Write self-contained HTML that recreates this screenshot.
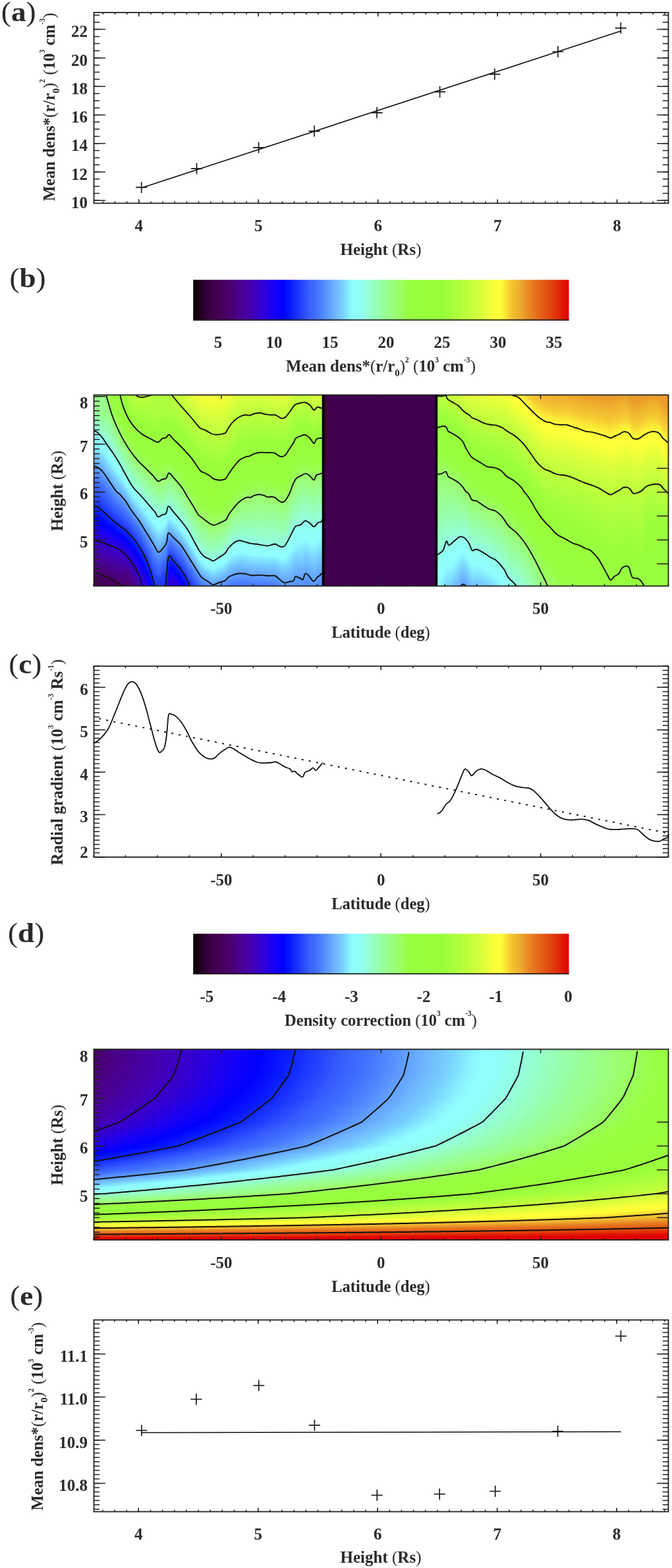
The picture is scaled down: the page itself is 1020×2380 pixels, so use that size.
<!DOCTYPE html>
<html><head><meta charset="utf-8"><title>Figure</title>
<style>
html,body{margin:0;padding:0;background:#fff;}
svg{display:block;}
text{font-family:"Liberation Serif","Times New Roman",serif;font-weight:bold;fill:#2a2a2a;}
</style></head><body>
<svg width="1020" height="2380" viewBox="0 0 1020 2380">
<rect width="1020" height="2380" fill="#fff"/>
<g id="pa">
<rect x="142.5" y="19" width="872" height="289.5" fill="none" stroke="#222" stroke-width="1.8"/>
<path d="M210.8 308.5v-6M210.8 19v6M392.25 308.5v-6M392.25 19v6M573.7 308.5v-6M573.7 19v6M755.15 308.5v-6M755.15 19v6M936.6 308.5v-6M936.6 19v6" stroke="#222" stroke-width="1.5" fill="none"/>
<path d="M156.37 308.5v-3M156.37 19v3M174.51 308.5v-3M174.51 19v3M192.66 308.5v-3M192.66 19v3M210.8 308.5v-3M210.8 19v3M228.95 308.5v-3M228.95 19v3M247.09 308.5v-3M247.09 19v3M265.24 308.5v-3M265.24 19v3M283.38 308.5v-3M283.38 19v3M301.52 308.5v-3M301.52 19v3M319.67 308.5v-3M319.67 19v3M337.82 308.5v-3M337.82 19v3M355.96 308.5v-3M355.96 19v3M374.11 308.5v-3M374.11 19v3M392.25 308.5v-3M392.25 19v3M410.4 308.5v-3M410.4 19v3M428.54 308.5v-3M428.54 19v3M446.69 308.5v-3M446.69 19v3M464.83 308.5v-3M464.83 19v3M482.97 308.5v-3M482.97 19v3M501.12 308.5v-3M501.12 19v3M519.27 308.5v-3M519.27 19v3M537.41 308.5v-3M537.41 19v3M555.56 308.5v-3M555.56 19v3M573.7 308.5v-3M573.7 19v3M591.85 308.5v-3M591.85 19v3M609.99 308.5v-3M609.99 19v3M628.14 308.5v-3M628.14 19v3M646.28 308.5v-3M646.28 19v3M664.42 308.5v-3M664.42 19v3M682.57 308.5v-3M682.57 19v3M700.72 308.5v-3M700.72 19v3M718.86 308.5v-3M718.86 19v3M737.01 308.5v-3M737.01 19v3M755.15 308.5v-3M755.15 19v3M773.3 308.5v-3M773.3 19v3M791.44 308.5v-3M791.44 19v3M809.59 308.5v-3M809.59 19v3M827.73 308.5v-3M827.73 19v3M845.88 308.5v-3M845.88 19v3M864.02 308.5v-3M864.02 19v3M882.16 308.5v-3M882.16 19v3M900.31 308.5v-3M900.31 19v3M918.45 308.5v-3M918.45 19v3M936.6 308.5v-3M936.6 19v3M954.75 308.5v-3M954.75 19v3M972.89 308.5v-3M972.89 19v3M991.04 308.5v-3M991.04 19v3M1009.18 308.5v-3M1009.18 19v3" stroke="#222" stroke-width="1.5" fill="none"/>
<path d="M142.5 304.3h17.4M1014.5 304.3h-17.4M142.5 261.02h17.4M1014.5 261.02h-17.4M142.5 217.74h17.4M1014.5 217.74h-17.4M142.5 174.46h17.4M1014.5 174.46h-17.4M142.5 131.18h17.4M1014.5 131.18h-17.4M142.5 87.9h17.4M1014.5 87.9h-17.4M142.5 44.62h17.4M1014.5 44.62h-17.4" stroke="#222" stroke-width="1.5" fill="none"/>
<path d="M142.5 304.3h8.7M1014.5 304.3h-8.7M142.5 293.48h8.7M1014.5 293.48h-8.7M142.5 282.66h8.7M1014.5 282.66h-8.7M142.5 271.84h8.7M1014.5 271.84h-8.7M142.5 261.02h8.7M1014.5 261.02h-8.7M142.5 250.2h8.7M1014.5 250.2h-8.7M142.5 239.38h8.7M1014.5 239.38h-8.7M142.5 228.56h8.7M1014.5 228.56h-8.7M142.5 217.74h8.7M1014.5 217.74h-8.7M142.5 206.92h8.7M1014.5 206.92h-8.7M142.5 196.1h8.7M1014.5 196.1h-8.7M142.5 185.28h8.7M1014.5 185.28h-8.7M142.5 174.46h8.7M1014.5 174.46h-8.7M142.5 163.64h8.7M1014.5 163.64h-8.7M142.5 152.82h8.7M1014.5 152.82h-8.7M142.5 142h8.7M1014.5 142h-8.7M142.5 131.18h8.7M1014.5 131.18h-8.7M142.5 120.36h8.7M1014.5 120.36h-8.7M142.5 109.54h8.7M1014.5 109.54h-8.7M142.5 98.72h8.7M1014.5 98.72h-8.7M142.5 87.9h8.7M1014.5 87.9h-8.7M142.5 77.08h8.7M1014.5 77.08h-8.7M142.5 66.26h8.7M1014.5 66.26h-8.7M142.5 55.44h8.7M1014.5 55.44h-8.7M142.5 44.62h8.7M1014.5 44.62h-8.7M142.5 33.8h8.7M1014.5 33.8h-8.7M142.5 22.98h8.7M1014.5 22.98h-8.7" stroke="#222" stroke-width="1.5" fill="none"/>
<text x="133.1" y="315.9" font-size="25" text-anchor="end" >10</text>
<text x="133.1" y="272.62" font-size="25" text-anchor="end" >12</text>
<text x="133.1" y="229.34" font-size="25" text-anchor="end" >14</text>
<text x="133.1" y="186.06" font-size="25" text-anchor="end" >16</text>
<text x="133.1" y="142.78" font-size="25" text-anchor="end" >18</text>
<text x="133.1" y="99.5" font-size="25" text-anchor="end" >20</text>
<text x="133.1" y="56.22" font-size="25" text-anchor="end" >22</text>
<text x="210.8" y="351.2" font-size="25" text-anchor="middle" >4</text>
<text x="392.25" y="351.2" font-size="25" text-anchor="middle" >5</text>
<text x="573.7" y="351.2" font-size="25" text-anchor="middle" >6</text>
<text x="755.15" y="351.2" font-size="25" text-anchor="middle" >7</text>
<text x="936.6" y="351.2" font-size="25" text-anchor="middle" >8</text>
<text x="578" y="386.6" font-size="25" text-anchor="middle" >Height <tspan font-weight="normal">(</tspan>Rs<tspan font-weight="normal">)</tspan></text>
<text transform="translate(82.6,162.4) rotate(-90)" font-size="24.7" text-anchor="middle">Mean dens*<tspan font-weight="normal">(</tspan>r/r<tspan font-size="15" dy="7">0</tspan><tspan dy="-7"><tspan font-weight="normal">)</tspan></tspan><tspan font-size="11.5" dy="-14.5">2</tspan><tspan dy="14.5"> <tspan font-weight="normal">(</tspan>10</tspan><tspan font-size="11.5" dy="-14.5">3</tspan><tspan dy="14.5"> cm</tspan><tspan font-size="11.5" dy="-14.5">-3</tspan><tspan dy="14.5"><tspan font-weight="normal">)</tspan></tspan></text>
<text transform="translate(1.87,31.9) scale(1.05,1)" font-size="43"><tspan font-weight="normal"><tspan font-weight="normal">(</tspan></tspan>a<tspan font-weight="normal"><tspan font-weight="normal">)</tspan></tspan></text>
<path d="M206.2 284.4H223.2M214.7 275.9V292.9" stroke="#111" stroke-width="1.6" fill="none"/>
<path d="M290 255.9H307M298.5 247.4V264.4" stroke="#111" stroke-width="1.6" fill="none"/>
<path d="M384.1 224.1H401.1M392.6 215.6V232.6" stroke="#111" stroke-width="1.6" fill="none"/>
<path d="M468.6 199.1H485.6M477.1 190.6V207.6" stroke="#111" stroke-width="1.6" fill="none"/>
<path d="M563.6 171.1H580.6M572.1 162.6V179.6" stroke="#111" stroke-width="1.6" fill="none"/>
<path d="M659.1 139.4H676.1M667.6 130.9V147.9" stroke="#111" stroke-width="1.6" fill="none"/>
<path d="M742.3 112.6H759.3M750.8 104.1V121.1" stroke="#111" stroke-width="1.6" fill="none"/>
<path d="M838.3 78.5H855.3M846.8 70V87" stroke="#111" stroke-width="1.6" fill="none"/>
<path d="M933.8 42.6H950.8M942.3 34.1V51.1" stroke="#111" stroke-width="1.6" fill="none"/>
<polyline points="214.7,285.2 941.8,47.2" fill="none" stroke="#111" stroke-width="1.6" stroke-linejoin="round" stroke-linecap="round" />
</g>
<g id="pe">
<rect x="142.5" y="2003.5" width="872" height="291" fill="none" stroke="#222" stroke-width="1.8"/>
<path d="M210.3 2294.5v-6M210.3 2003.5v6M391.75 2294.5v-6M391.75 2003.5v6M573.2 2294.5v-6M573.2 2003.5v6M754.65 2294.5v-6M754.65 2003.5v6M936.1 2294.5v-6M936.1 2003.5v6" stroke="#222" stroke-width="1.5" fill="none"/>
<path d="M155.87 2294.5v-3M155.87 2003.5v3M174.01 2294.5v-3M174.01 2003.5v3M192.16 2294.5v-3M192.16 2003.5v3M210.3 2294.5v-3M210.3 2003.5v3M228.45 2294.5v-3M228.45 2003.5v3M246.59 2294.5v-3M246.59 2003.5v3M264.74 2294.5v-3M264.74 2003.5v3M282.88 2294.5v-3M282.88 2003.5v3M301.02 2294.5v-3M301.02 2003.5v3M319.17 2294.5v-3M319.17 2003.5v3M337.32 2294.5v-3M337.32 2003.5v3M355.46 2294.5v-3M355.46 2003.5v3M373.61 2294.5v-3M373.61 2003.5v3M391.75 2294.5v-3M391.75 2003.5v3M409.9 2294.5v-3M409.9 2003.5v3M428.04 2294.5v-3M428.04 2003.5v3M446.19 2294.5v-3M446.19 2003.5v3M464.33 2294.5v-3M464.33 2003.5v3M482.47 2294.5v-3M482.47 2003.5v3M500.62 2294.5v-3M500.62 2003.5v3M518.77 2294.5v-3M518.77 2003.5v3M536.91 2294.5v-3M536.91 2003.5v3M555.06 2294.5v-3M555.06 2003.5v3M573.2 2294.5v-3M573.2 2003.5v3M591.35 2294.5v-3M591.35 2003.5v3M609.49 2294.5v-3M609.49 2003.5v3M627.64 2294.5v-3M627.64 2003.5v3M645.78 2294.5v-3M645.78 2003.5v3M663.92 2294.5v-3M663.92 2003.5v3M682.07 2294.5v-3M682.07 2003.5v3M700.22 2294.5v-3M700.22 2003.5v3M718.36 2294.5v-3M718.36 2003.5v3M736.51 2294.5v-3M736.51 2003.5v3M754.65 2294.5v-3M754.65 2003.5v3M772.8 2294.5v-3M772.8 2003.5v3M790.94 2294.5v-3M790.94 2003.5v3M809.09 2294.5v-3M809.09 2003.5v3M827.23 2294.5v-3M827.23 2003.5v3M845.38 2294.5v-3M845.38 2003.5v3M863.52 2294.5v-3M863.52 2003.5v3M881.66 2294.5v-3M881.66 2003.5v3M899.81 2294.5v-3M899.81 2003.5v3M917.95 2294.5v-3M917.95 2003.5v3M936.1 2294.5v-3M936.1 2003.5v3M954.25 2294.5v-3M954.25 2003.5v3M972.39 2294.5v-3M972.39 2003.5v3M990.54 2294.5v-3M990.54 2003.5v3M1008.68 2294.5v-3M1008.68 2003.5v3" stroke="#222" stroke-width="1.5" fill="none"/>
<path d="M142.5 2251.4h17.4M1014.5 2251.4h-17.4M142.5 2186h17.4M1014.5 2186h-17.4M142.5 2120.6h17.4M1014.5 2120.6h-17.4M142.5 2055.2h17.4M1014.5 2055.2h-17.4" stroke="#222" stroke-width="1.5" fill="none"/>
<path d="M142.5 2290.64h8.7M1014.5 2290.64h-8.7M142.5 2284.1h8.7M1014.5 2284.1h-8.7M142.5 2277.56h8.7M1014.5 2277.56h-8.7M142.5 2271.02h8.7M1014.5 2271.02h-8.7M142.5 2264.48h8.7M1014.5 2264.48h-8.7M142.5 2257.94h8.7M1014.5 2257.94h-8.7M142.5 2251.4h8.7M1014.5 2251.4h-8.7M142.5 2244.86h8.7M1014.5 2244.86h-8.7M142.5 2238.32h8.7M1014.5 2238.32h-8.7M142.5 2231.78h8.7M1014.5 2231.78h-8.7M142.5 2225.24h8.7M1014.5 2225.24h-8.7M142.5 2218.7h8.7M1014.5 2218.7h-8.7M142.5 2212.16h8.7M1014.5 2212.16h-8.7M142.5 2205.62h8.7M1014.5 2205.62h-8.7M142.5 2199.08h8.7M1014.5 2199.08h-8.7M142.5 2192.54h8.7M1014.5 2192.54h-8.7M142.5 2186h8.7M1014.5 2186h-8.7M142.5 2179.46h8.7M1014.5 2179.46h-8.7M142.5 2172.92h8.7M1014.5 2172.92h-8.7M142.5 2166.38h8.7M1014.5 2166.38h-8.7M142.5 2159.84h8.7M1014.5 2159.84h-8.7M142.5 2153.3h8.7M1014.5 2153.3h-8.7M142.5 2146.76h8.7M1014.5 2146.76h-8.7M142.5 2140.22h8.7M1014.5 2140.22h-8.7M142.5 2133.68h8.7M1014.5 2133.68h-8.7M142.5 2127.14h8.7M1014.5 2127.14h-8.7M142.5 2120.6h8.7M1014.5 2120.6h-8.7M142.5 2114.06h8.7M1014.5 2114.06h-8.7M142.5 2107.52h8.7M1014.5 2107.52h-8.7M142.5 2100.98h8.7M1014.5 2100.98h-8.7M142.5 2094.44h8.7M1014.5 2094.44h-8.7M142.5 2087.9h8.7M1014.5 2087.9h-8.7M142.5 2081.36h8.7M1014.5 2081.36h-8.7M142.5 2074.82h8.7M1014.5 2074.82h-8.7M142.5 2068.28h8.7M1014.5 2068.28h-8.7M142.5 2061.74h8.7M1014.5 2061.74h-8.7M142.5 2055.2h8.7M1014.5 2055.2h-8.7M142.5 2048.66h8.7M1014.5 2048.66h-8.7M142.5 2042.12h8.7M1014.5 2042.12h-8.7M142.5 2035.58h8.7M1014.5 2035.58h-8.7M142.5 2029.04h8.7M1014.5 2029.04h-8.7M142.5 2022.5h8.7M1014.5 2022.5h-8.7M142.5 2015.96h8.7M1014.5 2015.96h-8.7M142.5 2009.42h8.7M1014.5 2009.42h-8.7" stroke="#222" stroke-width="1.5" fill="none"/>
<text x="133.1" y="2263" font-size="25" text-anchor="end" >10.8</text>
<text x="133.1" y="2197.6" font-size="25" text-anchor="end" >10.9</text>
<text x="133.1" y="2132.2" font-size="25" text-anchor="end" >11.0</text>
<text x="133.1" y="2066.8" font-size="25" text-anchor="end" >11.1</text>
<text x="210.3" y="2336.8" font-size="25" text-anchor="middle" >4</text>
<text x="391.75" y="2336.8" font-size="25" text-anchor="middle" >5</text>
<text x="573.2" y="2336.8" font-size="25" text-anchor="middle" >6</text>
<text x="754.65" y="2336.8" font-size="25" text-anchor="middle" >7</text>
<text x="936.1" y="2336.8" font-size="25" text-anchor="middle" >8</text>
<text x="578" y="2372.4" font-size="25" text-anchor="middle" >Height <tspan font-weight="normal">(</tspan>Rs<tspan font-weight="normal">)</tspan></text>
<text transform="translate(65.2,2149.8) rotate(-90)" font-size="24.7" text-anchor="middle">Mean dens*<tspan font-weight="normal">(</tspan>r/r<tspan font-size="15" dy="7">0</tspan><tspan dy="-7"><tspan font-weight="normal">)</tspan></tspan><tspan font-size="11.5" dy="-14.5">2</tspan><tspan dy="14.5"> <tspan font-weight="normal">(</tspan>10</tspan><tspan font-size="11.5" dy="-14.5">3</tspan><tspan dy="14.5"> cm</tspan><tspan font-size="11.5" dy="-14.5">-3</tspan><tspan dy="14.5"><tspan font-weight="normal">)</tspan></tspan></text>
<text transform="translate(15.27,1981.1) scale(1.05,1)" font-size="43"><tspan font-weight="normal"><tspan font-weight="normal">(</tspan></tspan>e<tspan font-weight="normal"><tspan font-weight="normal">)</tspan></tspan></text>
<path d="M206.4 2171.2H223.4M214.9 2162.7V2179.7" stroke="#111" stroke-width="1.6" fill="none"/>
<path d="M289.4 2123.7H306.4M297.9 2115.2V2132.2" stroke="#111" stroke-width="1.6" fill="none"/>
<path d="M384.3 2103H401.3M392.8 2094.5V2111.5" stroke="#111" stroke-width="1.6" fill="none"/>
<path d="M468.9 2163.4H485.9M477.4 2154.9V2171.9" stroke="#111" stroke-width="1.6" fill="none"/>
<path d="M563.8 2269.5H580.8M572.3 2261V2278" stroke="#111" stroke-width="1.6" fill="none"/>
<path d="M658.7 2267.8H675.7M667.2 2259.3V2276.3" stroke="#111" stroke-width="1.6" fill="none"/>
<path d="M743.2 2263.5H760.2M751.7 2255V2272" stroke="#111" stroke-width="1.6" fill="none"/>
<path d="M838.1 2172.6H855.1M846.6 2164.1V2181.1" stroke="#111" stroke-width="1.6" fill="none"/>
<path d="M933.9 2028H950.9M942.4 2019.5V2036.5" stroke="#111" stroke-width="1.6" fill="none"/>
<polyline points="215,2174.5 942,2173.2" fill="none" stroke="#111" stroke-width="1.6" stroke-linejoin="round" stroke-linecap="round" />
</g>
<g id="pc">
<rect x="142.5" y="1011.2" width="872" height="289.8" fill="none" stroke="#222" stroke-width="1.8"/>
<path d="M335.9 1301v-6M335.9 1011.2v6M578.25 1301v-6M578.25 1011.2v6M820.6 1301v-6M820.6 1011.2v6" stroke="#222" stroke-width="1.5" fill="none"/>
<path d="M142.02 1301v-3M142.02 1011.2v3M190.49 1301v-3M190.49 1011.2v3M238.96 1301v-3M238.96 1011.2v3M287.43 1301v-3M287.43 1011.2v3M335.9 1301v-3M335.9 1011.2v3M384.37 1301v-3M384.37 1011.2v3M432.84 1301v-3M432.84 1011.2v3M481.31 1301v-3M481.31 1011.2v3M529.78 1301v-3M529.78 1011.2v3M578.25 1301v-3M578.25 1011.2v3M626.72 1301v-3M626.72 1011.2v3M675.19 1301v-3M675.19 1011.2v3M723.66 1301v-3M723.66 1011.2v3M772.13 1301v-3M772.13 1011.2v3M820.6 1301v-3M820.6 1011.2v3M869.07 1301v-3M869.07 1011.2v3M917.54 1301v-3M917.54 1011.2v3M966.01 1301v-3M966.01 1011.2v3M1014.48 1301v-3M1014.48 1011.2v3" stroke="#222" stroke-width="1.5" fill="none"/>
<path d="M142.5 1301h17.4M1014.5 1301h-17.4M142.5 1236.55h17.4M1014.5 1236.55h-17.4M142.5 1172.1h17.4M1014.5 1172.1h-17.4M142.5 1107.65h17.4M1014.5 1107.65h-17.4M142.5 1043.2h17.4M1014.5 1043.2h-17.4" stroke="#222" stroke-width="1.5" fill="none"/>
<path d="M142.5 1301h8.7M1014.5 1301h-8.7M142.5 1294.56h8.7M1014.5 1294.56h-8.7M142.5 1288.11h8.7M1014.5 1288.11h-8.7M142.5 1281.66h8.7M1014.5 1281.66h-8.7M142.5 1275.22h8.7M1014.5 1275.22h-8.7M142.5 1268.78h8.7M1014.5 1268.78h-8.7M142.5 1262.33h8.7M1014.5 1262.33h-8.7M142.5 1255.88h8.7M1014.5 1255.88h-8.7M142.5 1249.44h8.7M1014.5 1249.44h-8.7M142.5 1242.99h8.7M1014.5 1242.99h-8.7M142.5 1236.55h8.7M1014.5 1236.55h-8.7M142.5 1230.11h8.7M1014.5 1230.11h-8.7M142.5 1223.66h8.7M1014.5 1223.66h-8.7M142.5 1217.21h8.7M1014.5 1217.21h-8.7M142.5 1210.77h8.7M1014.5 1210.77h-8.7M142.5 1204.33h8.7M1014.5 1204.33h-8.7M142.5 1197.88h8.7M1014.5 1197.88h-8.7M142.5 1191.43h8.7M1014.5 1191.43h-8.7M142.5 1184.99h8.7M1014.5 1184.99h-8.7M142.5 1178.55h8.7M1014.5 1178.55h-8.7M142.5 1172.1h8.7M1014.5 1172.1h-8.7M142.5 1165.65h8.7M1014.5 1165.65h-8.7M142.5 1159.21h8.7M1014.5 1159.21h-8.7M142.5 1152.76h8.7M1014.5 1152.76h-8.7M142.5 1146.32h8.7M1014.5 1146.32h-8.7M142.5 1139.88h8.7M1014.5 1139.88h-8.7M142.5 1133.43h8.7M1014.5 1133.43h-8.7M142.5 1126.98h8.7M1014.5 1126.98h-8.7M142.5 1120.54h8.7M1014.5 1120.54h-8.7M142.5 1114.1h8.7M1014.5 1114.1h-8.7M142.5 1107.65h8.7M1014.5 1107.65h-8.7M142.5 1101.2h8.7M1014.5 1101.2h-8.7M142.5 1094.76h8.7M1014.5 1094.76h-8.7M142.5 1088.32h8.7M1014.5 1088.32h-8.7M142.5 1081.87h8.7M1014.5 1081.87h-8.7M142.5 1075.42h8.7M1014.5 1075.42h-8.7M142.5 1068.98h8.7M1014.5 1068.98h-8.7M142.5 1062.53h8.7M1014.5 1062.53h-8.7M142.5 1056.09h8.7M1014.5 1056.09h-8.7M142.5 1049.64h8.7M1014.5 1049.64h-8.7M142.5 1043.2h8.7M1014.5 1043.2h-8.7M142.5 1036.75h8.7M1014.5 1036.75h-8.7M142.5 1030.31h8.7M1014.5 1030.31h-8.7M142.5 1023.87h8.7M1014.5 1023.87h-8.7M142.5 1017.42h8.7M1014.5 1017.42h-8.7M142.5 1010.97h8.7M1014.5 1010.97h-8.7" stroke="#222" stroke-width="1.5" fill="none"/>
<text x="133.8" y="1301.5" font-size="25" text-anchor="end" >2</text>
<text x="133.8" y="1248.15" font-size="25" text-anchor="end" >3</text>
<text x="133.8" y="1183.7" font-size="25" text-anchor="end" >4</text>
<text x="133.8" y="1119.25" font-size="25" text-anchor="end" >5</text>
<text x="133.8" y="1054.8" font-size="25" text-anchor="end" >6</text>
<text x="335.9" y="1343.5" font-size="25" text-anchor="middle" >-50</text>
<text x="578.25" y="1343.5" font-size="25" text-anchor="middle" >0</text>
<text x="820.6" y="1343.5" font-size="25" text-anchor="middle" >50</text>
<text x="578" y="1379.6" font-size="24.6" text-anchor="middle" >Latitude <tspan font-weight="normal">(</tspan>deg<tspan font-weight="normal">)</tspan></text>
<text transform="translate(95,1157) rotate(-90)" font-size="25" text-anchor="middle">Radial gradient <tspan font-weight="normal">(</tspan>10<tspan font-size="11.5" dy="-14.5">3</tspan><tspan dy="14.5"> cm</tspan><tspan font-size="11.5" dy="-14.5">-3</tspan><tspan dy="14.5"> Rs</tspan><tspan font-size="11.5" dy="-14.5">-1</tspan><tspan dy="14.5"><tspan font-weight="normal">)</tspan></tspan></text>
<text transform="translate(13.27,1021.9) scale(1.05,1)" font-size="43"><tspan font-weight="normal"><tspan font-weight="normal">(</tspan></tspan>c<tspan font-weight="normal"><tspan font-weight="normal">)</tspan></tspan></text>
<path d="M142.5 1128C142.97 1127.75 143.37 1127.93 145.3 1126.5C147.23 1125.07 150.87 1122.93 154.1 1119.4C157.33 1115.87 161.17 1111.77 164.7 1105.3C168.23 1098.83 171.77 1089.13 175.3 1080.6C178.83 1072.07 182.97 1060.87 185.9 1054.1C188.83 1047.33 190.55 1043.23 192.9 1040C195.25 1036.77 197.63 1034.88 200 1034.7C202.37 1034.52 204.75 1035.95 207.1 1038.9C209.45 1041.85 211.75 1046.63 214.1 1052.4C216.45 1058.17 218.85 1065.57 221.2 1073.5C223.55 1081.43 225.85 1091.17 228.2 1100C230.55 1108.83 233.23 1119.73 235.3 1126.5C237.37 1133.27 239.13 1138.13 240.6 1140.6C242.07 1143.07 242.63 1142.18 244.1 1141.3C245.57 1140.42 247.93 1139.53 249.4 1135.3C250.87 1131.07 251.83 1124.13 252.9 1115.9C253.97 1107.67 254.62 1091.2 255.8 1085.9C256.98 1080.6 258.42 1084.1 260 1084.1C261.58 1084.1 262.95 1084.13 265.3 1085.9C267.65 1087.67 271.17 1090.88 274.1 1094.7C277.03 1098.52 279.95 1103.5 282.9 1108.8C285.85 1114.1 288.55 1120.9 291.8 1126.5C295.05 1132.1 298.88 1138.4 302.4 1142.4C305.92 1146.4 309.67 1148.92 312.9 1150.5C316.13 1152.08 319.43 1152.08 321.8 1151.9C324.17 1151.72 325.33 1150.7 327.1 1149.4C328.87 1148.1 330.05 1146.03 332.4 1144.1C334.75 1142.17 338.57 1139.45 341.2 1137.8C343.83 1136.15 345.85 1134.32 348.2 1134.2C350.55 1134.08 352.35 1135.45 355.3 1137.1C358.25 1138.75 361.78 1141.58 365.9 1144.1C370.02 1146.62 375.58 1149.97 380 1152.2C384.42 1154.43 388.87 1156.5 392.4 1157.5C395.93 1158.5 397.97 1158.2 401.2 1158.2C404.43 1158.2 408.87 1157.78 411.8 1157.5C414.73 1157.22 416.45 1156.08 418.8 1156.5C421.15 1156.92 423.55 1158.72 425.9 1160C428.25 1161.28 430.55 1163.02 432.9 1164.2C435.25 1165.38 438.23 1165.87 440 1167.1C441.77 1168.33 442.32 1171.02 443.5 1171.6C444.68 1172.18 445.62 1170 447.1 1170.6C448.58 1171.2 450.35 1173.73 452.4 1175.2C454.45 1176.67 457.65 1179.87 459.4 1179.4C461.15 1178.93 461.13 1174.05 462.9 1172.4C464.67 1170.75 467.93 1170.68 470 1169.5C472.07 1168.32 473.72 1165.3 475.3 1165.3C476.88 1165.3 478.03 1169.62 479.5 1169.5C480.97 1169.38 482.45 1166.48 484.1 1164.6C485.75 1162.72 488.52 1159.27 489.4 1158.2" fill="none" stroke="#111" stroke-width="1.8" stroke-linejoin="round" stroke-linecap="round" />
<path d="M664.5 1235C665.42 1234.4 667.88 1233.82 670 1231.4C672.12 1228.98 675.1 1223.03 677.2 1220.5C679.3 1217.97 680.78 1218.43 682.6 1216.2C684.42 1213.97 685.98 1211.33 688.1 1207.1C690.22 1202.87 692.88 1196.55 695.3 1190.8C697.72 1185.05 700.78 1176.53 702.6 1172.6C704.42 1168.67 704.68 1167.32 706.2 1167.2C707.72 1167.08 710.07 1170.2 711.7 1171.9C713.33 1173.6 714.2 1177.58 716 1177.4C717.8 1177.22 720.2 1172.5 722.5 1170.8C724.8 1169.1 727.37 1167.5 729.8 1167.2C732.23 1166.9 734.08 1167.62 737.1 1169C740.12 1170.38 744.28 1173.57 747.9 1175.5C751.52 1177.43 755.17 1178.65 758.8 1180.6C762.43 1182.55 766.07 1185.2 769.7 1187.2C773.33 1189.2 776.97 1191.28 780.6 1192.6C784.23 1193.92 787.88 1194.5 791.5 1195.1C795.12 1195.7 799.28 1195.4 802.3 1196.2C805.32 1197 806.57 1197.48 809.6 1199.9C812.63 1202.32 816.87 1206.78 820.5 1210.7C824.13 1214.62 827.78 1219.35 831.4 1223.4C835.02 1227.45 838.58 1231.85 842.2 1235C845.82 1238.15 848.87 1240.72 853.1 1242.3C857.33 1243.88 862.75 1244.32 867.6 1244.5C872.45 1244.68 877.97 1243.28 882.2 1243.4C886.43 1243.52 889.38 1244 893 1245.2C896.62 1246.4 899.67 1248.67 903.9 1250.6C908.13 1252.53 914.47 1255.4 918.4 1256.8C922.33 1258.2 923.87 1258.63 927.5 1259C931.13 1259.37 935.67 1259.18 940.2 1259C944.73 1258.82 950.17 1257.9 954.7 1257.9C959.23 1257.9 963.77 1257.48 967.4 1259C971.03 1260.52 973.18 1264.35 976.5 1267C979.82 1269.65 983.38 1273.22 987.3 1274.9C991.22 1276.58 996.67 1277.33 1000 1277.1C1003.33 1276.87 1005 1274.58 1007.3 1273.5C1009.6 1272.42 1012.6 1271.85 1013.8 1270.6C1015 1269.35 1014.38 1266.77 1014.5 1266" fill="none" stroke="#111" stroke-width="1.8" stroke-linejoin="round" stroke-linecap="round" />
<line x1="150.3" y1="1090.8" x2="1014.5" y2="1264.8" stroke="#111" stroke-width="1.9" stroke-dasharray="3 8.2" />
</g>
<g id="pb">
<defs><linearGradient id="cb1" x1="0" y1="0" x2="1" y2="0"><stop offset="0.0000" stop-color="#000000"/><stop offset="0.0119" stop-color="#1a0010"/><stop offset="0.0295" stop-color="#2c0032"/><stop offset="0.0470" stop-color="#3c0046"/><stop offset="0.0645" stop-color="#440052"/><stop offset="0.0821" stop-color="#48005e"/><stop offset="0.0996" stop-color="#4a0070"/><stop offset="0.1171" stop-color="#4a0087"/><stop offset="0.1347" stop-color="#48009b"/><stop offset="0.1522" stop-color="#4400af"/><stop offset="0.1697" stop-color="#3c00c3"/><stop offset="0.1873" stop-color="#3000d7"/><stop offset="0.2048" stop-color="#2000eb"/><stop offset="0.2223" stop-color="#1000fa"/><stop offset="0.2381" stop-color="#0000ff"/><stop offset="0.2574" stop-color="#0818ff"/><stop offset="0.2749" stop-color="#1830ff"/><stop offset="0.2925" stop-color="#2848ff"/><stop offset="0.3100" stop-color="#3860ff"/><stop offset="0.3275" stop-color="#4070ff"/><stop offset="0.3451" stop-color="#5088ff"/><stop offset="0.3626" stop-color="#60a0ff"/><stop offset="0.3802" stop-color="#70b8ff"/><stop offset="0.3977" stop-color="#78d0ff"/><stop offset="0.4152" stop-color="#88f0ff"/><stop offset="0.4257" stop-color="#90ffff"/><stop offset="0.4415" stop-color="#90fff8"/><stop offset="0.4591" stop-color="#94ffe0"/><stop offset="0.4766" stop-color="#96ffc4"/><stop offset="0.5029" stop-color="#98ffa0"/><stop offset="0.5380" stop-color="#9bff76"/><stop offset="0.5730" stop-color="#98ff44"/><stop offset="0.5906" stop-color="#98ff3e"/><stop offset="0.6169" stop-color="#96ff3c"/><stop offset="0.6607" stop-color="#98ff3c"/><stop offset="0.6782" stop-color="#a0ff3c"/><stop offset="0.7133" stop-color="#b4ff3c"/><stop offset="0.7484" stop-color="#caff3c"/><stop offset="0.7834" stop-color="#e8ff3a"/><stop offset="0.8045" stop-color="#ffff38"/><stop offset="0.8185" stop-color="#ffff38"/><stop offset="0.8448" stop-color="#f5c832"/><stop offset="0.8711" stop-color="#eeaa2d"/><stop offset="0.8974" stop-color="#e88223"/><stop offset="0.9237" stop-color="#e46419"/><stop offset="0.9500" stop-color="#e1460f"/><stop offset="0.9763" stop-color="#e12305"/><stop offset="1.0000" stop-color="#e10000"/></linearGradient></defs>
<rect x="293.2" y="424.7" width="570.3" height="61.80000000000001" fill="url(#cb1)"/>
<line x1="293.2" y1="485.6" x2="863.5" y2="485.6" stroke="#222" stroke-width="1.8"/>
<text x="331" y="527.6" font-size="25" text-anchor="middle" >5</text>
<text x="416" y="527.6" font-size="25" text-anchor="middle" >10</text>
<text x="501" y="527.6" font-size="25" text-anchor="middle" >15</text>
<text x="586" y="527.6" font-size="25" text-anchor="middle" >20</text>
<text x="671" y="527.6" font-size="25" text-anchor="middle" >25</text>
<text x="756" y="527.6" font-size="25" text-anchor="middle" >30</text>
<text x="841" y="527.6" font-size="25" text-anchor="middle" >35</text>
<text x="578" y="564.4" font-size="24.9" text-anchor="middle">Mean dens*<tspan font-weight="normal">(</tspan>r/r<tspan font-size="15" dy="7">0</tspan><tspan dy="-7"><tspan font-weight="normal">)</tspan></tspan><tspan font-size="11.5" dy="-14.5">2</tspan><tspan dy="14.5"> <tspan font-weight="normal">(</tspan>10</tspan><tspan font-size="11.5" dy="-14.5">3</tspan><tspan dy="14.5"> cm</tspan><tspan font-size="11.5" dy="-14.5">-3</tspan><tspan dy="14.5"><tspan font-weight="normal">)</tspan></tspan></text>
<text transform="translate(14.47,436.1) scale(1.05,1)" font-size="43"><tspan font-weight="normal"><tspan font-weight="normal">(</tspan></tspan>b<tspan font-weight="normal"><tspan font-weight="normal">)</tspan></tspan></text>
<defs><linearGradient id="b0" x2="0" y2="1"><stop offset="0.002" stop-color="#99ff8d"/><stop offset="0.060" stop-color="#99ff8f"/><stop offset="0.143" stop-color="#96ffc4"/><stop offset="0.201" stop-color="#91ffef"/><stop offset="0.218" stop-color="#90fff9"/><stop offset="0.246" stop-color="#90ffff"/><stop offset="0.277" stop-color="#84e8ff"/><stop offset="0.311" stop-color="#76cbff"/><stop offset="0.345" stop-color="#6db4ff"/><stop offset="0.455" stop-color="#4070ff"/><stop offset="0.503" stop-color="#345bff"/><stop offset="0.600" stop-color="#0d1fff"/><stop offset="0.627" stop-color="#040dff"/><stop offset="0.648" stop-color="#0000ff"/><stop offset="0.686" stop-color="#1300f7"/><stop offset="0.730" stop-color="#2800e1"/><stop offset="0.789" stop-color="#3e00be"/><stop offset="0.840" stop-color="#47009f"/><stop offset="0.919" stop-color="#4a006c"/><stop offset="0.957" stop-color="#460059"/><stop offset="0.998" stop-color="#3f004a"/></linearGradient><linearGradient id="b1" x2="0" y2="1"><stop offset="0.002" stop-color="#99ff8d"/><stop offset="0.060" stop-color="#99ff8f"/><stop offset="0.143" stop-color="#96ffc4"/><stop offset="0.201" stop-color="#91ffef"/><stop offset="0.218" stop-color="#90fff9"/><stop offset="0.246" stop-color="#90ffff"/><stop offset="0.277" stop-color="#84e8ff"/><stop offset="0.311" stop-color="#76cbff"/><stop offset="0.345" stop-color="#6db4ff"/><stop offset="0.455" stop-color="#4070ff"/><stop offset="0.503" stop-color="#345bff"/><stop offset="0.600" stop-color="#0d1fff"/><stop offset="0.627" stop-color="#040dff"/><stop offset="0.648" stop-color="#0000ff"/><stop offset="0.686" stop-color="#1300f7"/><stop offset="0.730" stop-color="#2800e1"/><stop offset="0.789" stop-color="#3e00be"/><stop offset="0.840" stop-color="#47009f"/><stop offset="0.919" stop-color="#4a006c"/><stop offset="0.957" stop-color="#460059"/><stop offset="0.998" stop-color="#3f004a"/></linearGradient><linearGradient id="b2" x2="0" y2="1"><stop offset="0.002" stop-color="#99ff8d"/><stop offset="0.060" stop-color="#99ff8e"/><stop offset="0.139" stop-color="#96ffc0"/><stop offset="0.208" stop-color="#91fff3"/><stop offset="0.222" stop-color="#90fff9"/><stop offset="0.249" stop-color="#90feff"/><stop offset="0.284" stop-color="#82e3ff"/><stop offset="0.314" stop-color="#76c9ff"/><stop offset="0.349" stop-color="#6cb2ff"/><stop offset="0.459" stop-color="#3f6fff"/><stop offset="0.507" stop-color="#3459ff"/><stop offset="0.600" stop-color="#0d20ff"/><stop offset="0.627" stop-color="#050eff"/><stop offset="0.648" stop-color="#0001ff"/><stop offset="0.686" stop-color="#1300f7"/><stop offset="0.730" stop-color="#2800e2"/><stop offset="0.789" stop-color="#3e00bf"/><stop offset="0.844" stop-color="#48009d"/><stop offset="0.923" stop-color="#49006b"/><stop offset="0.960" stop-color="#460059"/><stop offset="0.998" stop-color="#3f004b"/></linearGradient><linearGradient id="b3" x2="0" y2="1"><stop offset="0.002" stop-color="#99ff8d"/><stop offset="0.067" stop-color="#99ff8e"/><stop offset="0.146" stop-color="#96ffc1"/><stop offset="0.215" stop-color="#91fff3"/><stop offset="0.229" stop-color="#90fffa"/><stop offset="0.253" stop-color="#90ffff"/><stop offset="0.284" stop-color="#84e8ff"/><stop offset="0.318" stop-color="#76caff"/><stop offset="0.352" stop-color="#6db3ff"/><stop offset="0.459" stop-color="#4171ff"/><stop offset="0.510" stop-color="#345aff"/><stop offset="0.603" stop-color="#0e20ff"/><stop offset="0.631" stop-color="#050eff"/><stop offset="0.655" stop-color="#0100ff"/><stop offset="0.689" stop-color="#1300f8"/><stop offset="0.734" stop-color="#2800e2"/><stop offset="0.792" stop-color="#3e00bf"/><stop offset="0.847" stop-color="#48009d"/><stop offset="0.926" stop-color="#49006a"/><stop offset="0.964" stop-color="#460058"/><stop offset="0.998" stop-color="#40004c"/></linearGradient><linearGradient id="b4" x2="0" y2="1"><stop offset="0.002" stop-color="#99ff8d"/><stop offset="0.077" stop-color="#99ff8e"/><stop offset="0.156" stop-color="#96ffc2"/><stop offset="0.218" stop-color="#91fff1"/><stop offset="0.232" stop-color="#90fff9"/><stop offset="0.259" stop-color="#90ffff"/><stop offset="0.290" stop-color="#83e7ff"/><stop offset="0.325" stop-color="#76c9ff"/><stop offset="0.359" stop-color="#6cb2ff"/><stop offset="0.459" stop-color="#4374ff"/><stop offset="0.517" stop-color="#3359ff"/><stop offset="0.607" stop-color="#0e21ff"/><stop offset="0.631" stop-color="#0611ff"/><stop offset="0.658" stop-color="#0100ff"/><stop offset="0.692" stop-color="#1200f8"/><stop offset="0.737" stop-color="#2800e2"/><stop offset="0.796" stop-color="#3e00be"/><stop offset="0.851" stop-color="#48009d"/><stop offset="0.930" stop-color="#49006a"/><stop offset="0.967" stop-color="#460058"/><stop offset="0.998" stop-color="#41004d"/></linearGradient><linearGradient id="b5" x2="0" y2="1"><stop offset="0.002" stop-color="#99ff8d"/><stop offset="0.091" stop-color="#99ff8e"/><stop offset="0.170" stop-color="#96ffc3"/><stop offset="0.229" stop-color="#91fff0"/><stop offset="0.242" stop-color="#90fff9"/><stop offset="0.270" stop-color="#90ffff"/><stop offset="0.301" stop-color="#83e7ff"/><stop offset="0.332" stop-color="#76cbff"/><stop offset="0.366" stop-color="#6db3ff"/><stop offset="0.442" stop-color="#4d83ff"/><stop offset="0.483" stop-color="#3e6cff"/><stop offset="0.524" stop-color="#3359ff"/><stop offset="0.613" stop-color="#0e21ff"/><stop offset="0.637" stop-color="#0611ff"/><stop offset="0.665" stop-color="#0100ff"/><stop offset="0.699" stop-color="#1300f7"/><stop offset="0.744" stop-color="#2900e0"/><stop offset="0.799" stop-color="#3e00be"/><stop offset="0.854" stop-color="#48009d"/><stop offset="0.933" stop-color="#49006a"/><stop offset="0.971" stop-color="#460058"/><stop offset="0.998" stop-color="#41004e"/></linearGradient><linearGradient id="b6" x2="0" y2="1"><stop offset="0.002" stop-color="#99ff8d"/><stop offset="0.101" stop-color="#99ff8d"/><stop offset="0.170" stop-color="#97ffbb"/><stop offset="0.249" stop-color="#90fff7"/><stop offset="0.284" stop-color="#8ffdff"/><stop offset="0.314" stop-color="#82e4ff"/><stop offset="0.345" stop-color="#76c9ff"/><stop offset="0.376" stop-color="#6db3ff"/><stop offset="0.448" stop-color="#4e85ff"/><stop offset="0.493" stop-color="#3e6cff"/><stop offset="0.534" stop-color="#3359ff"/><stop offset="0.617" stop-color="#1125ff"/><stop offset="0.641" stop-color="#0714ff"/><stop offset="0.672" stop-color="#0100ff"/><stop offset="0.706" stop-color="#1400f6"/><stop offset="0.747" stop-color="#2900e0"/><stop offset="0.799" stop-color="#3d00c0"/><stop offset="0.851" stop-color="#4700a1"/><stop offset="0.923" stop-color="#4a0072"/><stop offset="0.967" stop-color="#47005b"/><stop offset="0.998" stop-color="#420050"/></linearGradient><linearGradient id="b7" x2="0" y2="1"><stop offset="0.002" stop-color="#99ff8d"/><stop offset="0.119" stop-color="#99ff8d"/><stop offset="0.191" stop-color="#96ffbe"/><stop offset="0.259" stop-color="#91fff4"/><stop offset="0.273" stop-color="#90fffa"/><stop offset="0.297" stop-color="#8ffeff"/><stop offset="0.328" stop-color="#82e4ff"/><stop offset="0.356" stop-color="#76cbff"/><stop offset="0.390" stop-color="#6cb2ff"/><stop offset="0.455" stop-color="#5088ff"/><stop offset="0.503" stop-color="#3e6cff"/><stop offset="0.545" stop-color="#3359ff"/><stop offset="0.627" stop-color="#1024ff"/><stop offset="0.651" stop-color="#0612ff"/><stop offset="0.679" stop-color="#0100ff"/><stop offset="0.710" stop-color="#1200f8"/><stop offset="0.751" stop-color="#2800e1"/><stop offset="0.799" stop-color="#3c00c3"/><stop offset="0.854" stop-color="#4700a1"/><stop offset="0.926" stop-color="#4a0073"/><stop offset="0.971" stop-color="#47005b"/><stop offset="0.998" stop-color="#430051"/></linearGradient><linearGradient id="b8" x2="0" y2="1"><stop offset="0.002" stop-color="#9aff69"/><stop offset="0.115" stop-color="#98ff9c"/><stop offset="0.218" stop-color="#95ffd1"/><stop offset="0.266" stop-color="#92ffee"/><stop offset="0.284" stop-color="#90fff9"/><stop offset="0.311" stop-color="#90ffff"/><stop offset="0.342" stop-color="#83e5ff"/><stop offset="0.373" stop-color="#76caff"/><stop offset="0.404" stop-color="#6db4ff"/><stop offset="0.503" stop-color="#4272ff"/><stop offset="0.555" stop-color="#345aff"/><stop offset="0.634" stop-color="#1126ff"/><stop offset="0.658" stop-color="#0613ff"/><stop offset="0.686" stop-color="#0100ff"/><stop offset="0.716" stop-color="#1300f7"/><stop offset="0.754" stop-color="#2700e2"/><stop offset="0.796" stop-color="#3900c7"/><stop offset="0.851" stop-color="#4600a6"/><stop offset="0.926" stop-color="#4a0076"/><stop offset="0.974" stop-color="#47005c"/><stop offset="0.998" stop-color="#440053"/></linearGradient><linearGradient id="b9" x2="0" y2="1"><stop offset="0.002" stop-color="#99ff54"/><stop offset="0.084" stop-color="#9aff81"/><stop offset="0.184" stop-color="#97ffb3"/><stop offset="0.256" stop-color="#94ffde"/><stop offset="0.297" stop-color="#90fff8"/><stop offset="0.328" stop-color="#8ffdff"/><stop offset="0.359" stop-color="#82e3ff"/><stop offset="0.387" stop-color="#76cbff"/><stop offset="0.421" stop-color="#6cb2ff"/><stop offset="0.524" stop-color="#3f6eff"/><stop offset="0.565" stop-color="#345aff"/><stop offset="0.644" stop-color="#1125ff"/><stop offset="0.668" stop-color="#0612ff"/><stop offset="0.692" stop-color="#0100ff"/><stop offset="0.723" stop-color="#1300f7"/><stop offset="0.761" stop-color="#2800e1"/><stop offset="0.799" stop-color="#3900c8"/><stop offset="0.854" stop-color="#4600a6"/><stop offset="0.933" stop-color="#4a0074"/><stop offset="0.981" stop-color="#47005b"/><stop offset="0.998" stop-color="#450055"/></linearGradient><linearGradient id="b10" x2="0" y2="1"><stop offset="0.002" stop-color="#98ff42"/><stop offset="0.019" stop-color="#98ff47"/><stop offset="0.112" stop-color="#9aff7f"/><stop offset="0.204" stop-color="#97ffb2"/><stop offset="0.270" stop-color="#94ffdc"/><stop offset="0.314" stop-color="#90fff9"/><stop offset="0.342" stop-color="#8ffeff"/><stop offset="0.373" stop-color="#82e4ff"/><stop offset="0.404" stop-color="#76c9ff"/><stop offset="0.435" stop-color="#6db3ff"/><stop offset="0.538" stop-color="#3f6eff"/><stop offset="0.576" stop-color="#355bff"/><stop offset="0.651" stop-color="#1227ff"/><stop offset="0.675" stop-color="#0612ff"/><stop offset="0.699" stop-color="#0000ff"/><stop offset="0.727" stop-color="#1200f8"/><stop offset="0.765" stop-color="#2800e1"/><stop offset="0.799" stop-color="#3800ca"/><stop offset="0.857" stop-color="#4600a7"/><stop offset="0.936" stop-color="#4a0075"/><stop offset="0.985" stop-color="#47005b"/><stop offset="0.998" stop-color="#450056"/></linearGradient><linearGradient id="b11" x2="0" y2="1"><stop offset="0.002" stop-color="#97ff3d"/><stop offset="0.053" stop-color="#98ff44"/><stop offset="0.143" stop-color="#9aff80"/><stop offset="0.229" stop-color="#97ffb3"/><stop offset="0.325" stop-color="#90fff8"/><stop offset="0.356" stop-color="#90ffff"/><stop offset="0.387" stop-color="#83e6ff"/><stop offset="0.418" stop-color="#76caff"/><stop offset="0.452" stop-color="#6cb2ff"/><stop offset="0.552" stop-color="#3f6dff"/><stop offset="0.589" stop-color="#3459ff"/><stop offset="0.662" stop-color="#1125ff"/><stop offset="0.682" stop-color="#0613ff"/><stop offset="0.706" stop-color="#0000ff"/><stop offset="0.734" stop-color="#1200f8"/><stop offset="0.771" stop-color="#2900e0"/><stop offset="0.806" stop-color="#3900c9"/><stop offset="0.861" stop-color="#4500a8"/><stop offset="0.940" stop-color="#4a0077"/><stop offset="0.991" stop-color="#47005b"/><stop offset="0.998" stop-color="#460059"/></linearGradient><linearGradient id="b12" x2="0" y2="1"><stop offset="0.002" stop-color="#97ff3d"/><stop offset="0.060" stop-color="#98ff40"/><stop offset="0.084" stop-color="#98ff46"/><stop offset="0.167" stop-color="#9aff80"/><stop offset="0.249" stop-color="#97ffb4"/><stop offset="0.338" stop-color="#90fff7"/><stop offset="0.373" stop-color="#8ffdff"/><stop offset="0.404" stop-color="#82e4ff"/><stop offset="0.431" stop-color="#76cbff"/><stop offset="0.466" stop-color="#6cb3ff"/><stop offset="0.565" stop-color="#3e6dff"/><stop offset="0.600" stop-color="#345aff"/><stop offset="0.668" stop-color="#1227ff"/><stop offset="0.692" stop-color="#0611ff"/><stop offset="0.713" stop-color="#0000ff"/><stop offset="0.741" stop-color="#1300f8"/><stop offset="0.775" stop-color="#2800e1"/><stop offset="0.802" stop-color="#3600cd"/><stop offset="0.857" stop-color="#4400ad"/><stop offset="0.940" stop-color="#4a007b"/><stop offset="0.988" stop-color="#48005f"/><stop offset="0.998" stop-color="#47005b"/></linearGradient><linearGradient id="b13" x2="0" y2="1"><stop offset="0.002" stop-color="#97ff3d"/><stop offset="0.088" stop-color="#98ff40"/><stop offset="0.112" stop-color="#98ff46"/><stop offset="0.191" stop-color="#9aff80"/><stop offset="0.270" stop-color="#97ffb5"/><stop offset="0.356" stop-color="#90fff7"/><stop offset="0.387" stop-color="#90ffff"/><stop offset="0.418" stop-color="#83e5ff"/><stop offset="0.448" stop-color="#76caff"/><stop offset="0.479" stop-color="#6db3ff"/><stop offset="0.576" stop-color="#3f6dff"/><stop offset="0.610" stop-color="#345aff"/><stop offset="0.679" stop-color="#1125ff"/><stop offset="0.699" stop-color="#0612ff"/><stop offset="0.720" stop-color="#0000ff"/><stop offset="0.747" stop-color="#1300f7"/><stop offset="0.778" stop-color="#2700e3"/><stop offset="0.806" stop-color="#3500ce"/><stop offset="0.861" stop-color="#4400ae"/><stop offset="0.947" stop-color="#4a007a"/><stop offset="0.998" stop-color="#48005d"/></linearGradient><linearGradient id="b14" x2="0" y2="1"><stop offset="0.002" stop-color="#97ff3d"/><stop offset="0.105" stop-color="#98ff3f"/><stop offset="0.136" stop-color="#98ff46"/><stop offset="0.211" stop-color="#9aff80"/><stop offset="0.287" stop-color="#97ffb4"/><stop offset="0.369" stop-color="#90fff6"/><stop offset="0.400" stop-color="#90ffff"/><stop offset="0.431" stop-color="#82e5ff"/><stop offset="0.459" stop-color="#76cbff"/><stop offset="0.490" stop-color="#6db3ff"/><stop offset="0.582" stop-color="#3f6eff"/><stop offset="0.617" stop-color="#355bff"/><stop offset="0.686" stop-color="#1126ff"/><stop offset="0.706" stop-color="#0612ff"/><stop offset="0.727" stop-color="#0000ff"/><stop offset="0.751" stop-color="#1100f9"/><stop offset="0.785" stop-color="#2800e1"/><stop offset="0.813" stop-color="#3600cc"/><stop offset="0.871" stop-color="#4500ab"/><stop offset="0.957" stop-color="#4a0077"/><stop offset="0.998" stop-color="#480060"/></linearGradient><linearGradient id="b15" x2="0" y2="1"><stop offset="0.002" stop-color="#97ff3c"/><stop offset="0.115" stop-color="#98ff40"/><stop offset="0.146" stop-color="#98ff46"/><stop offset="0.242" stop-color="#9aff87"/><stop offset="0.308" stop-color="#97ffb5"/><stop offset="0.390" stop-color="#90fff8"/><stop offset="0.418" stop-color="#8ffdff"/><stop offset="0.445" stop-color="#82e4ff"/><stop offset="0.473" stop-color="#76c9ff"/><stop offset="0.500" stop-color="#6db3ff"/><stop offset="0.593" stop-color="#3f6dff"/><stop offset="0.627" stop-color="#345aff"/><stop offset="0.692" stop-color="#1227ff"/><stop offset="0.713" stop-color="#0613ff"/><stop offset="0.734" stop-color="#0000ff"/><stop offset="0.761" stop-color="#1300f7"/><stop offset="0.796" stop-color="#2a00df"/><stop offset="0.823" stop-color="#3700cb"/><stop offset="0.881" stop-color="#4500a9"/><stop offset="0.964" stop-color="#4a0077"/><stop offset="0.998" stop-color="#490064"/></linearGradient><linearGradient id="b16" x2="0" y2="1"><stop offset="0.002" stop-color="#98ff3c"/><stop offset="0.119" stop-color="#97ff3d"/><stop offset="0.170" stop-color="#98ff44"/><stop offset="0.259" stop-color="#9aff85"/><stop offset="0.328" stop-color="#97ffb6"/><stop offset="0.407" stop-color="#90fff8"/><stop offset="0.431" stop-color="#90ffff"/><stop offset="0.455" stop-color="#85eaff"/><stop offset="0.486" stop-color="#76c9ff"/><stop offset="0.514" stop-color="#6cb3ff"/><stop offset="0.603" stop-color="#3f6dff"/><stop offset="0.634" stop-color="#355cff"/><stop offset="0.703" stop-color="#1024ff"/><stop offset="0.723" stop-color="#0611ff"/><stop offset="0.744" stop-color="#0100ff"/><stop offset="0.768" stop-color="#1300f8"/><stop offset="0.799" stop-color="#2700e3"/><stop offset="0.826" stop-color="#3600ce"/><stop offset="0.881" stop-color="#4400ad"/><stop offset="0.967" stop-color="#4a0079"/><stop offset="0.998" stop-color="#490067"/></linearGradient><linearGradient id="b17" x2="0" y2="1"><stop offset="0.002" stop-color="#9fff3c"/><stop offset="0.036" stop-color="#98ff3c"/><stop offset="0.146" stop-color="#97ff3d"/><stop offset="0.191" stop-color="#98ff44"/><stop offset="0.277" stop-color="#9aff84"/><stop offset="0.345" stop-color="#97ffb5"/><stop offset="0.424" stop-color="#90fff8"/><stop offset="0.448" stop-color="#90ffff"/><stop offset="0.473" stop-color="#84e8ff"/><stop offset="0.500" stop-color="#76caff"/><stop offset="0.527" stop-color="#6cb2ff"/><stop offset="0.613" stop-color="#3f6dff"/><stop offset="0.644" stop-color="#355bff"/><stop offset="0.713" stop-color="#0e22ff"/><stop offset="0.730" stop-color="#0612ff"/><stop offset="0.751" stop-color="#0100ff"/><stop offset="0.775" stop-color="#1200f8"/><stop offset="0.809" stop-color="#2800e1"/><stop offset="0.851" stop-color="#3d00c0"/><stop offset="0.888" stop-color="#4700a1"/><stop offset="0.943" stop-color="#4a0072"/><stop offset="0.998" stop-color="#4a0072"/></linearGradient><linearGradient id="b18" x2="0" y2="1"><stop offset="0.002" stop-color="#a8ff3c"/><stop offset="0.064" stop-color="#98ff3c"/><stop offset="0.167" stop-color="#97ff3d"/><stop offset="0.211" stop-color="#98ff45"/><stop offset="0.284" stop-color="#9aff7d"/><stop offset="0.359" stop-color="#97ffb2"/><stop offset="0.411" stop-color="#94ffdd"/><stop offset="0.442" stop-color="#90fff8"/><stop offset="0.466" stop-color="#90ffff"/><stop offset="0.493" stop-color="#81e2ff"/><stop offset="0.517" stop-color="#75c8ff"/><stop offset="0.541" stop-color="#6cb2ff"/><stop offset="0.624" stop-color="#3f6eff"/><stop offset="0.655" stop-color="#355bff"/><stop offset="0.723" stop-color="#0e21ff"/><stop offset="0.741" stop-color="#0611ff"/><stop offset="0.761" stop-color="#0100ff"/><stop offset="0.785" stop-color="#1200f8"/><stop offset="0.816" stop-color="#2600e3"/><stop offset="0.857" stop-color="#3d00c1"/><stop offset="0.899" stop-color="#4700a0"/><stop offset="0.950" stop-color="#4a0073"/><stop offset="0.998" stop-color="#4a0072"/></linearGradient><linearGradient id="b19" x2="0" y2="1"><stop offset="0.002" stop-color="#adff3c"/><stop offset="0.022" stop-color="#a9ff3c"/><stop offset="0.084" stop-color="#98ff3c"/><stop offset="0.187" stop-color="#97ff3d"/><stop offset="0.229" stop-color="#98ff44"/><stop offset="0.301" stop-color="#9aff7d"/><stop offset="0.376" stop-color="#97ffb1"/><stop offset="0.428" stop-color="#94ffdc"/><stop offset="0.462" stop-color="#90fff9"/><stop offset="0.483" stop-color="#90ffff"/><stop offset="0.507" stop-color="#83e7ff"/><stop offset="0.531" stop-color="#76cbff"/><stop offset="0.558" stop-color="#6cb2ff"/><stop offset="0.637" stop-color="#3f6eff"/><stop offset="0.668" stop-color="#345aff"/><stop offset="0.747" stop-color="#0714ff"/><stop offset="0.771" stop-color="#0000ff"/><stop offset="0.799" stop-color="#1400f7"/><stop offset="0.833" stop-color="#2900df"/><stop offset="0.878" stop-color="#3f00bc"/><stop offset="0.919" stop-color="#48009b"/><stop offset="0.967" stop-color="#4a0072"/><stop offset="0.998" stop-color="#4a0072"/></linearGradient><linearGradient id="b20" x2="0" y2="1"><stop offset="0.002" stop-color="#adff3c"/><stop offset="0.033" stop-color="#abff3c"/><stop offset="0.098" stop-color="#98ff3c"/><stop offset="0.201" stop-color="#97ff3d"/><stop offset="0.242" stop-color="#98ff43"/><stop offset="0.318" stop-color="#9aff7e"/><stop offset="0.393" stop-color="#97ffb1"/><stop offset="0.445" stop-color="#94ffdb"/><stop offset="0.479" stop-color="#90fff8"/><stop offset="0.503" stop-color="#8ffdff"/><stop offset="0.527" stop-color="#81e3ff"/><stop offset="0.552" stop-color="#75c8ff"/><stop offset="0.576" stop-color="#6cb1ff"/><stop offset="0.651" stop-color="#3f6eff"/><stop offset="0.682" stop-color="#3459ff"/><stop offset="0.758" stop-color="#0715ff"/><stop offset="0.782" stop-color="#0000ff"/><stop offset="0.809" stop-color="#1300f8"/><stop offset="0.844" stop-color="#2800e1"/><stop offset="0.885" stop-color="#3d00c1"/><stop offset="0.926" stop-color="#4700a1"/><stop offset="0.981" stop-color="#4a0073"/><stop offset="0.998" stop-color="#4a0072"/></linearGradient><linearGradient id="b21" x2="0" y2="1"><stop offset="0.002" stop-color="#adff3c"/><stop offset="0.050" stop-color="#abff3c"/><stop offset="0.115" stop-color="#98ff3c"/><stop offset="0.218" stop-color="#97ff3d"/><stop offset="0.259" stop-color="#98ff44"/><stop offset="0.325" stop-color="#9bff79"/><stop offset="0.407" stop-color="#97ffb1"/><stop offset="0.459" stop-color="#94ffda"/><stop offset="0.497" stop-color="#90fff9"/><stop offset="0.517" stop-color="#90ffff"/><stop offset="0.541" stop-color="#83e5ff"/><stop offset="0.565" stop-color="#76caff"/><stop offset="0.589" stop-color="#6db3ff"/><stop offset="0.665" stop-color="#3f6eff"/><stop offset="0.696" stop-color="#3359ff"/><stop offset="0.771" stop-color="#0714ff"/><stop offset="0.796" stop-color="#0000ff"/><stop offset="0.823" stop-color="#1300f7"/><stop offset="0.857" stop-color="#2800e1"/><stop offset="0.899" stop-color="#3c00c2"/><stop offset="0.940" stop-color="#4700a2"/><stop offset="0.998" stop-color="#4a0073"/></linearGradient><linearGradient id="b22" x2="0" y2="1"><stop offset="0.002" stop-color="#adff3c"/><stop offset="0.064" stop-color="#abff3c"/><stop offset="0.129" stop-color="#98ff3c"/><stop offset="0.229" stop-color="#97ff3d"/><stop offset="0.270" stop-color="#98ff43"/><stop offset="0.342" stop-color="#9bff7c"/><stop offset="0.424" stop-color="#97ffb3"/><stop offset="0.493" stop-color="#92ffea"/><stop offset="0.510" stop-color="#90fff9"/><stop offset="0.531" stop-color="#90ffff"/><stop offset="0.555" stop-color="#83e6ff"/><stop offset="0.579" stop-color="#76caff"/><stop offset="0.603" stop-color="#6db3ff"/><stop offset="0.679" stop-color="#3f6eff"/><stop offset="0.706" stop-color="#355bff"/><stop offset="0.782" stop-color="#0716ff"/><stop offset="0.809" stop-color="#0000ff"/><stop offset="0.837" stop-color="#1200f8"/><stop offset="0.875" stop-color="#2900e0"/><stop offset="0.919" stop-color="#3e00be"/><stop offset="0.960" stop-color="#4700a0"/><stop offset="0.998" stop-color="#4a0083"/></linearGradient><linearGradient id="b23" x2="0" y2="1"><stop offset="0.002" stop-color="#bdff3c"/><stop offset="0.125" stop-color="#99ff3c"/><stop offset="0.235" stop-color="#97ff3d"/><stop offset="0.277" stop-color="#98ff42"/><stop offset="0.287" stop-color="#98ff46"/><stop offset="0.352" stop-color="#9bff7a"/><stop offset="0.435" stop-color="#97ffb2"/><stop offset="0.486" stop-color="#94ffdb"/><stop offset="0.521" stop-color="#90fff8"/><stop offset="0.545" stop-color="#8ffeff"/><stop offset="0.569" stop-color="#82e4ff"/><stop offset="0.593" stop-color="#76c9ff"/><stop offset="0.617" stop-color="#6db3ff"/><stop offset="0.692" stop-color="#3f6eff"/><stop offset="0.720" stop-color="#345aff"/><stop offset="0.796" stop-color="#0715ff"/><stop offset="0.823" stop-color="#0000ff"/><stop offset="0.851" stop-color="#1200f9"/><stop offset="0.888" stop-color="#2700e2"/><stop offset="0.933" stop-color="#3d00c2"/><stop offset="0.978" stop-color="#4700a2"/><stop offset="0.998" stop-color="#490093"/></linearGradient><linearGradient id="b24" x2="0" y2="1"><stop offset="0.002" stop-color="#bfff3c"/><stop offset="0.132" stop-color="#9aff3c"/><stop offset="0.242" stop-color="#97ff3d"/><stop offset="0.284" stop-color="#98ff41"/><stop offset="0.297" stop-color="#98ff44"/><stop offset="0.366" stop-color="#9bff7b"/><stop offset="0.445" stop-color="#97ffb1"/><stop offset="0.497" stop-color="#94ffda"/><stop offset="0.531" stop-color="#90fff8"/><stop offset="0.555" stop-color="#90ffff"/><stop offset="0.579" stop-color="#83e7ff"/><stop offset="0.607" stop-color="#75c8ff"/><stop offset="0.631" stop-color="#6db3ff"/><stop offset="0.706" stop-color="#3f6eff"/><stop offset="0.734" stop-color="#355bff"/><stop offset="0.809" stop-color="#0818ff"/><stop offset="0.840" stop-color="#0000ff"/><stop offset="0.871" stop-color="#1300f7"/><stop offset="0.909" stop-color="#2800e1"/><stop offset="0.957" stop-color="#3d00c0"/><stop offset="0.998" stop-color="#4600a3"/></linearGradient><linearGradient id="b25" x2="0" y2="1"><stop offset="0.002" stop-color="#c0ff3c"/><stop offset="0.143" stop-color="#99ff3c"/><stop offset="0.256" stop-color="#97ff3d"/><stop offset="0.297" stop-color="#98ff42"/><stop offset="0.311" stop-color="#98ff47"/><stop offset="0.376" stop-color="#9bff7b"/><stop offset="0.459" stop-color="#97ffb3"/><stop offset="0.534" stop-color="#91fff1"/><stop offset="0.548" stop-color="#90fffa"/><stop offset="0.569" stop-color="#8ffeff"/><stop offset="0.596" stop-color="#81e2ff"/><stop offset="0.620" stop-color="#76c9ff"/><stop offset="0.648" stop-color="#6bb1ff"/><stop offset="0.723" stop-color="#3f6dff"/><stop offset="0.751" stop-color="#345bff"/><stop offset="0.813" stop-color="#1023ff"/><stop offset="0.837" stop-color="#0611ff"/><stop offset="0.861" stop-color="#0001ff"/><stop offset="0.895" stop-color="#1300f7"/><stop offset="0.936" stop-color="#2800e1"/><stop offset="0.988" stop-color="#3d00c0"/><stop offset="0.998" stop-color="#4000b9"/></linearGradient><linearGradient id="b26" x2="0" y2="1"><stop offset="0.002" stop-color="#c0ff3c"/><stop offset="0.146" stop-color="#9aff3c"/><stop offset="0.263" stop-color="#97ff3d"/><stop offset="0.304" stop-color="#98ff42"/><stop offset="0.318" stop-color="#98ff45"/><stop offset="0.390" stop-color="#9aff7d"/><stop offset="0.469" stop-color="#97ffb3"/><stop offset="0.521" stop-color="#94ffdc"/><stop offset="0.555" stop-color="#90fff8"/><stop offset="0.582" stop-color="#8ffdff"/><stop offset="0.610" stop-color="#81e2ff"/><stop offset="0.634" stop-color="#76caff"/><stop offset="0.662" stop-color="#6cb3ff"/><stop offset="0.741" stop-color="#3e6dff"/><stop offset="0.768" stop-color="#345aff"/><stop offset="0.823" stop-color="#1329ff"/><stop offset="0.854" stop-color="#0613ff"/><stop offset="0.885" stop-color="#0000ff"/><stop offset="0.923" stop-color="#1300f7"/><stop offset="0.967" stop-color="#2800e1"/><stop offset="0.998" stop-color="#3500cf"/></linearGradient><linearGradient id="b27" x2="0" y2="1"><stop offset="0.002" stop-color="#c0ff3c"/><stop offset="0.153" stop-color="#99ff3c"/><stop offset="0.273" stop-color="#97ff3d"/><stop offset="0.314" stop-color="#98ff42"/><stop offset="0.328" stop-color="#98ff46"/><stop offset="0.400" stop-color="#9aff7d"/><stop offset="0.479" stop-color="#97ffb2"/><stop offset="0.531" stop-color="#94ffdb"/><stop offset="0.569" stop-color="#90fff8"/><stop offset="0.593" stop-color="#90ffff"/><stop offset="0.617" stop-color="#85eaff"/><stop offset="0.648" stop-color="#76cbff"/><stop offset="0.679" stop-color="#6cb2ff"/><stop offset="0.758" stop-color="#3f6eff"/><stop offset="0.785" stop-color="#355cff"/><stop offset="0.864" stop-color="#0715ff"/><stop offset="0.888" stop-color="#0001ff"/><stop offset="0.916" stop-color="#1100f9"/><stop offset="0.950" stop-color="#2600e3"/><stop offset="0.960" stop-color="#2b00dd"/><stop offset="0.998" stop-color="#2b00dd"/></linearGradient><linearGradient id="b28" x2="0" y2="1"><stop offset="0.002" stop-color="#bfff3c"/><stop offset="0.156" stop-color="#99ff3c"/><stop offset="0.280" stop-color="#97ff3d"/><stop offset="0.325" stop-color="#98ff42"/><stop offset="0.338" stop-color="#98ff47"/><stop offset="0.414" stop-color="#9aff7f"/><stop offset="0.490" stop-color="#97ffb1"/><stop offset="0.545" stop-color="#94ffdc"/><stop offset="0.582" stop-color="#90fff9"/><stop offset="0.607" stop-color="#90ffff"/><stop offset="0.634" stop-color="#84e7ff"/><stop offset="0.665" stop-color="#76c9ff"/><stop offset="0.692" stop-color="#6db3ff"/><stop offset="0.775" stop-color="#3f6eff"/><stop offset="0.806" stop-color="#345aff"/><stop offset="0.885" stop-color="#0715ff"/><stop offset="0.912" stop-color="#0000ff"/><stop offset="0.940" stop-color="#1200f8"/><stop offset="0.978" stop-color="#2800e1"/><stop offset="0.988" stop-color="#2b00dd"/><stop offset="0.998" stop-color="#2b00dd"/></linearGradient><linearGradient id="b29" x2="0" y2="1"><stop offset="0.002" stop-color="#beff3c"/><stop offset="0.160" stop-color="#99ff3c"/><stop offset="0.287" stop-color="#97ff3d"/><stop offset="0.332" stop-color="#98ff42"/><stop offset="0.345" stop-color="#98ff45"/><stop offset="0.424" stop-color="#9aff7f"/><stop offset="0.503" stop-color="#97ffb3"/><stop offset="0.555" stop-color="#94ffdb"/><stop offset="0.593" stop-color="#90fff8"/><stop offset="0.620" stop-color="#90ffff"/><stop offset="0.648" stop-color="#84e8ff"/><stop offset="0.679" stop-color="#76caff"/><stop offset="0.710" stop-color="#6cb2ff"/><stop offset="0.796" stop-color="#3f6eff"/><stop offset="0.826" stop-color="#355bff"/><stop offset="0.912" stop-color="#0714ff"/><stop offset="0.940" stop-color="#0000ff"/><stop offset="0.971" stop-color="#1300f7"/><stop offset="0.998" stop-color="#2200e8"/></linearGradient><linearGradient id="b30" x2="0" y2="1"><stop offset="0.002" stop-color="#beff3c"/><stop offset="0.163" stop-color="#99ff3c"/><stop offset="0.294" stop-color="#97ff3d"/><stop offset="0.338" stop-color="#98ff42"/><stop offset="0.356" stop-color="#98ff46"/><stop offset="0.438" stop-color="#9aff81"/><stop offset="0.517" stop-color="#97ffb5"/><stop offset="0.607" stop-color="#90fff8"/><stop offset="0.634" stop-color="#90ffff"/><stop offset="0.665" stop-color="#82e5ff"/><stop offset="0.692" stop-color="#76cbff"/><stop offset="0.727" stop-color="#6cb1ff"/><stop offset="0.816" stop-color="#3f6eff"/><stop offset="0.851" stop-color="#345aff"/><stop offset="0.940" stop-color="#0716ff"/><stop offset="0.971" stop-color="#0000ff"/><stop offset="0.998" stop-color="#1000fa"/></linearGradient><linearGradient id="b31" x2="0" y2="1"><stop offset="0.002" stop-color="#adff3c"/><stop offset="0.108" stop-color="#acff3c"/><stop offset="0.187" stop-color="#98ff3c"/><stop offset="0.311" stop-color="#97ff3d"/><stop offset="0.363" stop-color="#98ff45"/><stop offset="0.452" stop-color="#9aff83"/><stop offset="0.527" stop-color="#97ffb4"/><stop offset="0.617" stop-color="#90fff7"/><stop offset="0.648" stop-color="#90ffff"/><stop offset="0.679" stop-color="#83e6ff"/><stop offset="0.710" stop-color="#76caff"/><stop offset="0.744" stop-color="#6bb1ff"/><stop offset="0.844" stop-color="#3e6dff"/><stop offset="0.878" stop-color="#345bff"/><stop offset="0.978" stop-color="#0715ff"/><stop offset="0.998" stop-color="#0308ff"/></linearGradient><linearGradient id="b32" x2="0" y2="1"><stop offset="0.002" stop-color="#adff3c"/><stop offset="0.108" stop-color="#acff3c"/><stop offset="0.191" stop-color="#98ff3c"/><stop offset="0.318" stop-color="#97ff3d"/><stop offset="0.369" stop-color="#98ff44"/><stop offset="0.466" stop-color="#9aff84"/><stop offset="0.541" stop-color="#97ffb5"/><stop offset="0.631" stop-color="#90fff8"/><stop offset="0.662" stop-color="#90ffff"/><stop offset="0.692" stop-color="#83e7ff"/><stop offset="0.727" stop-color="#76c9ff"/><stop offset="0.761" stop-color="#6bb1ff"/><stop offset="0.868" stop-color="#3f6dff"/><stop offset="0.905" stop-color="#355cff"/><stop offset="0.998" stop-color="#0d20ff"/></linearGradient><linearGradient id="b33" x2="0" y2="1"><stop offset="0.002" stop-color="#adff3c"/><stop offset="0.108" stop-color="#acff3c"/><stop offset="0.194" stop-color="#98ff3c"/><stop offset="0.325" stop-color="#97ff3d"/><stop offset="0.380" stop-color="#98ff44"/><stop offset="0.479" stop-color="#9aff85"/><stop offset="0.555" stop-color="#97ffb6"/><stop offset="0.644" stop-color="#90fff7"/><stop offset="0.679" stop-color="#8ffeff"/><stop offset="0.713" stop-color="#81e2ff"/><stop offset="0.744" stop-color="#75c8ff"/><stop offset="0.775" stop-color="#6db3ff"/><stop offset="0.878" stop-color="#3f6eff"/><stop offset="0.916" stop-color="#345aff"/><stop offset="0.960" stop-color="#203cff"/><stop offset="0.998" stop-color="#203bff"/></linearGradient><linearGradient id="b34" x2="0" y2="1"><stop offset="0.002" stop-color="#adff3c"/><stop offset="0.112" stop-color="#abff3c"/><stop offset="0.198" stop-color="#98ff3c"/><stop offset="0.332" stop-color="#97ff3d"/><stop offset="0.390" stop-color="#98ff45"/><stop offset="0.490" stop-color="#9aff84"/><stop offset="0.569" stop-color="#97ffb5"/><stop offset="0.662" stop-color="#90fff8"/><stop offset="0.692" stop-color="#90ffff"/><stop offset="0.723" stop-color="#84e7ff"/><stop offset="0.758" stop-color="#76caff"/><stop offset="0.792" stop-color="#6cb2ff"/><stop offset="0.895" stop-color="#3e6dff"/><stop offset="0.930" stop-color="#355bff"/><stop offset="0.978" stop-color="#203bff"/><stop offset="0.998" stop-color="#203bff"/></linearGradient><linearGradient id="b35" x2="0" y2="1"><stop offset="0.002" stop-color="#adff3c"/><stop offset="0.098" stop-color="#acff3c"/><stop offset="0.187" stop-color="#98ff3c"/><stop offset="0.328" stop-color="#97ff3d"/><stop offset="0.383" stop-color="#98ff44"/><stop offset="0.486" stop-color="#9aff84"/><stop offset="0.565" stop-color="#97ffb5"/><stop offset="0.658" stop-color="#90fff7"/><stop offset="0.692" stop-color="#8ffeff"/><stop offset="0.727" stop-color="#81e3ff"/><stop offset="0.758" stop-color="#76c9ff"/><stop offset="0.792" stop-color="#6cb2ff"/><stop offset="0.895" stop-color="#3f6dff"/><stop offset="0.933" stop-color="#345aff"/><stop offset="0.978" stop-color="#203cff"/><stop offset="0.998" stop-color="#203bff"/></linearGradient><linearGradient id="b36" x2="0" y2="1"><stop offset="0.002" stop-color="#adff3c"/><stop offset="0.088" stop-color="#abff3c"/><stop offset="0.177" stop-color="#98ff3c"/><stop offset="0.318" stop-color="#97ff3d"/><stop offset="0.376" stop-color="#98ff44"/><stop offset="0.483" stop-color="#9aff84"/><stop offset="0.562" stop-color="#97ffb6"/><stop offset="0.655" stop-color="#90fff8"/><stop offset="0.686" stop-color="#90ffff"/><stop offset="0.716" stop-color="#83e6ff"/><stop offset="0.747" stop-color="#76cbff"/><stop offset="0.782" stop-color="#6db3ff"/><stop offset="0.885" stop-color="#3e6dff"/><stop offset="0.919" stop-color="#355bff"/><stop offset="0.967" stop-color="#203bff"/><stop offset="0.998" stop-color="#203bff"/></linearGradient><linearGradient id="b37" x2="0" y2="1"><stop offset="0.002" stop-color="#adff3c"/><stop offset="0.084" stop-color="#abff3c"/><stop offset="0.174" stop-color="#98ff3c"/><stop offset="0.314" stop-color="#97ff3d"/><stop offset="0.373" stop-color="#98ff44"/><stop offset="0.479" stop-color="#9aff84"/><stop offset="0.558" stop-color="#97ffb6"/><stop offset="0.651" stop-color="#90fff9"/><stop offset="0.679" stop-color="#90ffff"/><stop offset="0.710" stop-color="#83e5ff"/><stop offset="0.741" stop-color="#76c9ff"/><stop offset="0.771" stop-color="#6db3ff"/><stop offset="0.868" stop-color="#3f6eff"/><stop offset="0.905" stop-color="#345aff"/><stop offset="0.947" stop-color="#203cff"/><stop offset="0.998" stop-color="#203bff"/></linearGradient><linearGradient id="b38" x2="0" y2="1"><stop offset="0.002" stop-color="#adff3c"/><stop offset="0.081" stop-color="#abff3c"/><stop offset="0.170" stop-color="#98ff3c"/><stop offset="0.314" stop-color="#97ff3d"/><stop offset="0.373" stop-color="#98ff44"/><stop offset="0.476" stop-color="#9aff84"/><stop offset="0.555" stop-color="#97ffb6"/><stop offset="0.644" stop-color="#90fff8"/><stop offset="0.672" stop-color="#8ffeff"/><stop offset="0.699" stop-color="#82e5ff"/><stop offset="0.727" stop-color="#76caff"/><stop offset="0.758" stop-color="#6cb2ff"/><stop offset="0.792" stop-color="#5c99ff"/><stop offset="0.871" stop-color="#3e6cff"/><stop offset="0.912" stop-color="#345aff"/><stop offset="0.998" stop-color="#1228ff"/></linearGradient><linearGradient id="b39" x2="0" y2="1"><stop offset="0.002" stop-color="#adff3c"/><stop offset="0.077" stop-color="#abff3c"/><stop offset="0.163" stop-color="#98ff3c"/><stop offset="0.301" stop-color="#97ff3d"/><stop offset="0.359" stop-color="#98ff44"/><stop offset="0.459" stop-color="#9aff85"/><stop offset="0.531" stop-color="#97ffb5"/><stop offset="0.617" stop-color="#90fff8"/><stop offset="0.641" stop-color="#90ffff"/><stop offset="0.668" stop-color="#82e4ff"/><stop offset="0.692" stop-color="#76cbff"/><stop offset="0.723" stop-color="#6bb1ff"/><stop offset="0.802" stop-color="#3f6eff"/><stop offset="0.833" stop-color="#355bff"/><stop offset="0.916" stop-color="#0714ff"/><stop offset="0.943" stop-color="#0100ff"/><stop offset="0.971" stop-color="#1200f8"/><stop offset="0.998" stop-color="#2200e9"/></linearGradient><linearGradient id="b40" x2="0" y2="1"><stop offset="0.002" stop-color="#adff3c"/><stop offset="0.077" stop-color="#abff3c"/><stop offset="0.163" stop-color="#98ff3c"/><stop offset="0.297" stop-color="#97ff3d"/><stop offset="0.352" stop-color="#98ff44"/><stop offset="0.452" stop-color="#9aff85"/><stop offset="0.527" stop-color="#97ffb6"/><stop offset="0.600" stop-color="#91ffef"/><stop offset="0.613" stop-color="#90fff9"/><stop offset="0.634" stop-color="#90feff"/><stop offset="0.662" stop-color="#81e2ff"/><stop offset="0.682" stop-color="#76cbff"/><stop offset="0.710" stop-color="#6cb2ff"/><stop offset="0.782" stop-color="#3f6dff"/><stop offset="0.806" stop-color="#355cff"/><stop offset="0.878" stop-color="#0715ff"/><stop offset="0.902" stop-color="#0000ff"/><stop offset="0.926" stop-color="#1200f8"/><stop offset="0.957" stop-color="#2600e3"/><stop offset="0.967" stop-color="#2b00dd"/><stop offset="0.998" stop-color="#2b00dd"/></linearGradient><linearGradient id="b41" x2="0" y2="1"><stop offset="0.002" stop-color="#adff3c"/><stop offset="0.088" stop-color="#abff3c"/><stop offset="0.174" stop-color="#98ff3c"/><stop offset="0.308" stop-color="#97ff3d"/><stop offset="0.363" stop-color="#98ff44"/><stop offset="0.462" stop-color="#9aff85"/><stop offset="0.538" stop-color="#97ffb6"/><stop offset="0.607" stop-color="#92ffeb"/><stop offset="0.624" stop-color="#90fff9"/><stop offset="0.644" stop-color="#90ffff"/><stop offset="0.672" stop-color="#81e1ff"/><stop offset="0.692" stop-color="#76caff"/><stop offset="0.720" stop-color="#6bb1ff"/><stop offset="0.789" stop-color="#3f6eff"/><stop offset="0.813" stop-color="#365dff"/><stop offset="0.885" stop-color="#0715ff"/><stop offset="0.909" stop-color="#0100ff"/><stop offset="0.933" stop-color="#1300f7"/><stop offset="0.964" stop-color="#2800e2"/><stop offset="0.971" stop-color="#2b00dd"/><stop offset="0.998" stop-color="#2b00dd"/></linearGradient><linearGradient id="b42" x2="0" y2="1"><stop offset="0.002" stop-color="#c0ff3c"/><stop offset="0.167" stop-color="#99ff3c"/><stop offset="0.304" stop-color="#97ff3d"/><stop offset="0.359" stop-color="#98ff42"/><stop offset="0.376" stop-color="#98ff46"/><stop offset="0.473" stop-color="#9aff85"/><stop offset="0.548" stop-color="#97ffb5"/><stop offset="0.617" stop-color="#92ffea"/><stop offset="0.634" stop-color="#90fff9"/><stop offset="0.655" stop-color="#90ffff"/><stop offset="0.679" stop-color="#83e6ff"/><stop offset="0.703" stop-color="#76caff"/><stop offset="0.727" stop-color="#6db3ff"/><stop offset="0.799" stop-color="#3e6dff"/><stop offset="0.823" stop-color="#345aff"/><stop offset="0.892" stop-color="#0714ff"/><stop offset="0.912" stop-color="#0001ff"/><stop offset="0.936" stop-color="#1100f9"/><stop offset="0.967" stop-color="#2600e3"/><stop offset="0.974" stop-color="#2b00dd"/><stop offset="0.998" stop-color="#2b00dd"/></linearGradient><linearGradient id="b43" x2="0" y2="1"><stop offset="0.002" stop-color="#c3ff3c"/><stop offset="0.177" stop-color="#9aff3c"/><stop offset="0.314" stop-color="#97ff3d"/><stop offset="0.366" stop-color="#98ff41"/><stop offset="0.387" stop-color="#98ff46"/><stop offset="0.486" stop-color="#9aff86"/><stop offset="0.562" stop-color="#97ffb7"/><stop offset="0.631" stop-color="#92ffec"/><stop offset="0.644" stop-color="#90fff8"/><stop offset="0.665" stop-color="#90ffff"/><stop offset="0.686" stop-color="#86ebff"/><stop offset="0.713" stop-color="#76caff"/><stop offset="0.741" stop-color="#6bb0ff"/><stop offset="0.809" stop-color="#3f6dff"/><stop offset="0.833" stop-color="#355cff"/><stop offset="0.902" stop-color="#0716ff"/><stop offset="0.926" stop-color="#0000ff"/><stop offset="0.950" stop-color="#1200f8"/><stop offset="0.981" stop-color="#2700e3"/><stop offset="0.988" stop-color="#2b00dd"/><stop offset="0.998" stop-color="#2b00dd"/></linearGradient><linearGradient id="b44" x2="0" y2="1"><stop offset="0.002" stop-color="#c6ff3c"/><stop offset="0.184" stop-color="#9aff3c"/><stop offset="0.242" stop-color="#97ff3c"/><stop offset="0.366" stop-color="#98ff3f"/><stop offset="0.397" stop-color="#98ff45"/><stop offset="0.497" stop-color="#9aff85"/><stop offset="0.572" stop-color="#97ffb5"/><stop offset="0.641" stop-color="#92ffea"/><stop offset="0.658" stop-color="#90fff9"/><stop offset="0.679" stop-color="#90feff"/><stop offset="0.703" stop-color="#82e3ff"/><stop offset="0.723" stop-color="#76cbff"/><stop offset="0.751" stop-color="#6bb1ff"/><stop offset="0.820" stop-color="#3f6eff"/><stop offset="0.844" stop-color="#365dff"/><stop offset="0.916" stop-color="#0715ff"/><stop offset="0.940" stop-color="#0100ff"/><stop offset="0.964" stop-color="#1200f8"/><stop offset="0.995" stop-color="#2700e3"/><stop offset="0.998" stop-color="#2900e0"/></linearGradient><linearGradient id="b45" x2="0" y2="1"><stop offset="0.002" stop-color="#caff3c"/><stop offset="0.187" stop-color="#9cff3c"/><stop offset="0.225" stop-color="#98ff3c"/><stop offset="0.352" stop-color="#97ff3d"/><stop offset="0.407" stop-color="#98ff44"/><stop offset="0.510" stop-color="#9aff86"/><stop offset="0.586" stop-color="#97ffb7"/><stop offset="0.655" stop-color="#92ffec"/><stop offset="0.668" stop-color="#90fff8"/><stop offset="0.689" stop-color="#90ffff"/><stop offset="0.713" stop-color="#82e4ff"/><stop offset="0.737" stop-color="#75c8ff"/><stop offset="0.761" stop-color="#6bb1ff"/><stop offset="0.830" stop-color="#3f6eff"/><stop offset="0.857" stop-color="#345aff"/><stop offset="0.930" stop-color="#0714ff"/><stop offset="0.950" stop-color="#0001ff"/><stop offset="0.978" stop-color="#1300f8"/><stop offset="0.998" stop-color="#2000eb"/></linearGradient><linearGradient id="b46" x2="0" y2="1"><stop offset="0.002" stop-color="#ceff3c"/><stop offset="0.174" stop-color="#a1ff3c"/><stop offset="0.229" stop-color="#98ff3c"/><stop offset="0.363" stop-color="#97ff3d"/><stop offset="0.421" stop-color="#98ff45"/><stop offset="0.521" stop-color="#9aff84"/><stop offset="0.596" stop-color="#97ffb5"/><stop offset="0.665" stop-color="#92ffea"/><stop offset="0.682" stop-color="#90fff9"/><stop offset="0.703" stop-color="#90feff"/><stop offset="0.723" stop-color="#84e8ff"/><stop offset="0.747" stop-color="#76caff"/><stop offset="0.771" stop-color="#6db3ff"/><stop offset="0.844" stop-color="#3f6eff"/><stop offset="0.871" stop-color="#345aff"/><stop offset="0.943" stop-color="#0714ff"/><stop offset="0.967" stop-color="#0100ff"/><stop offset="0.991" stop-color="#1200f8"/><stop offset="0.998" stop-color="#1600f4"/></linearGradient><linearGradient id="b47" x2="0" y2="1"><stop offset="0.002" stop-color="#d3ff3b"/><stop offset="0.077" stop-color="#bcff3c"/><stop offset="0.225" stop-color="#99ff3c"/><stop offset="0.366" stop-color="#97ff3d"/><stop offset="0.424" stop-color="#98ff43"/><stop offset="0.438" stop-color="#98ff47"/><stop offset="0.538" stop-color="#9aff86"/><stop offset="0.613" stop-color="#97ffb7"/><stop offset="0.682" stop-color="#92ffed"/><stop offset="0.696" stop-color="#90fff9"/><stop offset="0.716" stop-color="#90ffff"/><stop offset="0.741" stop-color="#82e4ff"/><stop offset="0.765" stop-color="#75c8ff"/><stop offset="0.789" stop-color="#6bb1ff"/><stop offset="0.861" stop-color="#3f6dff"/><stop offset="0.885" stop-color="#365cff"/><stop offset="0.960" stop-color="#0714ff"/><stop offset="0.985" stop-color="#0100ff"/><stop offset="0.998" stop-color="#0b00fc"/></linearGradient><linearGradient id="b48" x2="0" y2="1"><stop offset="0.002" stop-color="#d7ff3b"/><stop offset="0.067" stop-color="#c2ff3c"/><stop offset="0.232" stop-color="#9aff3c"/><stop offset="0.373" stop-color="#97ff3d"/><stop offset="0.431" stop-color="#98ff41"/><stop offset="0.452" stop-color="#98ff46"/><stop offset="0.527" stop-color="#9bff74"/><stop offset="0.620" stop-color="#97ffb1"/><stop offset="0.675" stop-color="#94ffdc"/><stop offset="0.710" stop-color="#90fff9"/><stop offset="0.730" stop-color="#90ffff"/><stop offset="0.754" stop-color="#83e5ff"/><stop offset="0.778" stop-color="#76c9ff"/><stop offset="0.802" stop-color="#6cb3ff"/><stop offset="0.875" stop-color="#3f6fff"/><stop offset="0.902" stop-color="#355bff"/><stop offset="0.978" stop-color="#0714ff"/><stop offset="0.998" stop-color="#0102ff"/></linearGradient><linearGradient id="b49" x2="0" y2="1"><stop offset="0.002" stop-color="#dbff3b"/><stop offset="0.074" stop-color="#c3ff3c"/><stop offset="0.242" stop-color="#9aff3c"/><stop offset="0.373" stop-color="#97ff3d"/><stop offset="0.442" stop-color="#98ff41"/><stop offset="0.469" stop-color="#98ff47"/><stop offset="0.541" stop-color="#9bff72"/><stop offset="0.637" stop-color="#97ffb2"/><stop offset="0.689" stop-color="#94ffdb"/><stop offset="0.723" stop-color="#90fff8"/><stop offset="0.744" stop-color="#90ffff"/><stop offset="0.765" stop-color="#86ebff"/><stop offset="0.792" stop-color="#76cbff"/><stop offset="0.820" stop-color="#6cb2ff"/><stop offset="0.895" stop-color="#3e6dff"/><stop offset="0.923" stop-color="#345aff"/><stop offset="0.998" stop-color="#0714ff"/></linearGradient><linearGradient id="b50" x2="0" y2="1"><stop offset="0.002" stop-color="#e0ff3b"/><stop offset="0.081" stop-color="#c4ff3c"/><stop offset="0.253" stop-color="#9aff3c"/><stop offset="0.335" stop-color="#97ff3c"/><stop offset="0.448" stop-color="#98ff40"/><stop offset="0.483" stop-color="#98ff46"/><stop offset="0.558" stop-color="#9bff72"/><stop offset="0.655" stop-color="#97ffb2"/><stop offset="0.710" stop-color="#94ffde"/><stop offset="0.741" stop-color="#90fff8"/><stop offset="0.765" stop-color="#8ffdff"/><stop offset="0.785" stop-color="#84e7ff"/><stop offset="0.809" stop-color="#76cbff"/><stop offset="0.837" stop-color="#6bb1ff"/><stop offset="0.912" stop-color="#3f6eff"/><stop offset="0.943" stop-color="#345aff"/><stop offset="0.998" stop-color="#1329ff"/></linearGradient><linearGradient id="b51" x2="0" y2="1"><stop offset="0.002" stop-color="#e4ff3a"/><stop offset="0.091" stop-color="#c5ff3c"/><stop offset="0.266" stop-color="#9aff3c"/><stop offset="0.411" stop-color="#97ff3d"/><stop offset="0.476" stop-color="#98ff42"/><stop offset="0.500" stop-color="#98ff47"/><stop offset="0.572" stop-color="#9bff70"/><stop offset="0.675" stop-color="#97ffb4"/><stop offset="0.744" stop-color="#92ffea"/><stop offset="0.761" stop-color="#90fff9"/><stop offset="0.782" stop-color="#90feff"/><stop offset="0.806" stop-color="#82e4ff"/><stop offset="0.830" stop-color="#75c8ff"/><stop offset="0.854" stop-color="#6bb1ff"/><stop offset="0.926" stop-color="#3f6dff"/><stop offset="0.954" stop-color="#345aff"/><stop offset="0.985" stop-color="#203cff"/><stop offset="0.998" stop-color="#203bff"/></linearGradient><linearGradient id="b52" x2="0" y2="1"><stop offset="0.002" stop-color="#e9ff3a"/><stop offset="0.101" stop-color="#c5ff3c"/><stop offset="0.277" stop-color="#9aff3c"/><stop offset="0.342" stop-color="#97ff3c"/><stop offset="0.479" stop-color="#98ff40"/><stop offset="0.514" stop-color="#98ff46"/><stop offset="0.589" stop-color="#9bff70"/><stop offset="0.692" stop-color="#97ffb4"/><stop offset="0.761" stop-color="#92ffe9"/><stop offset="0.778" stop-color="#90fff9"/><stop offset="0.799" stop-color="#90ffff"/><stop offset="0.823" stop-color="#82e4ff"/><stop offset="0.847" stop-color="#75c8ff"/><stop offset="0.871" stop-color="#6bb0ff"/><stop offset="0.940" stop-color="#3f6fff"/><stop offset="0.967" stop-color="#355bff"/><stop offset="0.998" stop-color="#213dff"/></linearGradient><linearGradient id="b53" x2="0" y2="1"><stop offset="0.002" stop-color="#eeff39"/><stop offset="0.112" stop-color="#c6ff3c"/><stop offset="0.290" stop-color="#9aff3c"/><stop offset="0.349" stop-color="#97ff3c"/><stop offset="0.493" stop-color="#98ff40"/><stop offset="0.531" stop-color="#98ff46"/><stop offset="0.607" stop-color="#9bff70"/><stop offset="0.710" stop-color="#97ffb3"/><stop offset="0.765" stop-color="#94ffdd"/><stop offset="0.796" stop-color="#90fff8"/><stop offset="0.816" stop-color="#90ffff"/><stop offset="0.837" stop-color="#84e9ff"/><stop offset="0.861" stop-color="#76cbff"/><stop offset="0.885" stop-color="#6db3ff"/><stop offset="0.957" stop-color="#3f6eff"/><stop offset="0.981" stop-color="#365dff"/><stop offset="0.998" stop-color="#2b4cff"/></linearGradient><linearGradient id="b54" x2="0" y2="1"><stop offset="0.002" stop-color="#f1ff39"/><stop offset="0.125" stop-color="#c5ff3c"/><stop offset="0.308" stop-color="#9aff3c"/><stop offset="0.459" stop-color="#97ff3d"/><stop offset="0.524" stop-color="#98ff41"/><stop offset="0.548" stop-color="#98ff46"/><stop offset="0.627" stop-color="#9bff72"/><stop offset="0.730" stop-color="#97ffb4"/><stop offset="0.799" stop-color="#92ffea"/><stop offset="0.813" stop-color="#90fff8"/><stop offset="0.833" stop-color="#90ffff"/><stop offset="0.854" stop-color="#85e9ff"/><stop offset="0.878" stop-color="#76cbff"/><stop offset="0.902" stop-color="#6db3ff"/><stop offset="0.971" stop-color="#3f6fff"/><stop offset="0.998" stop-color="#345aff"/></linearGradient><linearGradient id="b55" x2="0" y2="1"><stop offset="0.002" stop-color="#f1ff39"/><stop offset="0.019" stop-color="#efff39"/><stop offset="0.132" stop-color="#c6ff3c"/><stop offset="0.318" stop-color="#9aff3c"/><stop offset="0.373" stop-color="#97ff3c"/><stop offset="0.521" stop-color="#98ff3f"/><stop offset="0.558" stop-color="#98ff45"/><stop offset="0.641" stop-color="#9bff73"/><stop offset="0.744" stop-color="#97ffb3"/><stop offset="0.813" stop-color="#93ffe6"/><stop offset="0.833" stop-color="#90fff9"/><stop offset="0.851" stop-color="#90ffff"/><stop offset="0.871" stop-color="#84e9ff"/><stop offset="0.895" stop-color="#76caff"/><stop offset="0.919" stop-color="#6cb1ff"/><stop offset="0.988" stop-color="#3e6dff"/><stop offset="0.998" stop-color="#3b65ff"/></linearGradient><linearGradient id="b56" x2="0" y2="1"><stop offset="0.002" stop-color="#f1ff39"/><stop offset="0.026" stop-color="#eeff39"/><stop offset="0.143" stop-color="#c6ff3c"/><stop offset="0.328" stop-color="#9aff3c"/><stop offset="0.400" stop-color="#97ff3c"/><stop offset="0.534" stop-color="#98ff40"/><stop offset="0.569" stop-color="#98ff45"/><stop offset="0.651" stop-color="#9bff74"/><stop offset="0.754" stop-color="#97ffb2"/><stop offset="0.813" stop-color="#94ffdd"/><stop offset="0.833" stop-color="#92ffed"/><stop offset="0.847" stop-color="#90fff9"/><stop offset="0.864" stop-color="#90ffff"/><stop offset="0.885" stop-color="#85e9ff"/><stop offset="0.909" stop-color="#76cbff"/><stop offset="0.933" stop-color="#6cb3ff"/><stop offset="0.998" stop-color="#4171ff"/></linearGradient><linearGradient id="b57" x2="0" y2="1"><stop offset="0.002" stop-color="#f1ff39"/><stop offset="0.026" stop-color="#f0ff39"/><stop offset="0.139" stop-color="#c7ff3c"/><stop offset="0.328" stop-color="#9bff3c"/><stop offset="0.366" stop-color="#98ff3c"/><stop offset="0.510" stop-color="#98ff3e"/><stop offset="0.576" stop-color="#98ff45"/><stop offset="0.658" stop-color="#9bff73"/><stop offset="0.765" stop-color="#97ffb2"/><stop offset="0.823" stop-color="#94ffdb"/><stop offset="0.844" stop-color="#92ffeb"/><stop offset="0.857" stop-color="#90fff8"/><stop offset="0.878" stop-color="#8ffeff"/><stop offset="0.899" stop-color="#82e5ff"/><stop offset="0.919" stop-color="#76caff"/><stop offset="0.940" stop-color="#6eb5ff"/><stop offset="0.998" stop-color="#4578ff"/></linearGradient><linearGradient id="b58" x2="0" y2="1"><stop offset="0.002" stop-color="#f1ff39"/><stop offset="0.029" stop-color="#f0ff39"/><stop offset="0.146" stop-color="#c7ff3c"/><stop offset="0.335" stop-color="#9bff3c"/><stop offset="0.380" stop-color="#97ff3c"/><stop offset="0.521" stop-color="#98ff3e"/><stop offset="0.582" stop-color="#98ff45"/><stop offset="0.665" stop-color="#9bff72"/><stop offset="0.775" stop-color="#97ffb4"/><stop offset="0.847" stop-color="#93ffe7"/><stop offset="0.864" stop-color="#90fff8"/><stop offset="0.885" stop-color="#90feff"/><stop offset="0.905" stop-color="#83e5ff"/><stop offset="0.926" stop-color="#76caff"/><stop offset="0.947" stop-color="#6eb5ff"/><stop offset="0.998" stop-color="#4a7fff"/></linearGradient><linearGradient id="b59" x2="0" y2="1"><stop offset="0.002" stop-color="#f1ff39"/><stop offset="0.036" stop-color="#efff39"/><stop offset="0.156" stop-color="#c6ff3c"/><stop offset="0.345" stop-color="#9aff3c"/><stop offset="0.473" stop-color="#96ff3c"/><stop offset="0.562" stop-color="#98ff41"/><stop offset="0.593" stop-color="#98ff47"/><stop offset="0.672" stop-color="#9bff71"/><stop offset="0.782" stop-color="#97ffb4"/><stop offset="0.851" stop-color="#93ffe5"/><stop offset="0.871" stop-color="#90fff9"/><stop offset="0.888" stop-color="#90fffe"/><stop offset="0.905" stop-color="#87eeff"/><stop offset="0.933" stop-color="#76caff"/><stop offset="0.954" stop-color="#6eb4ff"/><stop offset="0.998" stop-color="#4f86ff"/></linearGradient><linearGradient id="b60" x2="0" y2="1"><stop offset="0.002" stop-color="#f1ff39"/><stop offset="0.043" stop-color="#efff39"/><stop offset="0.160" stop-color="#c6ff3c"/><stop offset="0.349" stop-color="#9aff3c"/><stop offset="0.400" stop-color="#97ff3c"/><stop offset="0.541" stop-color="#98ff3e"/><stop offset="0.596" stop-color="#98ff45"/><stop offset="0.679" stop-color="#9bff71"/><stop offset="0.785" stop-color="#97ffb2"/><stop offset="0.844" stop-color="#94ffdd"/><stop offset="0.864" stop-color="#92ffee"/><stop offset="0.875" stop-color="#90fff8"/><stop offset="0.895" stop-color="#90ffff"/><stop offset="0.916" stop-color="#84e8ff"/><stop offset="0.936" stop-color="#77cdff"/><stop offset="0.960" stop-color="#6db4ff"/><stop offset="0.998" stop-color="#548dff"/></linearGradient><linearGradient id="b61" x2="0" y2="1"><stop offset="0.002" stop-color="#f1ff39"/><stop offset="0.046" stop-color="#efff39"/><stop offset="0.167" stop-color="#c6ff3c"/><stop offset="0.356" stop-color="#9aff3c"/><stop offset="0.407" stop-color="#97ff3c"/><stop offset="0.548" stop-color="#98ff3e"/><stop offset="0.603" stop-color="#98ff45"/><stop offset="0.686" stop-color="#9bff72"/><stop offset="0.792" stop-color="#97ffb3"/><stop offset="0.864" stop-color="#93ffe8"/><stop offset="0.881" stop-color="#90fff9"/><stop offset="0.902" stop-color="#8ffeff"/><stop offset="0.923" stop-color="#83e6ff"/><stop offset="0.947" stop-color="#75c8ff"/><stop offset="0.971" stop-color="#6ab0ff"/><stop offset="0.998" stop-color="#5894ff"/></linearGradient><linearGradient id="b62" x2="0" y2="1"><stop offset="0.002" stop-color="#f1ff39"/><stop offset="0.046" stop-color="#efff39"/><stop offset="0.167" stop-color="#c6ff3c"/><stop offset="0.363" stop-color="#9aff3c"/><stop offset="0.421" stop-color="#97ff3c"/><stop offset="0.569" stop-color="#98ff3f"/><stop offset="0.610" stop-color="#98ff46"/><stop offset="0.689" stop-color="#9bff72"/><stop offset="0.796" stop-color="#97ffb3"/><stop offset="0.868" stop-color="#93ffe7"/><stop offset="0.885" stop-color="#90fff8"/><stop offset="0.905" stop-color="#90ffff"/><stop offset="0.926" stop-color="#84e9ff"/><stop offset="0.950" stop-color="#76caff"/><stop offset="0.974" stop-color="#6cb2ff"/><stop offset="0.998" stop-color="#5c9aff"/></linearGradient><linearGradient id="b63" x2="0" y2="1"><stop offset="0.002" stop-color="#f1ff39"/><stop offset="0.046" stop-color="#f0ff39"/><stop offset="0.167" stop-color="#c7ff3c"/><stop offset="0.363" stop-color="#9bff3c"/><stop offset="0.407" stop-color="#97ff3c"/><stop offset="0.548" stop-color="#98ff3e"/><stop offset="0.610" stop-color="#98ff46"/><stop offset="0.689" stop-color="#9bff72"/><stop offset="0.792" stop-color="#97ffb3"/><stop offset="0.864" stop-color="#93ffe9"/><stop offset="0.881" stop-color="#90fff9"/><stop offset="0.902" stop-color="#90ffff"/><stop offset="0.926" stop-color="#82e3ff"/><stop offset="0.947" stop-color="#76caff"/><stop offset="0.971" stop-color="#6cb2ff"/><stop offset="0.998" stop-color="#5a97ff"/></linearGradient><linearGradient id="b64" x2="0" y2="1"><stop offset="0.002" stop-color="#f1ff39"/><stop offset="0.046" stop-color="#efff39"/><stop offset="0.170" stop-color="#c6ff3c"/><stop offset="0.369" stop-color="#9aff3c"/><stop offset="0.483" stop-color="#96ff3c"/><stop offset="0.576" stop-color="#98ff40"/><stop offset="0.607" stop-color="#98ff45"/><stop offset="0.686" stop-color="#9bff73"/><stop offset="0.785" stop-color="#97ffb2"/><stop offset="0.840" stop-color="#94ffdb"/><stop offset="0.875" stop-color="#90fff8"/><stop offset="0.895" stop-color="#90ffff"/><stop offset="0.916" stop-color="#85eaff"/><stop offset="0.940" stop-color="#77ccff"/><stop offset="0.964" stop-color="#6eb5ff"/><stop offset="0.998" stop-color="#5894ff"/></linearGradient><linearGradient id="b65" x2="0" y2="1"><stop offset="0.002" stop-color="#f1ff39"/><stop offset="0.043" stop-color="#efff39"/><stop offset="0.170" stop-color="#c6ff3c"/><stop offset="0.369" stop-color="#9aff3c"/><stop offset="0.479" stop-color="#96ff3c"/><stop offset="0.576" stop-color="#98ff40"/><stop offset="0.607" stop-color="#98ff47"/><stop offset="0.682" stop-color="#9bff74"/><stop offset="0.778" stop-color="#97ffb1"/><stop offset="0.833" stop-color="#94ffda"/><stop offset="0.864" stop-color="#91fff4"/><stop offset="0.875" stop-color="#90fffa"/><stop offset="0.892" stop-color="#8ffeff"/><stop offset="0.916" stop-color="#82e3ff"/><stop offset="0.936" stop-color="#76cbff"/><stop offset="0.964" stop-color="#6bb1ff"/><stop offset="0.998" stop-color="#5590ff"/></linearGradient><linearGradient id="b66" x2="0" y2="1"><stop offset="0.002" stop-color="#f1ff39"/><stop offset="0.040" stop-color="#f0ff39"/><stop offset="0.163" stop-color="#c7ff3c"/><stop offset="0.366" stop-color="#9bff3c"/><stop offset="0.418" stop-color="#97ff3c"/><stop offset="0.548" stop-color="#98ff3e"/><stop offset="0.600" stop-color="#98ff45"/><stop offset="0.679" stop-color="#9bff75"/><stop offset="0.771" stop-color="#97ffb0"/><stop offset="0.826" stop-color="#94ffda"/><stop offset="0.864" stop-color="#90fff9"/><stop offset="0.885" stop-color="#90ffff"/><stop offset="0.909" stop-color="#83e5ff"/><stop offset="0.933" stop-color="#76caff"/><stop offset="0.960" stop-color="#6bb0ff"/><stop offset="0.998" stop-color="#548dff"/></linearGradient><linearGradient id="b67" x2="0" y2="1"><stop offset="0.002" stop-color="#f1ff39"/><stop offset="0.040" stop-color="#efff39"/><stop offset="0.167" stop-color="#c6ff3c"/><stop offset="0.369" stop-color="#9aff3c"/><stop offset="0.521" stop-color="#97ff3d"/><stop offset="0.579" stop-color="#98ff42"/><stop offset="0.600" stop-color="#98ff47"/><stop offset="0.672" stop-color="#9bff74"/><stop offset="0.768" stop-color="#97ffb2"/><stop offset="0.823" stop-color="#94ffdd"/><stop offset="0.857" stop-color="#90fff9"/><stop offset="0.878" stop-color="#90ffff"/><stop offset="0.902" stop-color="#84e7ff"/><stop offset="0.930" stop-color="#76c9ff"/><stop offset="0.954" stop-color="#6db3ff"/><stop offset="0.998" stop-color="#528bff"/></linearGradient><linearGradient id="b68" x2="0" y2="1"><stop offset="0.002" stop-color="#f1ff39"/><stop offset="0.036" stop-color="#efff39"/><stop offset="0.163" stop-color="#c6ff3c"/><stop offset="0.366" stop-color="#9aff3c"/><stop offset="0.517" stop-color="#97ff3d"/><stop offset="0.572" stop-color="#98ff41"/><stop offset="0.593" stop-color="#98ff46"/><stop offset="0.665" stop-color="#9bff73"/><stop offset="0.761" stop-color="#97ffb2"/><stop offset="0.816" stop-color="#94ffdd"/><stop offset="0.851" stop-color="#90fff9"/><stop offset="0.875" stop-color="#8ffeff"/><stop offset="0.902" stop-color="#81e1ff"/><stop offset="0.926" stop-color="#75c8ff"/><stop offset="0.950" stop-color="#6db3ff"/><stop offset="0.998" stop-color="#5189ff"/></linearGradient><linearGradient id="b69" x2="0" y2="1"><stop offset="0.002" stop-color="#f1ff39"/><stop offset="0.022" stop-color="#eeff39"/><stop offset="0.149" stop-color="#c6ff3c"/><stop offset="0.352" stop-color="#9aff3c"/><stop offset="0.490" stop-color="#97ff3d"/><stop offset="0.555" stop-color="#98ff41"/><stop offset="0.582" stop-color="#98ff47"/><stop offset="0.655" stop-color="#9bff74"/><stop offset="0.747" stop-color="#97ffb2"/><stop offset="0.799" stop-color="#94ffdc"/><stop offset="0.837" stop-color="#90fff9"/><stop offset="0.861" stop-color="#8ffeff"/><stop offset="0.888" stop-color="#81e3ff"/><stop offset="0.912" stop-color="#76caff"/><stop offset="0.940" stop-color="#6cb2ff"/><stop offset="0.998" stop-color="#4c81ff"/></linearGradient><linearGradient id="b70" x2="0" y2="1"><stop offset="0.002" stop-color="#f0ff39"/><stop offset="0.122" stop-color="#c8ff3c"/><stop offset="0.328" stop-color="#9bff3c"/><stop offset="0.373" stop-color="#98ff3c"/><stop offset="0.507" stop-color="#98ff3e"/><stop offset="0.562" stop-color="#98ff45"/><stop offset="0.665" stop-color="#9aff86"/><stop offset="0.737" stop-color="#97ffb6"/><stop offset="0.823" stop-color="#90fff9"/><stop offset="0.847" stop-color="#90ffff"/><stop offset="0.875" stop-color="#82e5ff"/><stop offset="0.902" stop-color="#76c9ff"/><stop offset="0.930" stop-color="#6db3ff"/><stop offset="0.998" stop-color="#477bff"/></linearGradient><linearGradient id="b71" x2="0" y2="1"><stop offset="0.002" stop-color="#eaff3a"/><stop offset="0.119" stop-color="#c6ff3c"/><stop offset="0.321" stop-color="#9aff3c"/><stop offset="0.452" stop-color="#96ff3c"/><stop offset="0.524" stop-color="#98ff41"/><stop offset="0.548" stop-color="#98ff46"/><stop offset="0.651" stop-color="#9aff86"/><stop offset="0.727" stop-color="#97ffb7"/><stop offset="0.813" stop-color="#90fff9"/><stop offset="0.837" stop-color="#90ffff"/><stop offset="0.864" stop-color="#84e8ff"/><stop offset="0.895" stop-color="#76c9ff"/><stop offset="0.926" stop-color="#6bb1ff"/><stop offset="0.998" stop-color="#4578ff"/></linearGradient><linearGradient id="b72" x2="0" y2="1"><stop offset="0.002" stop-color="#e6ff3a"/><stop offset="0.112" stop-color="#c4ff3c"/><stop offset="0.308" stop-color="#9aff3c"/><stop offset="0.435" stop-color="#96ff3c"/><stop offset="0.507" stop-color="#98ff40"/><stop offset="0.534" stop-color="#98ff46"/><stop offset="0.637" stop-color="#9aff86"/><stop offset="0.713" stop-color="#97ffb6"/><stop offset="0.802" stop-color="#90fff8"/><stop offset="0.830" stop-color="#90feff"/><stop offset="0.861" stop-color="#81e3ff"/><stop offset="0.888" stop-color="#76c9ff"/><stop offset="0.919" stop-color="#6cb2ff"/><stop offset="0.998" stop-color="#4476ff"/></linearGradient><linearGradient id="b73" x2="0" y2="1"><stop offset="0.002" stop-color="#e4ff3a"/><stop offset="0.101" stop-color="#c5ff3c"/><stop offset="0.297" stop-color="#9aff3c"/><stop offset="0.445" stop-color="#97ff3d"/><stop offset="0.503" stop-color="#98ff42"/><stop offset="0.524" stop-color="#98ff47"/><stop offset="0.627" stop-color="#9aff86"/><stop offset="0.703" stop-color="#97ffb4"/><stop offset="0.796" stop-color="#90fff8"/><stop offset="0.826" stop-color="#8ffdff"/><stop offset="0.854" stop-color="#83e6ff"/><stop offset="0.885" stop-color="#76c9ff"/><stop offset="0.916" stop-color="#6cb2ff"/><stop offset="0.998" stop-color="#4374ff"/></linearGradient><linearGradient id="b74" x2="0" y2="1"><stop offset="0.002" stop-color="#e1ff3a"/><stop offset="0.095" stop-color="#c4ff3c"/><stop offset="0.287" stop-color="#9aff3c"/><stop offset="0.435" stop-color="#97ff3d"/><stop offset="0.490" stop-color="#98ff41"/><stop offset="0.510" stop-color="#98ff46"/><stop offset="0.617" stop-color="#9aff86"/><stop offset="0.699" stop-color="#97ffb7"/><stop offset="0.792" stop-color="#90fff8"/><stop offset="0.820" stop-color="#90ffff"/><stop offset="0.851" stop-color="#83e5ff"/><stop offset="0.881" stop-color="#76c9ff"/><stop offset="0.912" stop-color="#6cb2ff"/><stop offset="0.998" stop-color="#4273ff"/></linearGradient><linearGradient id="b75" x2="0" y2="1"><stop offset="0.002" stop-color="#e0ff3b"/><stop offset="0.091" stop-color="#c4ff3c"/><stop offset="0.277" stop-color="#9aff3c"/><stop offset="0.424" stop-color="#97ff3d"/><stop offset="0.479" stop-color="#98ff42"/><stop offset="0.500" stop-color="#98ff46"/><stop offset="0.607" stop-color="#9aff86"/><stop offset="0.689" stop-color="#97ffb5"/><stop offset="0.789" stop-color="#90fff9"/><stop offset="0.816" stop-color="#90ffff"/><stop offset="0.847" stop-color="#82e5ff"/><stop offset="0.878" stop-color="#76c9ff"/><stop offset="0.909" stop-color="#6db3ff"/><stop offset="0.998" stop-color="#4172ff"/></linearGradient><linearGradient id="b76" x2="0" y2="1"><stop offset="0.002" stop-color="#dfff3b"/><stop offset="0.088" stop-color="#c4ff3c"/><stop offset="0.270" stop-color="#99ff3c"/><stop offset="0.414" stop-color="#97ff3d"/><stop offset="0.473" stop-color="#98ff42"/><stop offset="0.493" stop-color="#98ff47"/><stop offset="0.596" stop-color="#9aff83"/><stop offset="0.686" stop-color="#97ffb4"/><stop offset="0.771" stop-color="#92ffec"/><stop offset="0.792" stop-color="#90fff9"/><stop offset="0.816" stop-color="#90ffff"/><stop offset="0.844" stop-color="#85e9ff"/><stop offset="0.878" stop-color="#76caff"/><stop offset="0.909" stop-color="#6db3ff"/><stop offset="0.998" stop-color="#4172ff"/></linearGradient><linearGradient id="b77" x2="0" y2="1"><stop offset="0.002" stop-color="#deff3b"/><stop offset="0.084" stop-color="#c3ff3c"/><stop offset="0.263" stop-color="#9aff3c"/><stop offset="0.397" stop-color="#97ff3d"/><stop offset="0.462" stop-color="#98ff41"/><stop offset="0.486" stop-color="#98ff47"/><stop offset="0.582" stop-color="#9aff7f"/><stop offset="0.682" stop-color="#97ffb3"/><stop offset="0.751" stop-color="#94ffde"/><stop offset="0.792" stop-color="#90fff9"/><stop offset="0.820" stop-color="#90feff"/><stop offset="0.851" stop-color="#82e4ff"/><stop offset="0.878" stop-color="#76cbff"/><stop offset="0.909" stop-color="#6db4ff"/><stop offset="0.998" stop-color="#4172ff"/></linearGradient><linearGradient id="b78" x2="0" y2="1"><stop offset="0.002" stop-color="#ddff3b"/><stop offset="0.077" stop-color="#c4ff3c"/><stop offset="0.259" stop-color="#9aff3c"/><stop offset="0.404" stop-color="#97ff3d"/><stop offset="0.459" stop-color="#98ff42"/><stop offset="0.479" stop-color="#98ff46"/><stop offset="0.569" stop-color="#9bff7b"/><stop offset="0.679" stop-color="#97ffb2"/><stop offset="0.751" stop-color="#94ffdd"/><stop offset="0.796" stop-color="#90fff9"/><stop offset="0.820" stop-color="#90ffff"/><stop offset="0.851" stop-color="#82e5ff"/><stop offset="0.878" stop-color="#76cbff"/><stop offset="0.912" stop-color="#6cb2ff"/><stop offset="0.998" stop-color="#4171ff"/></linearGradient><linearGradient id="b79" x2="0" y2="1"><stop offset="0.002" stop-color="#deff3b"/><stop offset="0.081" stop-color="#c4ff3c"/><stop offset="0.256" stop-color="#9aff3c"/><stop offset="0.393" stop-color="#97ff3d"/><stop offset="0.452" stop-color="#98ff41"/><stop offset="0.476" stop-color="#98ff46"/><stop offset="0.565" stop-color="#9bff7a"/><stop offset="0.679" stop-color="#97ffb1"/><stop offset="0.751" stop-color="#94ffdb"/><stop offset="0.789" stop-color="#91fff4"/><stop offset="0.802" stop-color="#90fffa"/><stop offset="0.823" stop-color="#90ffff"/><stop offset="0.854" stop-color="#82e4ff"/><stop offset="0.881" stop-color="#76cbff"/><stop offset="0.912" stop-color="#6db4ff"/><stop offset="0.998" stop-color="#4273ff"/></linearGradient><linearGradient id="b80" x2="0" y2="1"><stop offset="0.002" stop-color="#dfff3b"/><stop offset="0.081" stop-color="#c4ff3c"/><stop offset="0.256" stop-color="#9aff3c"/><stop offset="0.397" stop-color="#97ff3d"/><stop offset="0.455" stop-color="#98ff42"/><stop offset="0.473" stop-color="#98ff45"/><stop offset="0.562" stop-color="#9bff79"/><stop offset="0.682" stop-color="#97ffb2"/><stop offset="0.758" stop-color="#94ffde"/><stop offset="0.789" stop-color="#91fff2"/><stop offset="0.802" stop-color="#90fff9"/><stop offset="0.826" stop-color="#90ffff"/><stop offset="0.857" stop-color="#82e4ff"/><stop offset="0.885" stop-color="#76caff"/><stop offset="0.916" stop-color="#6db3ff"/><stop offset="0.998" stop-color="#4475ff"/></linearGradient><linearGradient id="b81" x2="0" y2="1"><stop offset="0.002" stop-color="#deff3b"/><stop offset="0.077" stop-color="#c5ff3c"/><stop offset="0.253" stop-color="#9aff3c"/><stop offset="0.393" stop-color="#97ff3d"/><stop offset="0.452" stop-color="#98ff41"/><stop offset="0.473" stop-color="#98ff45"/><stop offset="0.565" stop-color="#9bff7a"/><stop offset="0.682" stop-color="#97ffb1"/><stop offset="0.758" stop-color="#94ffdc"/><stop offset="0.792" stop-color="#91fff2"/><stop offset="0.806" stop-color="#90fff9"/><stop offset="0.830" stop-color="#90feff"/><stop offset="0.861" stop-color="#82e3ff"/><stop offset="0.888" stop-color="#76caff"/><stop offset="0.919" stop-color="#6cb2ff"/><stop offset="0.998" stop-color="#4577ff"/></linearGradient><linearGradient id="b82" x2="0" y2="1"><stop offset="0.002" stop-color="#ddff3b"/><stop offset="0.074" stop-color="#c4ff3c"/><stop offset="0.246" stop-color="#9aff3c"/><stop offset="0.328" stop-color="#97ff3c"/><stop offset="0.435" stop-color="#98ff40"/><stop offset="0.466" stop-color="#98ff45"/><stop offset="0.555" stop-color="#9bff78"/><stop offset="0.682" stop-color="#97ffb2"/><stop offset="0.761" stop-color="#94ffde"/><stop offset="0.789" stop-color="#92ffef"/><stop offset="0.806" stop-color="#90fff9"/><stop offset="0.830" stop-color="#90ffff"/><stop offset="0.861" stop-color="#82e4ff"/><stop offset="0.888" stop-color="#76cbff"/><stop offset="0.919" stop-color="#6db3ff"/><stop offset="0.998" stop-color="#4578ff"/></linearGradient><linearGradient id="b83" x2="0" y2="1"><stop offset="0.002" stop-color="#dcff3b"/><stop offset="0.074" stop-color="#c4ff3c"/><stop offset="0.242" stop-color="#9aff3c"/><stop offset="0.338" stop-color="#96ff3c"/><stop offset="0.431" stop-color="#98ff40"/><stop offset="0.462" stop-color="#98ff45"/><stop offset="0.548" stop-color="#9bff77"/><stop offset="0.679" stop-color="#97ffb1"/><stop offset="0.758" stop-color="#94ffdb"/><stop offset="0.789" stop-color="#92ffee"/><stop offset="0.806" stop-color="#90fff9"/><stop offset="0.830" stop-color="#90ffff"/><stop offset="0.861" stop-color="#82e5ff"/><stop offset="0.888" stop-color="#76cbff"/><stop offset="0.919" stop-color="#6db3ff"/><stop offset="0.998" stop-color="#4577ff"/></linearGradient><linearGradient id="b84" x2="0" y2="1"><stop offset="0.002" stop-color="#dcff3b"/><stop offset="0.074" stop-color="#c3ff3c"/><stop offset="0.242" stop-color="#9aff3c"/><stop offset="0.383" stop-color="#97ff3d"/><stop offset="0.442" stop-color="#98ff42"/><stop offset="0.462" stop-color="#98ff47"/><stop offset="0.545" stop-color="#9bff76"/><stop offset="0.679" stop-color="#97ffb1"/><stop offset="0.758" stop-color="#94ffdb"/><stop offset="0.789" stop-color="#92ffed"/><stop offset="0.806" stop-color="#90fff9"/><stop offset="0.833" stop-color="#8ffdff"/><stop offset="0.861" stop-color="#82e5ff"/><stop offset="0.888" stop-color="#76cbff"/><stop offset="0.919" stop-color="#6db3ff"/><stop offset="0.998" stop-color="#4476ff"/></linearGradient><linearGradient id="b85" x2="0" y2="1"><stop offset="0.002" stop-color="#dcff3b"/><stop offset="0.074" stop-color="#c3ff3c"/><stop offset="0.239" stop-color="#9aff3c"/><stop offset="0.369" stop-color="#97ff3d"/><stop offset="0.435" stop-color="#98ff41"/><stop offset="0.459" stop-color="#98ff46"/><stop offset="0.541" stop-color="#9bff76"/><stop offset="0.679" stop-color="#97ffb1"/><stop offset="0.761" stop-color="#94ffdc"/><stop offset="0.789" stop-color="#92ffec"/><stop offset="0.806" stop-color="#90fff8"/><stop offset="0.833" stop-color="#8ffeff"/><stop offset="0.861" stop-color="#83e5ff"/><stop offset="0.888" stop-color="#76cbff"/><stop offset="0.919" stop-color="#6cb3ff"/><stop offset="0.998" stop-color="#4475ff"/></linearGradient><linearGradient id="b86" x2="0" y2="1"><stop offset="0.002" stop-color="#dcff3b"/><stop offset="0.074" stop-color="#c3ff3c"/><stop offset="0.239" stop-color="#9aff3c"/><stop offset="0.380" stop-color="#97ff3d"/><stop offset="0.438" stop-color="#98ff42"/><stop offset="0.459" stop-color="#98ff46"/><stop offset="0.545" stop-color="#9bff76"/><stop offset="0.679" stop-color="#97ffb0"/><stop offset="0.758" stop-color="#94ffd9"/><stop offset="0.789" stop-color="#92ffeb"/><stop offset="0.809" stop-color="#90fff9"/><stop offset="0.833" stop-color="#90ffff"/><stop offset="0.861" stop-color="#83e6ff"/><stop offset="0.888" stop-color="#76cbff"/><stop offset="0.919" stop-color="#6db3ff"/><stop offset="0.998" stop-color="#4375ff"/></linearGradient><linearGradient id="b87" x2="0" y2="1"><stop offset="0.002" stop-color="#ddff3b"/><stop offset="0.074" stop-color="#c4ff3c"/><stop offset="0.239" stop-color="#9aff3c"/><stop offset="0.369" stop-color="#97ff3d"/><stop offset="0.435" stop-color="#98ff41"/><stop offset="0.459" stop-color="#98ff45"/><stop offset="0.545" stop-color="#9bff76"/><stop offset="0.682" stop-color="#97ffb1"/><stop offset="0.765" stop-color="#94ffdc"/><stop offset="0.792" stop-color="#92ffec"/><stop offset="0.809" stop-color="#90fff8"/><stop offset="0.837" stop-color="#8ffdff"/><stop offset="0.864" stop-color="#82e4ff"/><stop offset="0.892" stop-color="#76c9ff"/><stop offset="0.923" stop-color="#6bb1ff"/><stop offset="0.998" stop-color="#4475ff"/></linearGradient><linearGradient id="b88" x2="0" y2="1"><stop offset="0.002" stop-color="#deff3b"/><stop offset="0.077" stop-color="#c4ff3c"/><stop offset="0.239" stop-color="#9aff3c"/><stop offset="0.318" stop-color="#97ff3c"/><stop offset="0.431" stop-color="#98ff40"/><stop offset="0.462" stop-color="#98ff46"/><stop offset="0.552" stop-color="#9bff77"/><stop offset="0.686" stop-color="#97ffb2"/><stop offset="0.765" stop-color="#94ffdb"/><stop offset="0.792" stop-color="#92ffeb"/><stop offset="0.813" stop-color="#90fff9"/><stop offset="0.837" stop-color="#90feff"/><stop offset="0.864" stop-color="#83e5ff"/><stop offset="0.892" stop-color="#76caff"/><stop offset="0.923" stop-color="#6cb2ff"/><stop offset="0.998" stop-color="#4476ff"/></linearGradient><linearGradient id="b89" x2="0" y2="1"><stop offset="0.002" stop-color="#e0ff3b"/><stop offset="0.077" stop-color="#c4ff3c"/><stop offset="0.242" stop-color="#99ff3c"/><stop offset="0.383" stop-color="#97ff3d"/><stop offset="0.442" stop-color="#98ff41"/><stop offset="0.466" stop-color="#98ff46"/><stop offset="0.558" stop-color="#9bff79"/><stop offset="0.686" stop-color="#97ffb1"/><stop offset="0.765" stop-color="#94ffda"/><stop offset="0.796" stop-color="#92ffec"/><stop offset="0.813" stop-color="#90fff9"/><stop offset="0.837" stop-color="#90ffff"/><stop offset="0.864" stop-color="#83e7ff"/><stop offset="0.892" stop-color="#76cbff"/><stop offset="0.923" stop-color="#6cb3ff"/><stop offset="0.998" stop-color="#4477ff"/></linearGradient><linearGradient id="b90" x2="0" y2="1"><stop offset="0.002" stop-color="#e0ff3b"/><stop offset="0.077" stop-color="#c5ff3c"/><stop offset="0.242" stop-color="#9aff3c"/><stop offset="0.383" stop-color="#97ff3d"/><stop offset="0.445" stop-color="#98ff41"/><stop offset="0.466" stop-color="#98ff45"/><stop offset="0.562" stop-color="#9bff79"/><stop offset="0.689" stop-color="#97ffb2"/><stop offset="0.768" stop-color="#94ffdc"/><stop offset="0.796" stop-color="#92ffec"/><stop offset="0.813" stop-color="#90fff9"/><stop offset="0.837" stop-color="#90ffff"/><stop offset="0.864" stop-color="#84e7ff"/><stop offset="0.895" stop-color="#76c9ff"/><stop offset="0.923" stop-color="#6db3ff"/><stop offset="0.998" stop-color="#4577ff"/></linearGradient><linearGradient id="b91" x2="0" y2="1"><stop offset="0.002" stop-color="#e1ff3a"/><stop offset="0.077" stop-color="#c5ff3c"/><stop offset="0.242" stop-color="#9aff3c"/><stop offset="0.383" stop-color="#97ff3d"/><stop offset="0.445" stop-color="#98ff42"/><stop offset="0.466" stop-color="#98ff45"/><stop offset="0.562" stop-color="#9bff79"/><stop offset="0.686" stop-color="#97ffb1"/><stop offset="0.765" stop-color="#94ffdb"/><stop offset="0.792" stop-color="#92ffeb"/><stop offset="0.813" stop-color="#90fff9"/><stop offset="0.837" stop-color="#90feff"/><stop offset="0.864" stop-color="#83e6ff"/><stop offset="0.892" stop-color="#76cbff"/><stop offset="0.923" stop-color="#6db3ff"/><stop offset="0.998" stop-color="#4578ff"/></linearGradient><linearGradient id="b92" x2="0" y2="1"><stop offset="0.002" stop-color="#e1ff3a"/><stop offset="0.081" stop-color="#c4ff3c"/><stop offset="0.242" stop-color="#9aff3c"/><stop offset="0.369" stop-color="#96ff3c"/><stop offset="0.442" stop-color="#98ff41"/><stop offset="0.469" stop-color="#98ff47"/><stop offset="0.565" stop-color="#9bff7b"/><stop offset="0.686" stop-color="#97ffb2"/><stop offset="0.765" stop-color="#94ffdd"/><stop offset="0.792" stop-color="#92ffed"/><stop offset="0.809" stop-color="#90fff9"/><stop offset="0.833" stop-color="#90ffff"/><stop offset="0.861" stop-color="#84e8ff"/><stop offset="0.892" stop-color="#76caff"/><stop offset="0.923" stop-color="#6cb3ff"/><stop offset="0.998" stop-color="#4679ff"/></linearGradient><linearGradient id="b93" x2="0" y2="1"><stop offset="0.002" stop-color="#e1ff3a"/><stop offset="0.081" stop-color="#c4ff3c"/><stop offset="0.242" stop-color="#9aff3c"/><stop offset="0.321" stop-color="#97ff3c"/><stop offset="0.435" stop-color="#98ff40"/><stop offset="0.469" stop-color="#98ff46"/><stop offset="0.572" stop-color="#9aff7d"/><stop offset="0.686" stop-color="#97ffb2"/><stop offset="0.761" stop-color="#94ffdc"/><stop offset="0.792" stop-color="#91ffef"/><stop offset="0.806" stop-color="#90fff9"/><stop offset="0.833" stop-color="#90feff"/><stop offset="0.864" stop-color="#82e3ff"/><stop offset="0.892" stop-color="#76caff"/><stop offset="0.923" stop-color="#6cb2ff"/><stop offset="0.998" stop-color="#4679ff"/></linearGradient><linearGradient id="b94" x2="0" y2="1"><stop offset="0.002" stop-color="#e2ff3a"/><stop offset="0.084" stop-color="#c4ff3c"/><stop offset="0.249" stop-color="#9aff3c"/><stop offset="0.393" stop-color="#97ff3d"/><stop offset="0.455" stop-color="#98ff42"/><stop offset="0.476" stop-color="#98ff46"/><stop offset="0.579" stop-color="#9aff7d"/><stop offset="0.692" stop-color="#97ffb3"/><stop offset="0.785" stop-color="#93ffe8"/><stop offset="0.809" stop-color="#90fff8"/><stop offset="0.837" stop-color="#90ffff"/><stop offset="0.868" stop-color="#82e4ff"/><stop offset="0.895" stop-color="#76cbff"/><stop offset="0.926" stop-color="#6db4ff"/><stop offset="0.998" stop-color="#497eff"/></linearGradient><linearGradient id="b95" x2="0" y2="1"><stop offset="0.002" stop-color="#e3ff3a"/><stop offset="0.088" stop-color="#c4ff3c"/><stop offset="0.256" stop-color="#99ff3c"/><stop offset="0.400" stop-color="#97ff3d"/><stop offset="0.462" stop-color="#98ff42"/><stop offset="0.483" stop-color="#98ff45"/><stop offset="0.593" stop-color="#9aff80"/><stop offset="0.699" stop-color="#97ffb3"/><stop offset="0.792" stop-color="#93ffe9"/><stop offset="0.816" stop-color="#90fff9"/><stop offset="0.844" stop-color="#8ffeff"/><stop offset="0.875" stop-color="#82e4ff"/><stop offset="0.902" stop-color="#76cbff"/><stop offset="0.936" stop-color="#6cb1ff"/><stop offset="0.998" stop-color="#4d84ff"/></linearGradient><linearGradient id="b96" x2="0" y2="1"><stop offset="0.002" stop-color="#e6ff3a"/><stop offset="0.091" stop-color="#c5ff3c"/><stop offset="0.259" stop-color="#9aff3c"/><stop offset="0.404" stop-color="#97ff3d"/><stop offset="0.469" stop-color="#98ff42"/><stop offset="0.490" stop-color="#98ff46"/><stop offset="0.600" stop-color="#9aff81"/><stop offset="0.706" stop-color="#97ffb5"/><stop offset="0.799" stop-color="#92ffeb"/><stop offset="0.820" stop-color="#90fff9"/><stop offset="0.847" stop-color="#90ffff"/><stop offset="0.878" stop-color="#83e6ff"/><stop offset="0.909" stop-color="#76cbff"/><stop offset="0.943" stop-color="#6cb2ff"/><stop offset="0.998" stop-color="#528bff"/></linearGradient><linearGradient id="b97" x2="0" y2="1"><stop offset="0.002" stop-color="#e7ff3a"/><stop offset="0.095" stop-color="#c5ff3c"/><stop offset="0.259" stop-color="#9aff3c"/><stop offset="0.325" stop-color="#97ff3c"/><stop offset="0.455" stop-color="#98ff40"/><stop offset="0.490" stop-color="#98ff45"/><stop offset="0.603" stop-color="#9aff81"/><stop offset="0.706" stop-color="#97ffb4"/><stop offset="0.778" stop-color="#94ffde"/><stop offset="0.823" stop-color="#90fff9"/><stop offset="0.851" stop-color="#90ffff"/><stop offset="0.881" stop-color="#84e7ff"/><stop offset="0.916" stop-color="#76caff"/><stop offset="0.950" stop-color="#6cb2ff"/><stop offset="0.998" stop-color="#5691ff"/></linearGradient><linearGradient id="b98" x2="0" y2="1"><stop offset="0.002" stop-color="#e6ff3a"/><stop offset="0.091" stop-color="#c5ff3c"/><stop offset="0.256" stop-color="#9aff3c"/><stop offset="0.383" stop-color="#96ff3c"/><stop offset="0.459" stop-color="#98ff41"/><stop offset="0.486" stop-color="#98ff46"/><stop offset="0.596" stop-color="#9aff80"/><stop offset="0.699" stop-color="#97ffb2"/><stop offset="0.771" stop-color="#94ffdc"/><stop offset="0.820" stop-color="#90fff9"/><stop offset="0.851" stop-color="#90ffff"/><stop offset="0.885" stop-color="#82e5ff"/><stop offset="0.919" stop-color="#76c9ff"/><stop offset="0.954" stop-color="#6cb3ff"/><stop offset="0.998" stop-color="#5995ff"/></linearGradient><linearGradient id="b99" x2="0" y2="1"><stop offset="0.002" stop-color="#e4ff3a"/><stop offset="0.084" stop-color="#c5ff3c"/><stop offset="0.246" stop-color="#9aff3c"/><stop offset="0.308" stop-color="#97ff3c"/><stop offset="0.442" stop-color="#98ff40"/><stop offset="0.476" stop-color="#98ff46"/><stop offset="0.589" stop-color="#9aff82"/><stop offset="0.689" stop-color="#97ffb4"/><stop offset="0.761" stop-color="#94ffde"/><stop offset="0.809" stop-color="#90fff9"/><stop offset="0.840" stop-color="#90ffff"/><stop offset="0.878" stop-color="#82e5ff"/><stop offset="0.912" stop-color="#76caff"/><stop offset="0.954" stop-color="#6cb1ff"/><stop offset="0.998" stop-color="#5996ff"/></linearGradient><linearGradient id="b100" x2="0" y2="1"><stop offset="0.002" stop-color="#dfff3b"/><stop offset="0.074" stop-color="#c4ff3c"/><stop offset="0.232" stop-color="#9aff3c"/><stop offset="0.338" stop-color="#96ff3c"/><stop offset="0.428" stop-color="#98ff40"/><stop offset="0.459" stop-color="#98ff45"/><stop offset="0.569" stop-color="#9aff81"/><stop offset="0.672" stop-color="#97ffb4"/><stop offset="0.792" stop-color="#90fff8"/><stop offset="0.830" stop-color="#8ffeff"/><stop offset="0.871" stop-color="#81e2ff"/><stop offset="0.905" stop-color="#76caff"/><stop offset="0.947" stop-color="#6db3ff"/><stop offset="0.998" stop-color="#5996ff"/></linearGradient><linearGradient id="b101" x2="0" y2="1"><stop offset="0.002" stop-color="#dbff3b"/><stop offset="0.064" stop-color="#c4ff3c"/><stop offset="0.218" stop-color="#9aff3c"/><stop offset="0.352" stop-color="#97ff3d"/><stop offset="0.418" stop-color="#98ff41"/><stop offset="0.442" stop-color="#98ff47"/><stop offset="0.545" stop-color="#9aff7f"/><stop offset="0.651" stop-color="#97ffb3"/><stop offset="0.723" stop-color="#94ffde"/><stop offset="0.775" stop-color="#90fff8"/><stop offset="0.816" stop-color="#8ffeff"/><stop offset="0.857" stop-color="#82e4ff"/><stop offset="0.899" stop-color="#76caff"/><stop offset="0.943" stop-color="#6cb2ff"/><stop offset="0.998" stop-color="#5995ff"/></linearGradient><linearGradient id="b102" x2="0" y2="1"><stop offset="0.002" stop-color="#d5ff3b"/><stop offset="0.060" stop-color="#c0ff3c"/><stop offset="0.204" stop-color="#99ff3c"/><stop offset="0.338" stop-color="#97ff3d"/><stop offset="0.397" stop-color="#98ff42"/><stop offset="0.418" stop-color="#98ff47"/><stop offset="0.507" stop-color="#9bff7a"/><stop offset="0.624" stop-color="#97ffb1"/><stop offset="0.699" stop-color="#94ffdc"/><stop offset="0.758" stop-color="#90fff9"/><stop offset="0.799" stop-color="#90ffff"/><stop offset="0.847" stop-color="#82e4ff"/><stop offset="0.892" stop-color="#76c9ff"/><stop offset="0.936" stop-color="#6db3ff"/><stop offset="0.998" stop-color="#5895ff"/></linearGradient><linearGradient id="b103" x2="0" y2="1"><stop offset="0.002" stop-color="#cfff3c"/><stop offset="0.146" stop-color="#a4ff3c"/><stop offset="0.201" stop-color="#98ff3c"/><stop offset="0.335" stop-color="#97ff3d"/><stop offset="0.393" stop-color="#98ff44"/><stop offset="0.479" stop-color="#9bff77"/><stop offset="0.603" stop-color="#97ffb1"/><stop offset="0.679" stop-color="#94ffdb"/><stop offset="0.741" stop-color="#90fff9"/><stop offset="0.785" stop-color="#8ffeff"/><stop offset="0.833" stop-color="#82e3ff"/><stop offset="0.878" stop-color="#76c9ff"/><stop offset="0.930" stop-color="#6bb1ff"/><stop offset="0.998" stop-color="#5691ff"/></linearGradient><linearGradient id="b104" x2="0" y2="1"><stop offset="0.002" stop-color="#ceff3c"/><stop offset="0.146" stop-color="#a0ff3c"/><stop offset="0.187" stop-color="#98ff3c"/><stop offset="0.318" stop-color="#97ff3d"/><stop offset="0.376" stop-color="#98ff45"/><stop offset="0.459" stop-color="#9bff76"/><stop offset="0.589" stop-color="#97ffb2"/><stop offset="0.668" stop-color="#94ffdd"/><stop offset="0.727" stop-color="#90fff9"/><stop offset="0.771" stop-color="#8ffeff"/><stop offset="0.820" stop-color="#82e4ff"/><stop offset="0.864" stop-color="#76caff"/><stop offset="0.916" stop-color="#6cb2ff"/><stop offset="0.998" stop-color="#528bff"/></linearGradient><linearGradient id="b105" x2="0" y2="1"><stop offset="0.002" stop-color="#ccff3c"/><stop offset="0.146" stop-color="#9fff3c"/><stop offset="0.184" stop-color="#98ff3c"/><stop offset="0.311" stop-color="#97ff3d"/><stop offset="0.369" stop-color="#98ff45"/><stop offset="0.452" stop-color="#9bff76"/><stop offset="0.582" stop-color="#97ffb0"/><stop offset="0.662" stop-color="#94ffdb"/><stop offset="0.723" stop-color="#90fff8"/><stop offset="0.771" stop-color="#8ffeff"/><stop offset="0.820" stop-color="#82e4ff"/><stop offset="0.868" stop-color="#76c9ff"/><stop offset="0.919" stop-color="#6bb1ff"/><stop offset="0.998" stop-color="#538dff"/></linearGradient><linearGradient id="b106" x2="0" y2="1"><stop offset="0.002" stop-color="#cbff3c"/><stop offset="0.149" stop-color="#9dff3c"/><stop offset="0.180" stop-color="#98ff3c"/><stop offset="0.308" stop-color="#98ff3e"/><stop offset="0.363" stop-color="#98ff44"/><stop offset="0.442" stop-color="#9bff73"/><stop offset="0.582" stop-color="#97ffb2"/><stop offset="0.665" stop-color="#94ffdf"/><stop offset="0.723" stop-color="#90fff9"/><stop offset="0.771" stop-color="#8ffdff"/><stop offset="0.820" stop-color="#82e4ff"/><stop offset="0.868" stop-color="#76caff"/><stop offset="0.919" stop-color="#6cb2ff"/><stop offset="0.998" stop-color="#558fff"/></linearGradient><linearGradient id="b107" x2="0" y2="1"><stop offset="0.002" stop-color="#cbff3c"/><stop offset="0.149" stop-color="#9dff3c"/><stop offset="0.180" stop-color="#98ff3c"/><stop offset="0.304" stop-color="#98ff3e"/><stop offset="0.359" stop-color="#98ff45"/><stop offset="0.438" stop-color="#9bff74"/><stop offset="0.576" stop-color="#97ffb2"/><stop offset="0.655" stop-color="#94ffdd"/><stop offset="0.716" stop-color="#90fff8"/><stop offset="0.768" stop-color="#8ffdff"/><stop offset="0.820" stop-color="#82e4ff"/><stop offset="0.868" stop-color="#76caff"/><stop offset="0.923" stop-color="#6cb2ff"/><stop offset="0.998" stop-color="#5792ff"/></linearGradient><linearGradient id="b108" x2="0" y2="1"><stop offset="0.002" stop-color="#caff3c"/><stop offset="0.149" stop-color="#9cff3c"/><stop offset="0.180" stop-color="#98ff3c"/><stop offset="0.301" stop-color="#98ff3e"/><stop offset="0.356" stop-color="#98ff45"/><stop offset="0.435" stop-color="#9bff75"/><stop offset="0.565" stop-color="#97ffb1"/><stop offset="0.641" stop-color="#94ffda"/><stop offset="0.703" stop-color="#90fff7"/><stop offset="0.754" stop-color="#90ffff"/><stop offset="0.806" stop-color="#82e5ff"/><stop offset="0.857" stop-color="#76c9ff"/><stop offset="0.912" stop-color="#6bb1ff"/><stop offset="0.998" stop-color="#538cff"/></linearGradient><linearGradient id="b109" x2="0" y2="1"><stop offset="0.002" stop-color="#cbff3c"/><stop offset="0.146" stop-color="#9dff3c"/><stop offset="0.177" stop-color="#98ff3c"/><stop offset="0.297" stop-color="#97ff3d"/><stop offset="0.352" stop-color="#98ff44"/><stop offset="0.428" stop-color="#9bff73"/><stop offset="0.565" stop-color="#97ffb2"/><stop offset="0.641" stop-color="#94ffdc"/><stop offset="0.703" stop-color="#90fff8"/><stop offset="0.751" stop-color="#8ffeff"/><stop offset="0.802" stop-color="#81e2ff"/><stop offset="0.847" stop-color="#76caff"/><stop offset="0.899" stop-color="#6cb2ff"/><stop offset="0.998" stop-color="#4e85ff"/></linearGradient><linearGradient id="b110" x2="0" y2="1"><stop offset="0.002" stop-color="#cdff3c"/><stop offset="0.143" stop-color="#a0ff3c"/><stop offset="0.184" stop-color="#98ff3c"/><stop offset="0.304" stop-color="#97ff3d"/><stop offset="0.359" stop-color="#98ff44"/><stop offset="0.431" stop-color="#9bff72"/><stop offset="0.572" stop-color="#97ffb3"/><stop offset="0.679" stop-color="#92ffec"/><stop offset="0.710" stop-color="#90fff9"/><stop offset="0.754" stop-color="#90feff"/><stop offset="0.802" stop-color="#83e6ff"/><stop offset="0.854" stop-color="#76c9ff"/><stop offset="0.905" stop-color="#6cb2ff"/><stop offset="0.998" stop-color="#5088ff"/></linearGradient><linearGradient id="b111" x2="0" y2="1"><stop offset="0.002" stop-color="#d0ff3c"/><stop offset="0.132" stop-color="#a5ff3c"/><stop offset="0.187" stop-color="#98ff3c"/><stop offset="0.311" stop-color="#97ff3d"/><stop offset="0.366" stop-color="#98ff45"/><stop offset="0.438" stop-color="#9bff72"/><stop offset="0.579" stop-color="#97ffb4"/><stop offset="0.682" stop-color="#92ffeb"/><stop offset="0.716" stop-color="#90fff9"/><stop offset="0.761" stop-color="#90feff"/><stop offset="0.813" stop-color="#82e4ff"/><stop offset="0.861" stop-color="#76caff"/><stop offset="0.916" stop-color="#6cb1ff"/><stop offset="0.998" stop-color="#538dff"/></linearGradient><linearGradient id="b112" x2="0" y2="1"><stop offset="0.002" stop-color="#d6ff3b"/><stop offset="0.057" stop-color="#c0ff3c"/><stop offset="0.187" stop-color="#9aff3c"/><stop offset="0.304" stop-color="#97ff3d"/><stop offset="0.359" stop-color="#98ff41"/><stop offset="0.380" stop-color="#98ff46"/><stop offset="0.448" stop-color="#9bff72"/><stop offset="0.586" stop-color="#97ffb2"/><stop offset="0.662" stop-color="#94ffdc"/><stop offset="0.723" stop-color="#90fff8"/><stop offset="0.771" stop-color="#90feff"/><stop offset="0.823" stop-color="#82e4ff"/><stop offset="0.871" stop-color="#76caff"/><stop offset="0.926" stop-color="#6cb2ff"/><stop offset="0.998" stop-color="#5793ff"/></linearGradient><linearGradient id="b113" x2="0" y2="1"><stop offset="0.002" stop-color="#dbff3b"/><stop offset="0.060" stop-color="#c3ff3c"/><stop offset="0.201" stop-color="#9aff3c"/><stop offset="0.321" stop-color="#97ff3d"/><stop offset="0.373" stop-color="#98ff42"/><stop offset="0.390" stop-color="#98ff46"/><stop offset="0.459" stop-color="#9bff72"/><stop offset="0.596" stop-color="#97ffb3"/><stop offset="0.672" stop-color="#94ffdd"/><stop offset="0.734" stop-color="#90fff9"/><stop offset="0.782" stop-color="#8ffdff"/><stop offset="0.833" stop-color="#81e3ff"/><stop offset="0.881" stop-color="#76c9ff"/><stop offset="0.933" stop-color="#6cb2ff"/><stop offset="0.998" stop-color="#5995ff"/></linearGradient><linearGradient id="b114" x2="0" y2="1"><stop offset="0.002" stop-color="#d8ff3b"/><stop offset="0.053" stop-color="#c3ff3c"/><stop offset="0.184" stop-color="#9aff3c"/><stop offset="0.270" stop-color="#96ff3c"/><stop offset="0.345" stop-color="#98ff40"/><stop offset="0.369" stop-color="#98ff45"/><stop offset="0.435" stop-color="#9bff71"/><stop offset="0.586" stop-color="#97ffb5"/><stop offset="0.692" stop-color="#92ffec"/><stop offset="0.723" stop-color="#90fff9"/><stop offset="0.771" stop-color="#8ffdff"/><stop offset="0.823" stop-color="#81e2ff"/><stop offset="0.871" stop-color="#76c9ff"/><stop offset="0.923" stop-color="#6cb2ff"/><stop offset="0.998" stop-color="#5690ff"/></linearGradient><linearGradient id="b115" x2="0" y2="1"><stop offset="0.002" stop-color="#d7ff3b"/><stop offset="0.053" stop-color="#c1ff3c"/><stop offset="0.180" stop-color="#99ff3c"/><stop offset="0.297" stop-color="#97ff3d"/><stop offset="0.345" stop-color="#98ff41"/><stop offset="0.363" stop-color="#98ff45"/><stop offset="0.428" stop-color="#9bff71"/><stop offset="0.576" stop-color="#97ffb4"/><stop offset="0.682" stop-color="#92ffed"/><stop offset="0.713" stop-color="#90fff9"/><stop offset="0.761" stop-color="#8ffdff"/><stop offset="0.813" stop-color="#81e3ff"/><stop offset="0.861" stop-color="#76c9ff"/><stop offset="0.912" stop-color="#6cb2ff"/><stop offset="0.998" stop-color="#538cff"/></linearGradient><linearGradient id="b116" x2="0" y2="1"><stop offset="0.002" stop-color="#d8ff3b"/><stop offset="0.053" stop-color="#c2ff3c"/><stop offset="0.177" stop-color="#9aff3c"/><stop offset="0.266" stop-color="#96ff3c"/><stop offset="0.335" stop-color="#98ff40"/><stop offset="0.359" stop-color="#98ff45"/><stop offset="0.424" stop-color="#9bff71"/><stop offset="0.572" stop-color="#97ffb4"/><stop offset="0.682" stop-color="#92ffee"/><stop offset="0.710" stop-color="#90fff9"/><stop offset="0.754" stop-color="#90feff"/><stop offset="0.802" stop-color="#83e6ff"/><stop offset="0.854" stop-color="#76c9ff"/><stop offset="0.905" stop-color="#6cb2ff"/><stop offset="0.998" stop-color="#5088ff"/></linearGradient><linearGradient id="b117" x2="0" y2="1"><stop offset="0.002" stop-color="#dbff3b"/><stop offset="0.053" stop-color="#c4ff3c"/><stop offset="0.177" stop-color="#9aff3c"/><stop offset="0.218" stop-color="#97ff3c"/><stop offset="0.328" stop-color="#98ff40"/><stop offset="0.356" stop-color="#98ff45"/><stop offset="0.418" stop-color="#9bff70"/><stop offset="0.565" stop-color="#97ffb4"/><stop offset="0.668" stop-color="#92ffec"/><stop offset="0.699" stop-color="#90fff9"/><stop offset="0.747" stop-color="#8ffdff"/><stop offset="0.796" stop-color="#82e4ff"/><stop offset="0.844" stop-color="#76c9ff"/><stop offset="0.895" stop-color="#6cb2ff"/><stop offset="0.998" stop-color="#4d84ff"/></linearGradient><linearGradient id="b118" x2="0" y2="1"><stop offset="0.002" stop-color="#dbff3b"/><stop offset="0.053" stop-color="#c4ff3c"/><stop offset="0.177" stop-color="#9aff3c"/><stop offset="0.218" stop-color="#97ff3c"/><stop offset="0.328" stop-color="#98ff40"/><stop offset="0.356" stop-color="#98ff45"/><stop offset="0.418" stop-color="#9bff70"/><stop offset="0.565" stop-color="#97ffb5"/><stop offset="0.668" stop-color="#92ffec"/><stop offset="0.699" stop-color="#90fff9"/><stop offset="0.744" stop-color="#90ffff"/><stop offset="0.792" stop-color="#83e6ff"/><stop offset="0.844" stop-color="#76c9ff"/><stop offset="0.895" stop-color="#6cb2ff"/><stop offset="0.998" stop-color="#4d84ff"/></linearGradient><linearGradient id="b119" x2="0" y2="1"><stop offset="0.002" stop-color="#bfff3c"/><stop offset="0.122" stop-color="#9aff3c"/><stop offset="0.249" stop-color="#97ff3d"/><stop offset="0.318" stop-color="#98ff41"/><stop offset="0.345" stop-color="#98ff46"/><stop offset="0.421" stop-color="#9aff6d"/><stop offset="0.686" stop-color="#97ffb6"/><stop offset="0.892" stop-color="#90fff7"/><stop offset="0.971" stop-color="#8ffeff"/><stop offset="0.998" stop-color="#8bf5ff"/></linearGradient><linearGradient id="b120" x2="0" y2="1"><stop offset="0.002" stop-color="#bfff3c"/><stop offset="0.122" stop-color="#9aff3c"/><stop offset="0.249" stop-color="#97ff3d"/><stop offset="0.318" stop-color="#98ff41"/><stop offset="0.345" stop-color="#98ff46"/><stop offset="0.421" stop-color="#9aff6d"/><stop offset="0.686" stop-color="#97ffb6"/><stop offset="0.892" stop-color="#90fff7"/><stop offset="0.971" stop-color="#8ffeff"/><stop offset="0.998" stop-color="#8bf5ff"/></linearGradient><linearGradient id="b121" x2="0" y2="1"><stop offset="0.002" stop-color="#bfff3c"/><stop offset="0.122" stop-color="#99ff3c"/><stop offset="0.259" stop-color="#97ff3d"/><stop offset="0.325" stop-color="#98ff42"/><stop offset="0.342" stop-color="#98ff45"/><stop offset="0.421" stop-color="#9aff6e"/><stop offset="0.679" stop-color="#97ffb6"/><stop offset="0.885" stop-color="#90fff8"/><stop offset="0.960" stop-color="#8ffeff"/><stop offset="0.998" stop-color="#89f2ff"/></linearGradient><linearGradient id="b122" x2="0" y2="1"><stop offset="0.002" stop-color="#bfff3c"/><stop offset="0.119" stop-color="#99ff3c"/><stop offset="0.253" stop-color="#97ff3d"/><stop offset="0.318" stop-color="#98ff42"/><stop offset="0.342" stop-color="#98ff46"/><stop offset="0.421" stop-color="#9bff6e"/><stop offset="0.672" stop-color="#97ffb5"/><stop offset="0.875" stop-color="#90fff8"/><stop offset="0.950" stop-color="#8ffeff"/><stop offset="0.998" stop-color="#87eeff"/></linearGradient><linearGradient id="b123" x2="0" y2="1"><stop offset="0.002" stop-color="#bfff3c"/><stop offset="0.119" stop-color="#99ff3c"/><stop offset="0.249" stop-color="#97ff3d"/><stop offset="0.314" stop-color="#98ff41"/><stop offset="0.338" stop-color="#98ff46"/><stop offset="0.414" stop-color="#9aff6e"/><stop offset="0.662" stop-color="#97ffb6"/><stop offset="0.857" stop-color="#90fff7"/><stop offset="0.933" stop-color="#8ffdff"/><stop offset="0.998" stop-color="#83e6ff"/></linearGradient><linearGradient id="b124" x2="0" y2="1"><stop offset="0.002" stop-color="#beff3c"/><stop offset="0.119" stop-color="#99ff3c"/><stop offset="0.246" stop-color="#97ff3d"/><stop offset="0.311" stop-color="#98ff41"/><stop offset="0.335" stop-color="#98ff46"/><stop offset="0.411" stop-color="#9bff6e"/><stop offset="0.641" stop-color="#97ffb6"/><stop offset="0.826" stop-color="#90fff8"/><stop offset="0.895" stop-color="#8ffeff"/><stop offset="0.964" stop-color="#82e3ff"/><stop offset="0.998" stop-color="#7ad4ff"/></linearGradient><linearGradient id="b125" x2="0" y2="1"><stop offset="0.002" stop-color="#c5ff3c"/><stop offset="0.136" stop-color="#9aff3c"/><stop offset="0.259" stop-color="#97ff3d"/><stop offset="0.328" stop-color="#98ff41"/><stop offset="0.352" stop-color="#98ff45"/><stop offset="0.431" stop-color="#9bff6f"/><stop offset="0.648" stop-color="#97ffb5"/><stop offset="0.826" stop-color="#90fff8"/><stop offset="0.892" stop-color="#8ffeff"/><stop offset="0.957" stop-color="#81e3ff"/><stop offset="0.998" stop-color="#78d0ff"/></linearGradient><linearGradient id="b126" x2="0" y2="1"><stop offset="0.002" stop-color="#c7ff3c"/><stop offset="0.139" stop-color="#9bff3c"/><stop offset="0.170" stop-color="#98ff3c"/><stop offset="0.301" stop-color="#98ff3e"/><stop offset="0.363" stop-color="#98ff46"/><stop offset="0.442" stop-color="#9bff6f"/><stop offset="0.655" stop-color="#97ffb5"/><stop offset="0.830" stop-color="#90fff7"/><stop offset="0.895" stop-color="#90feff"/><stop offset="0.960" stop-color="#82e3ff"/><stop offset="0.998" stop-color="#79d2ff"/></linearGradient><linearGradient id="b127" x2="0" y2="1"><stop offset="0.002" stop-color="#c9ff3c"/><stop offset="0.143" stop-color="#9cff3c"/><stop offset="0.170" stop-color="#98ff3c"/><stop offset="0.304" stop-color="#98ff3e"/><stop offset="0.366" stop-color="#98ff44"/><stop offset="0.448" stop-color="#9bff70"/><stop offset="0.651" stop-color="#97ffb5"/><stop offset="0.823" stop-color="#90fff8"/><stop offset="0.885" stop-color="#8ffeff"/><stop offset="0.947" stop-color="#81e3ff"/><stop offset="0.998" stop-color="#76cbff"/></linearGradient><linearGradient id="b128" x2="0" y2="1"><stop offset="0.002" stop-color="#ccff3c"/><stop offset="0.139" stop-color="#9eff3c"/><stop offset="0.170" stop-color="#98ff3c"/><stop offset="0.308" stop-color="#97ff3d"/><stop offset="0.373" stop-color="#98ff45"/><stop offset="0.455" stop-color="#9bff70"/><stop offset="0.648" stop-color="#97ffb4"/><stop offset="0.813" stop-color="#90fff8"/><stop offset="0.871" stop-color="#90feff"/><stop offset="0.930" stop-color="#82e4ff"/><stop offset="0.985" stop-color="#76caff"/><stop offset="0.998" stop-color="#74c5ff"/></linearGradient><linearGradient id="b129" x2="0" y2="1"><stop offset="0.002" stop-color="#cfff3c"/><stop offset="0.132" stop-color="#a2ff3c"/><stop offset="0.177" stop-color="#98ff3c"/><stop offset="0.314" stop-color="#97ff3d"/><stop offset="0.380" stop-color="#98ff45"/><stop offset="0.462" stop-color="#9bff71"/><stop offset="0.644" stop-color="#97ffb4"/><stop offset="0.802" stop-color="#90fff8"/><stop offset="0.857" stop-color="#90feff"/><stop offset="0.912" stop-color="#82e5ff"/><stop offset="0.967" stop-color="#76caff"/><stop offset="0.998" stop-color="#72bdff"/></linearGradient><linearGradient id="b130" x2="0" y2="1"><stop offset="0.002" stop-color="#d1ff3c"/><stop offset="0.084" stop-color="#b3ff3c"/><stop offset="0.177" stop-color="#98ff3c"/><stop offset="0.318" stop-color="#97ff3d"/><stop offset="0.383" stop-color="#98ff44"/><stop offset="0.473" stop-color="#9bff73"/><stop offset="0.637" stop-color="#97ffb3"/><stop offset="0.727" stop-color="#94ffdc"/><stop offset="0.796" stop-color="#90fff8"/><stop offset="0.847" stop-color="#8ffdff"/><stop offset="0.899" stop-color="#82e4ff"/><stop offset="0.950" stop-color="#76c9ff"/><stop offset="0.998" stop-color="#6eb5ff"/></linearGradient><linearGradient id="b131" x2="0" y2="1"><stop offset="0.002" stop-color="#d6ff3b"/><stop offset="0.053" stop-color="#c1ff3c"/><stop offset="0.177" stop-color="#9aff3c"/><stop offset="0.277" stop-color="#96ff3c"/><stop offset="0.366" stop-color="#98ff40"/><stop offset="0.397" stop-color="#98ff46"/><stop offset="0.490" stop-color="#9bff77"/><stop offset="0.634" stop-color="#97ffb1"/><stop offset="0.720" stop-color="#94ffdb"/><stop offset="0.785" stop-color="#90fff8"/><stop offset="0.833" stop-color="#8ffeff"/><stop offset="0.885" stop-color="#82e3ff"/><stop offset="0.933" stop-color="#76c9ff"/><stop offset="0.985" stop-color="#6cb2ff"/><stop offset="0.998" stop-color="#6ab0ff"/></linearGradient><linearGradient id="b132" x2="0" y2="1"><stop offset="0.002" stop-color="#dbff3b"/><stop offset="0.057" stop-color="#c3ff3c"/><stop offset="0.187" stop-color="#9aff3c"/><stop offset="0.290" stop-color="#96ff3c"/><stop offset="0.376" stop-color="#98ff40"/><stop offset="0.407" stop-color="#98ff46"/><stop offset="0.503" stop-color="#9bff78"/><stop offset="0.637" stop-color="#97ffb1"/><stop offset="0.720" stop-color="#94ffdb"/><stop offset="0.782" stop-color="#90fff8"/><stop offset="0.823" stop-color="#90ffff"/><stop offset="0.871" stop-color="#82e3ff"/><stop offset="0.916" stop-color="#76c9ff"/><stop offset="0.964" stop-color="#6bb1ff"/><stop offset="0.998" stop-color="#60a0ff"/></linearGradient><linearGradient id="b133" x2="0" y2="1"><stop offset="0.002" stop-color="#dfff3b"/><stop offset="0.064" stop-color="#c4ff3c"/><stop offset="0.201" stop-color="#9aff3c"/><stop offset="0.325" stop-color="#97ff3d"/><stop offset="0.393" stop-color="#98ff41"/><stop offset="0.421" stop-color="#98ff47"/><stop offset="0.517" stop-color="#9bff7a"/><stop offset="0.644" stop-color="#97ffb1"/><stop offset="0.723" stop-color="#94ffdb"/><stop offset="0.785" stop-color="#90fff9"/><stop offset="0.823" stop-color="#90ffff"/><stop offset="0.868" stop-color="#82e5ff"/><stop offset="0.912" stop-color="#76c9ff"/><stop offset="0.957" stop-color="#6cb2ff"/><stop offset="0.998" stop-color="#5e9dff"/></linearGradient><linearGradient id="b134" x2="0" y2="1"><stop offset="0.002" stop-color="#dfff3b"/><stop offset="0.070" stop-color="#c4ff3c"/><stop offset="0.218" stop-color="#9aff3c"/><stop offset="0.349" stop-color="#97ff3d"/><stop offset="0.414" stop-color="#98ff41"/><stop offset="0.438" stop-color="#98ff47"/><stop offset="0.531" stop-color="#9bff79"/><stop offset="0.655" stop-color="#97ffb1"/><stop offset="0.730" stop-color="#94ffda"/><stop offset="0.792" stop-color="#90fff9"/><stop offset="0.830" stop-color="#90ffff"/><stop offset="0.875" stop-color="#82e5ff"/><stop offset="0.916" stop-color="#76cbff"/><stop offset="0.964" stop-color="#6cb2ff"/><stop offset="0.998" stop-color="#60a1ff"/></linearGradient><linearGradient id="b135" x2="0" y2="1"><stop offset="0.002" stop-color="#e0ff3b"/><stop offset="0.074" stop-color="#c5ff3c"/><stop offset="0.232" stop-color="#9aff3c"/><stop offset="0.345" stop-color="#96ff3c"/><stop offset="0.421" stop-color="#98ff41"/><stop offset="0.448" stop-color="#98ff46"/><stop offset="0.534" stop-color="#9bff77"/><stop offset="0.665" stop-color="#97ffb1"/><stop offset="0.744" stop-color="#94ffdb"/><stop offset="0.806" stop-color="#90fff9"/><stop offset="0.847" stop-color="#90feff"/><stop offset="0.892" stop-color="#82e5ff"/><stop offset="0.936" stop-color="#76caff"/><stop offset="0.985" stop-color="#6cb2ff"/><stop offset="0.998" stop-color="#6ab0ff"/></linearGradient><linearGradient id="b136" x2="0" y2="1"><stop offset="0.002" stop-color="#e1ff3a"/><stop offset="0.081" stop-color="#c4ff3c"/><stop offset="0.246" stop-color="#9aff3c"/><stop offset="0.363" stop-color="#96ff3c"/><stop offset="0.435" stop-color="#98ff41"/><stop offset="0.462" stop-color="#98ff46"/><stop offset="0.545" stop-color="#9bff76"/><stop offset="0.679" stop-color="#97ffb1"/><stop offset="0.761" stop-color="#94ffdc"/><stop offset="0.820" stop-color="#90fff8"/><stop offset="0.864" stop-color="#8ffeff"/><stop offset="0.909" stop-color="#82e5ff"/><stop offset="0.954" stop-color="#76caff"/><stop offset="0.998" stop-color="#6db4ff"/></linearGradient><linearGradient id="b137" x2="0" y2="1"><stop offset="0.002" stop-color="#e4ff3a"/><stop offset="0.091" stop-color="#c4ff3c"/><stop offset="0.259" stop-color="#9aff3c"/><stop offset="0.400" stop-color="#97ff3d"/><stop offset="0.459" stop-color="#98ff42"/><stop offset="0.479" stop-color="#98ff46"/><stop offset="0.565" stop-color="#9bff76"/><stop offset="0.699" stop-color="#97ffb0"/><stop offset="0.778" stop-color="#95ffd9"/><stop offset="0.844" stop-color="#90fff8"/><stop offset="0.888" stop-color="#90feff"/><stop offset="0.936" stop-color="#82e4ff"/><stop offset="0.981" stop-color="#76caff"/><stop offset="0.998" stop-color="#73c2ff"/></linearGradient><linearGradient id="b138" x2="0" y2="1"><stop offset="0.002" stop-color="#e5ff3a"/><stop offset="0.095" stop-color="#c5ff3c"/><stop offset="0.266" stop-color="#9aff3c"/><stop offset="0.380" stop-color="#96ff3c"/><stop offset="0.459" stop-color="#98ff40"/><stop offset="0.486" stop-color="#98ff45"/><stop offset="0.572" stop-color="#9bff76"/><stop offset="0.706" stop-color="#97ffb0"/><stop offset="0.785" stop-color="#95ffd9"/><stop offset="0.851" stop-color="#90fff8"/><stop offset="0.895" stop-color="#90feff"/><stop offset="0.943" stop-color="#82e3ff"/><stop offset="0.988" stop-color="#76c9ff"/><stop offset="0.998" stop-color="#74c4ff"/></linearGradient><linearGradient id="b139" x2="0" y2="1"><stop offset="0.002" stop-color="#e6ff3a"/><stop offset="0.098" stop-color="#c5ff3c"/><stop offset="0.273" stop-color="#9aff3c"/><stop offset="0.407" stop-color="#97ff3d"/><stop offset="0.469" stop-color="#98ff41"/><stop offset="0.493" stop-color="#98ff47"/><stop offset="0.572" stop-color="#9bff75"/><stop offset="0.710" stop-color="#97ffb2"/><stop offset="0.789" stop-color="#94ffdc"/><stop offset="0.847" stop-color="#90fff8"/><stop offset="0.892" stop-color="#8ffeff"/><stop offset="0.936" stop-color="#82e5ff"/><stop offset="0.981" stop-color="#76caff"/><stop offset="0.998" stop-color="#73c1ff"/></linearGradient><linearGradient id="b140" x2="0" y2="1"><stop offset="0.002" stop-color="#e7ff3a"/><stop offset="0.101" stop-color="#c5ff3c"/><stop offset="0.277" stop-color="#9aff3c"/><stop offset="0.345" stop-color="#97ff3c"/><stop offset="0.466" stop-color="#98ff40"/><stop offset="0.497" stop-color="#98ff46"/><stop offset="0.579" stop-color="#9bff76"/><stop offset="0.710" stop-color="#97ffb1"/><stop offset="0.785" stop-color="#94ffda"/><stop offset="0.847" stop-color="#90fff8"/><stop offset="0.888" stop-color="#90ffff"/><stop offset="0.936" stop-color="#82e3ff"/><stop offset="0.981" stop-color="#75c8ff"/><stop offset="0.998" stop-color="#73c0ff"/></linearGradient><linearGradient id="b141" x2="0" y2="1"><stop offset="0.002" stop-color="#e9ff3a"/><stop offset="0.105" stop-color="#c5ff3c"/><stop offset="0.284" stop-color="#9aff3c"/><stop offset="0.383" stop-color="#96ff3c"/><stop offset="0.473" stop-color="#98ff40"/><stop offset="0.503" stop-color="#98ff46"/><stop offset="0.586" stop-color="#9bff77"/><stop offset="0.716" stop-color="#97ffb2"/><stop offset="0.796" stop-color="#94ffdd"/><stop offset="0.854" stop-color="#90fff9"/><stop offset="0.895" stop-color="#8ffeff"/><stop offset="0.940" stop-color="#82e4ff"/><stop offset="0.985" stop-color="#76c9ff"/><stop offset="0.998" stop-color="#73c2ff"/></linearGradient><linearGradient id="b142" x2="0" y2="1"><stop offset="0.002" stop-color="#ebff3a"/><stop offset="0.108" stop-color="#c6ff3c"/><stop offset="0.290" stop-color="#9aff3c"/><stop offset="0.431" stop-color="#97ff3d"/><stop offset="0.490" stop-color="#98ff42"/><stop offset="0.510" stop-color="#98ff46"/><stop offset="0.593" stop-color="#9bff77"/><stop offset="0.720" stop-color="#97ffb0"/><stop offset="0.796" stop-color="#94ffda"/><stop offset="0.857" stop-color="#90fff8"/><stop offset="0.899" stop-color="#90feff"/><stop offset="0.943" stop-color="#82e4ff"/><stop offset="0.988" stop-color="#76c9ff"/><stop offset="0.998" stop-color="#74c4ff"/></linearGradient><linearGradient id="b143" x2="0" y2="1"><stop offset="0.002" stop-color="#edff3a"/><stop offset="0.112" stop-color="#c6ff3c"/><stop offset="0.294" stop-color="#9aff3c"/><stop offset="0.359" stop-color="#97ff3c"/><stop offset="0.483" stop-color="#98ff40"/><stop offset="0.517" stop-color="#98ff47"/><stop offset="0.600" stop-color="#9bff77"/><stop offset="0.727" stop-color="#97ffb1"/><stop offset="0.802" stop-color="#94ffda"/><stop offset="0.864" stop-color="#90fff9"/><stop offset="0.902" stop-color="#90ffff"/><stop offset="0.947" stop-color="#83e5ff"/><stop offset="0.991" stop-color="#76c9ff"/><stop offset="0.998" stop-color="#75c6ff"/></linearGradient><linearGradient id="b144" x2="0" y2="1"><stop offset="0.002" stop-color="#eeff39"/><stop offset="0.115" stop-color="#c6ff3c"/><stop offset="0.301" stop-color="#9aff3c"/><stop offset="0.418" stop-color="#96ff3c"/><stop offset="0.497" stop-color="#98ff41"/><stop offset="0.521" stop-color="#98ff45"/><stop offset="0.607" stop-color="#9bff77"/><stop offset="0.734" stop-color="#97ffb1"/><stop offset="0.809" stop-color="#94ffdb"/><stop offset="0.868" stop-color="#90fff8"/><stop offset="0.909" stop-color="#90ffff"/><stop offset="0.954" stop-color="#82e5ff"/><stop offset="0.995" stop-color="#76cbff"/><stop offset="0.998" stop-color="#76c9ff"/></linearGradient><linearGradient id="b145" x2="0" y2="1"><stop offset="0.002" stop-color="#eeff39"/><stop offset="0.119" stop-color="#c6ff3c"/><stop offset="0.304" stop-color="#9aff3c"/><stop offset="0.373" stop-color="#97ff3c"/><stop offset="0.497" stop-color="#98ff40"/><stop offset="0.527" stop-color="#98ff45"/><stop offset="0.613" stop-color="#9bff77"/><stop offset="0.741" stop-color="#97ffb1"/><stop offset="0.816" stop-color="#94ffdb"/><stop offset="0.875" stop-color="#90fff8"/><stop offset="0.916" stop-color="#90ffff"/><stop offset="0.960" stop-color="#82e5ff"/><stop offset="0.998" stop-color="#77cdff"/></linearGradient><linearGradient id="b146" x2="0" y2="1"><stop offset="0.002" stop-color="#f0ff39"/><stop offset="0.119" stop-color="#c6ff3c"/><stop offset="0.304" stop-color="#9bff3c"/><stop offset="0.349" stop-color="#97ff3c"/><stop offset="0.479" stop-color="#98ff3e"/><stop offset="0.531" stop-color="#98ff44"/><stop offset="0.620" stop-color="#9bff77"/><stop offset="0.747" stop-color="#97ffb2"/><stop offset="0.823" stop-color="#94ffdb"/><stop offset="0.881" stop-color="#90fff8"/><stop offset="0.923" stop-color="#90ffff"/><stop offset="0.967" stop-color="#83e5ff"/><stop offset="0.998" stop-color="#78d0ff"/></linearGradient><linearGradient id="b147" x2="0" y2="1"><stop offset="0.002" stop-color="#f1ff39"/><stop offset="0.115" stop-color="#c8ff3c"/><stop offset="0.304" stop-color="#9bff3c"/><stop offset="0.349" stop-color="#97ff3c"/><stop offset="0.483" stop-color="#98ff3e"/><stop offset="0.534" stop-color="#98ff45"/><stop offset="0.624" stop-color="#9bff77"/><stop offset="0.751" stop-color="#97ffb1"/><stop offset="0.830" stop-color="#94ffdb"/><stop offset="0.888" stop-color="#90fff8"/><stop offset="0.933" stop-color="#8ffdff"/><stop offset="0.978" stop-color="#82e3ff"/><stop offset="0.998" stop-color="#7bd6ff"/></linearGradient><linearGradient id="b148" x2="0" y2="1"><stop offset="0.002" stop-color="#f1ff39"/><stop offset="0.122" stop-color="#c6ff3c"/><stop offset="0.308" stop-color="#9aff3c"/><stop offset="0.356" stop-color="#97ff3c"/><stop offset="0.486" stop-color="#98ff3e"/><stop offset="0.538" stop-color="#98ff45"/><stop offset="0.627" stop-color="#9bff77"/><stop offset="0.758" stop-color="#97ffb2"/><stop offset="0.837" stop-color="#94ffdc"/><stop offset="0.895" stop-color="#90fff9"/><stop offset="0.936" stop-color="#90ffff"/><stop offset="0.981" stop-color="#83e5ff"/><stop offset="0.998" stop-color="#7ddaff"/></linearGradient><linearGradient id="b149" x2="0" y2="1"><stop offset="0.002" stop-color="#f1ff39"/><stop offset="0.125" stop-color="#c6ff3c"/><stop offset="0.311" stop-color="#9aff3c"/><stop offset="0.404" stop-color="#96ff3c"/><stop offset="0.510" stop-color="#98ff40"/><stop offset="0.541" stop-color="#98ff46"/><stop offset="0.631" stop-color="#9bff77"/><stop offset="0.761" stop-color="#97ffb2"/><stop offset="0.837" stop-color="#94ffda"/><stop offset="0.902" stop-color="#90fff9"/><stop offset="0.943" stop-color="#8ffeff"/><stop offset="0.988" stop-color="#82e5ff"/><stop offset="0.998" stop-color="#7fdeff"/></linearGradient><linearGradient id="b150" x2="0" y2="1"><stop offset="0.002" stop-color="#f1ff39"/><stop offset="0.125" stop-color="#c6ff3c"/><stop offset="0.314" stop-color="#9aff3c"/><stop offset="0.390" stop-color="#97ff3c"/><stop offset="0.514" stop-color="#98ff40"/><stop offset="0.548" stop-color="#98ff46"/><stop offset="0.641" stop-color="#9bff78"/><stop offset="0.768" stop-color="#97ffb0"/><stop offset="0.847" stop-color="#94ffda"/><stop offset="0.912" stop-color="#90fff9"/><stop offset="0.954" stop-color="#90feff"/><stop offset="0.998" stop-color="#83e5ff"/></linearGradient><linearGradient id="b151" x2="0" y2="1"><stop offset="0.002" stop-color="#f1ff39"/><stop offset="0.132" stop-color="#c5ff3c"/><stop offset="0.321" stop-color="#9aff3c"/><stop offset="0.466" stop-color="#97ff3d"/><stop offset="0.531" stop-color="#98ff41"/><stop offset="0.555" stop-color="#98ff45"/><stop offset="0.651" stop-color="#9bff79"/><stop offset="0.778" stop-color="#97ffb1"/><stop offset="0.861" stop-color="#94ffdc"/><stop offset="0.923" stop-color="#90fff9"/><stop offset="0.964" stop-color="#90ffff"/><stop offset="0.998" stop-color="#86edff"/></linearGradient><linearGradient id="b152" x2="0" y2="1"><stop offset="0.002" stop-color="#f1ff39"/><stop offset="0.019" stop-color="#edff3a"/><stop offset="0.136" stop-color="#c5ff3c"/><stop offset="0.325" stop-color="#9aff3c"/><stop offset="0.421" stop-color="#96ff3c"/><stop offset="0.531" stop-color="#98ff40"/><stop offset="0.562" stop-color="#98ff45"/><stop offset="0.658" stop-color="#9bff78"/><stop offset="0.789" stop-color="#97ffb1"/><stop offset="0.871" stop-color="#94ffdc"/><stop offset="0.933" stop-color="#90fff9"/><stop offset="0.978" stop-color="#8ffdff"/><stop offset="0.998" stop-color="#8af3ff"/></linearGradient><linearGradient id="b153" x2="0" y2="1"><stop offset="0.002" stop-color="#f1ff39"/><stop offset="0.015" stop-color="#efff39"/><stop offset="0.139" stop-color="#c6ff3c"/><stop offset="0.335" stop-color="#9aff3c"/><stop offset="0.490" stop-color="#97ff3d"/><stop offset="0.555" stop-color="#98ff42"/><stop offset="0.576" stop-color="#98ff46"/><stop offset="0.675" stop-color="#9bff7a"/><stop offset="0.802" stop-color="#97ffb1"/><stop offset="0.885" stop-color="#94ffdc"/><stop offset="0.947" stop-color="#90fff9"/><stop offset="0.988" stop-color="#90ffff"/><stop offset="0.998" stop-color="#8dfaff"/></linearGradient><linearGradient id="b154" x2="0" y2="1"><stop offset="0.002" stop-color="#f1ff39"/><stop offset="0.022" stop-color="#eeff39"/><stop offset="0.146" stop-color="#c6ff3c"/><stop offset="0.342" stop-color="#9aff3c"/><stop offset="0.411" stop-color="#97ff3c"/><stop offset="0.552" stop-color="#98ff40"/><stop offset="0.589" stop-color="#98ff46"/><stop offset="0.689" stop-color="#9bff7a"/><stop offset="0.820" stop-color="#97ffb3"/><stop offset="0.902" stop-color="#94ffdd"/><stop offset="0.960" stop-color="#90fff8"/><stop offset="0.998" stop-color="#90fffe"/></linearGradient><linearGradient id="b155" x2="0" y2="1"><stop offset="0.002" stop-color="#f1ff39"/><stop offset="0.026" stop-color="#efff39"/><stop offset="0.153" stop-color="#c6ff3c"/><stop offset="0.352" stop-color="#9aff3c"/><stop offset="0.469" stop-color="#96ff3c"/><stop offset="0.569" stop-color="#98ff40"/><stop offset="0.603" stop-color="#98ff47"/><stop offset="0.706" stop-color="#9bff7b"/><stop offset="0.837" stop-color="#97ffb2"/><stop offset="0.919" stop-color="#94ffdc"/><stop offset="0.981" stop-color="#90fff8"/><stop offset="0.998" stop-color="#90fffb"/></linearGradient><linearGradient id="b156" x2="0" y2="1"><stop offset="0.002" stop-color="#f1ff39"/><stop offset="0.033" stop-color="#efff39"/><stop offset="0.156" stop-color="#c6ff3c"/><stop offset="0.356" stop-color="#9aff3c"/><stop offset="0.407" stop-color="#97ff3c"/><stop offset="0.555" stop-color="#98ff3e"/><stop offset="0.613" stop-color="#98ff46"/><stop offset="0.723" stop-color="#9bff7c"/><stop offset="0.851" stop-color="#97ffb1"/><stop offset="0.933" stop-color="#94ffda"/><stop offset="0.998" stop-color="#90fff8"/></linearGradient><linearGradient id="b157" x2="0" y2="1"><stop offset="0.002" stop-color="#f1ff39"/><stop offset="0.040" stop-color="#efff39"/><stop offset="0.163" stop-color="#c6ff3c"/><stop offset="0.363" stop-color="#9aff3c"/><stop offset="0.418" stop-color="#97ff3c"/><stop offset="0.565" stop-color="#98ff3e"/><stop offset="0.620" stop-color="#98ff45"/><stop offset="0.734" stop-color="#9bff7c"/><stop offset="0.861" stop-color="#97ffb1"/><stop offset="0.943" stop-color="#94ffda"/><stop offset="0.998" stop-color="#91fff4"/></linearGradient><linearGradient id="b158" x2="0" y2="1"><stop offset="0.002" stop-color="#fffd38"/><stop offset="0.036" stop-color="#feff38"/><stop offset="0.105" stop-color="#dfff3b"/><stop offset="0.184" stop-color="#c4ff3c"/><stop offset="0.345" stop-color="#9eff3c"/><stop offset="0.397" stop-color="#98ff3c"/><stop offset="0.558" stop-color="#98ff3e"/><stop offset="0.627" stop-color="#98ff45"/><stop offset="0.744" stop-color="#9bff7d"/><stop offset="0.875" stop-color="#97ffb3"/><stop offset="0.960" stop-color="#94ffde"/><stop offset="0.998" stop-color="#91fff0"/></linearGradient><linearGradient id="b159" x2="0" y2="1"><stop offset="0.002" stop-color="#fefa37"/><stop offset="0.009" stop-color="#ffff38"/><stop offset="0.043" stop-color="#fdff38"/><stop offset="0.108" stop-color="#e0ff3b"/><stop offset="0.187" stop-color="#c5ff3c"/><stop offset="0.352" stop-color="#9fff3c"/><stop offset="0.404" stop-color="#98ff3c"/><stop offset="0.565" stop-color="#97ff3d"/><stop offset="0.634" stop-color="#98ff44"/><stop offset="0.751" stop-color="#9bff7c"/><stop offset="0.881" stop-color="#97ffb2"/><stop offset="0.967" stop-color="#94ffdc"/><stop offset="0.998" stop-color="#92ffea"/></linearGradient><linearGradient id="b160" x2="0" y2="1"><stop offset="0.002" stop-color="#fef737"/><stop offset="0.012" stop-color="#ffff38"/><stop offset="0.046" stop-color="#feff38"/><stop offset="0.115" stop-color="#e0ff3b"/><stop offset="0.198" stop-color="#c4ff3c"/><stop offset="0.366" stop-color="#9eff3c"/><stop offset="0.414" stop-color="#98ff3c"/><stop offset="0.576" stop-color="#98ff3e"/><stop offset="0.644" stop-color="#98ff44"/><stop offset="0.768" stop-color="#9aff80"/><stop offset="0.885" stop-color="#97ffb3"/><stop offset="0.954" stop-color="#95ffd7"/><stop offset="0.998" stop-color="#95ffd7"/></linearGradient><linearGradient id="b161" x2="0" y2="1"><stop offset="0.002" stop-color="#fdf337"/><stop offset="0.015" stop-color="#ffff38"/><stop offset="0.050" stop-color="#ffff38"/><stop offset="0.122" stop-color="#e0ff3b"/><stop offset="0.204" stop-color="#c4ff3c"/><stop offset="0.376" stop-color="#9dff3c"/><stop offset="0.421" stop-color="#98ff3c"/><stop offset="0.586" stop-color="#98ff3e"/><stop offset="0.658" stop-color="#98ff45"/><stop offset="0.782" stop-color="#9aff80"/><stop offset="0.899" stop-color="#97ffb3"/><stop offset="0.967" stop-color="#95ffd6"/><stop offset="0.998" stop-color="#95ffd7"/></linearGradient><linearGradient id="b162" x2="0" y2="1"><stop offset="0.002" stop-color="#fbea36"/><stop offset="0.026" stop-color="#ffff38"/><stop offset="0.060" stop-color="#ffff38"/><stop offset="0.132" stop-color="#e0ff3b"/><stop offset="0.215" stop-color="#c4ff3c"/><stop offset="0.387" stop-color="#9dff3c"/><stop offset="0.431" stop-color="#98ff3c"/><stop offset="0.596" stop-color="#98ff3e"/><stop offset="0.668" stop-color="#98ff45"/><stop offset="0.792" stop-color="#9aff80"/><stop offset="0.912" stop-color="#97ffb3"/><stop offset="0.985" stop-color="#95ffd7"/><stop offset="0.998" stop-color="#95ffd7"/></linearGradient><linearGradient id="b163" x2="0" y2="1"><stop offset="0.002" stop-color="#f9e135"/><stop offset="0.036" stop-color="#ffff38"/><stop offset="0.074" stop-color="#fdff38"/><stop offset="0.143" stop-color="#e0ff3b"/><stop offset="0.225" stop-color="#c4ff3c"/><stop offset="0.397" stop-color="#9eff3c"/><stop offset="0.445" stop-color="#98ff3c"/><stop offset="0.610" stop-color="#98ff3e"/><stop offset="0.682" stop-color="#98ff46"/><stop offset="0.806" stop-color="#9aff81"/><stop offset="0.923" stop-color="#97ffb3"/><stop offset="0.991" stop-color="#95ffd7"/><stop offset="0.998" stop-color="#95ffd7"/></linearGradient><linearGradient id="b164" x2="0" y2="1"><stop offset="0.002" stop-color="#f8d834"/><stop offset="0.046" stop-color="#ffff38"/><stop offset="0.084" stop-color="#fdff38"/><stop offset="0.156" stop-color="#dfff3b"/><stop offset="0.235" stop-color="#c5ff3c"/><stop offset="0.407" stop-color="#9eff3c"/><stop offset="0.459" stop-color="#98ff3c"/><stop offset="0.624" stop-color="#97ff3d"/><stop offset="0.696" stop-color="#98ff45"/><stop offset="0.820" stop-color="#9aff80"/><stop offset="0.936" stop-color="#97ffb3"/><stop offset="0.998" stop-color="#95ffd2"/></linearGradient><linearGradient id="b165" x2="0" y2="1"><stop offset="0.002" stop-color="#f6cf33"/><stop offset="0.057" stop-color="#ffff38"/><stop offset="0.095" stop-color="#fdff38"/><stop offset="0.167" stop-color="#dfff3b"/><stop offset="0.249" stop-color="#c4ff3c"/><stop offset="0.424" stop-color="#9eff3c"/><stop offset="0.473" stop-color="#98ff3c"/><stop offset="0.637" stop-color="#98ff3e"/><stop offset="0.710" stop-color="#98ff45"/><stop offset="0.837" stop-color="#9aff80"/><stop offset="0.957" stop-color="#97ffb4"/><stop offset="0.998" stop-color="#96ffc8"/></linearGradient><linearGradient id="b166" x2="0" y2="1"><stop offset="0.002" stop-color="#f5c832"/><stop offset="0.067" stop-color="#ffff38"/><stop offset="0.105" stop-color="#feff38"/><stop offset="0.177" stop-color="#e0ff3b"/><stop offset="0.263" stop-color="#c4ff3c"/><stop offset="0.445" stop-color="#9dff3c"/><stop offset="0.490" stop-color="#98ff3c"/><stop offset="0.655" stop-color="#98ff3e"/><stop offset="0.727" stop-color="#98ff45"/><stop offset="0.851" stop-color="#9aff80"/><stop offset="0.971" stop-color="#97ffb3"/><stop offset="0.998" stop-color="#96ffc0"/></linearGradient><linearGradient id="b167" x2="0" y2="1"><stop offset="0.002" stop-color="#f4c431"/><stop offset="0.019" stop-color="#f6ce33"/><stop offset="0.077" stop-color="#ffff38"/><stop offset="0.115" stop-color="#feff38"/><stop offset="0.191" stop-color="#e0ff3b"/><stop offset="0.277" stop-color="#c4ff3c"/><stop offset="0.462" stop-color="#9cff3c"/><stop offset="0.503" stop-color="#98ff3c"/><stop offset="0.668" stop-color="#97ff3d"/><stop offset="0.741" stop-color="#98ff44"/><stop offset="0.871" stop-color="#9aff81"/><stop offset="0.991" stop-color="#97ffb4"/><stop offset="0.998" stop-color="#97ffb7"/></linearGradient><linearGradient id="b168" x2="0" y2="1"><stop offset="0.002" stop-color="#f3c031"/><stop offset="0.026" stop-color="#f6cc32"/><stop offset="0.088" stop-color="#ffff38"/><stop offset="0.125" stop-color="#feff38"/><stop offset="0.201" stop-color="#e0ff3b"/><stop offset="0.290" stop-color="#c4ff3c"/><stop offset="0.479" stop-color="#9cff3c"/><stop offset="0.521" stop-color="#98ff3c"/><stop offset="0.689" stop-color="#98ff3e"/><stop offset="0.761" stop-color="#98ff45"/><stop offset="0.888" stop-color="#9aff80"/><stop offset="0.998" stop-color="#97ffae"/></linearGradient><linearGradient id="b169" x2="0" y2="1"><stop offset="0.002" stop-color="#f2bc30"/><stop offset="0.033" stop-color="#f6cc32"/><stop offset="0.098" stop-color="#ffff38"/><stop offset="0.136" stop-color="#feff38"/><stop offset="0.215" stop-color="#e0ff3b"/><stop offset="0.304" stop-color="#c4ff3c"/><stop offset="0.497" stop-color="#9cff3c"/><stop offset="0.538" stop-color="#98ff3c"/><stop offset="0.706" stop-color="#98ff3e"/><stop offset="0.778" stop-color="#98ff45"/><stop offset="0.905" stop-color="#9aff80"/><stop offset="0.998" stop-color="#98ffa6"/></linearGradient><linearGradient id="b170" x2="0" y2="1"><stop offset="0.002" stop-color="#f2b930"/><stop offset="0.040" stop-color="#f5cb32"/><stop offset="0.108" stop-color="#ffff38"/><stop offset="0.146" stop-color="#feff38"/><stop offset="0.225" stop-color="#e0ff3b"/><stop offset="0.318" stop-color="#c4ff3c"/><stop offset="0.517" stop-color="#9bff3c"/><stop offset="0.562" stop-color="#98ff3c"/><stop offset="0.727" stop-color="#98ff3e"/><stop offset="0.799" stop-color="#98ff45"/><stop offset="0.926" stop-color="#9aff7f"/><stop offset="0.998" stop-color="#98ff9c"/></linearGradient><linearGradient id="b171" x2="0" y2="1"><stop offset="0.002" stop-color="#f1b62f"/><stop offset="0.050" stop-color="#f6cc32"/><stop offset="0.115" stop-color="#fffe38"/><stop offset="0.156" stop-color="#feff38"/><stop offset="0.239" stop-color="#dfff3b"/><stop offset="0.328" stop-color="#c4ff3c"/><stop offset="0.527" stop-color="#9cff3c"/><stop offset="0.572" stop-color="#98ff3c"/><stop offset="0.744" stop-color="#98ff3e"/><stop offset="0.820" stop-color="#98ff46"/><stop offset="0.950" stop-color="#9aff80"/><stop offset="0.998" stop-color="#99ff93"/></linearGradient><linearGradient id="b172" x2="0" y2="1"><stop offset="0.002" stop-color="#f0b32e"/><stop offset="0.057" stop-color="#f6cb32"/><stop offset="0.125" stop-color="#ffff38"/><stop offset="0.163" stop-color="#feff38"/><stop offset="0.246" stop-color="#dfff3b"/><stop offset="0.338" stop-color="#c4ff3c"/><stop offset="0.538" stop-color="#9cff3c"/><stop offset="0.582" stop-color="#98ff3c"/><stop offset="0.761" stop-color="#98ff3e"/><stop offset="0.837" stop-color="#98ff45"/><stop offset="0.971" stop-color="#9aff80"/><stop offset="0.998" stop-color="#9aff8a"/></linearGradient><linearGradient id="b173" x2="0" y2="1"><stop offset="0.002" stop-color="#f0b12e"/><stop offset="0.060" stop-color="#f5ca32"/><stop offset="0.129" stop-color="#ffff38"/><stop offset="0.170" stop-color="#feff38"/><stop offset="0.253" stop-color="#e0ff3b"/><stop offset="0.349" stop-color="#c4ff3c"/><stop offset="0.552" stop-color="#9cff3c"/><stop offset="0.600" stop-color="#98ff3c"/><stop offset="0.778" stop-color="#98ff3e"/><stop offset="0.857" stop-color="#98ff46"/><stop offset="0.995" stop-color="#9aff81"/><stop offset="0.998" stop-color="#9aff82"/></linearGradient><linearGradient id="b174" x2="0" y2="1"><stop offset="0.002" stop-color="#efaf2e"/><stop offset="0.067" stop-color="#f6cb32"/><stop offset="0.136" stop-color="#ffff38"/><stop offset="0.177" stop-color="#feff38"/><stop offset="0.259" stop-color="#e0ff3b"/><stop offset="0.356" stop-color="#c4ff3c"/><stop offset="0.558" stop-color="#9dff3c"/><stop offset="0.607" stop-color="#98ff3c"/><stop offset="0.792" stop-color="#98ff3e"/><stop offset="0.875" stop-color="#98ff45"/><stop offset="0.998" stop-color="#9bff7a"/></linearGradient><linearGradient id="b175" x2="0" y2="1"><stop offset="0.002" stop-color="#eeac2d"/><stop offset="0.074" stop-color="#f6cc32"/><stop offset="0.143" stop-color="#ffff38"/><stop offset="0.184" stop-color="#fdff38"/><stop offset="0.266" stop-color="#dfff3b"/><stop offset="0.359" stop-color="#c4ff3c"/><stop offset="0.558" stop-color="#9eff3c"/><stop offset="0.617" stop-color="#98ff3c"/><stop offset="0.809" stop-color="#98ff3e"/><stop offset="0.895" stop-color="#98ff46"/><stop offset="0.998" stop-color="#9bff71"/></linearGradient><linearGradient id="b176" x2="0" y2="1"><stop offset="0.002" stop-color="#eeac2d"/><stop offset="0.074" stop-color="#f6cb32"/><stop offset="0.143" stop-color="#ffff38"/><stop offset="0.184" stop-color="#feff38"/><stop offset="0.266" stop-color="#e0ff3b"/><stop offset="0.363" stop-color="#c4ff3c"/><stop offset="0.562" stop-color="#9eff3c"/><stop offset="0.620" stop-color="#98ff3c"/><stop offset="0.806" stop-color="#97ff3d"/><stop offset="0.885" stop-color="#98ff45"/><stop offset="0.940" stop-color="#99ff5c"/><stop offset="0.998" stop-color="#99ff5c"/></linearGradient><linearGradient id="b177" x2="0" y2="1"><stop offset="0.002" stop-color="#eeac2d"/><stop offset="0.074" stop-color="#f5ca32"/><stop offset="0.146" stop-color="#ffff38"/><stop offset="0.187" stop-color="#feff38"/><stop offset="0.270" stop-color="#e0ff3b"/><stop offset="0.366" stop-color="#c4ff3c"/><stop offset="0.565" stop-color="#9fff3c"/><stop offset="0.631" stop-color="#98ff3c"/><stop offset="0.820" stop-color="#97ff3d"/><stop offset="0.899" stop-color="#98ff45"/><stop offset="0.954" stop-color="#99ff5c"/><stop offset="0.998" stop-color="#99ff5c"/></linearGradient><linearGradient id="b178" x2="0" y2="1"><stop offset="0.002" stop-color="#eeab2d"/><stop offset="0.077" stop-color="#f5ca32"/><stop offset="0.149" stop-color="#ffff38"/><stop offset="0.191" stop-color="#feff38"/><stop offset="0.277" stop-color="#dfff3b"/><stop offset="0.373" stop-color="#c4ff3c"/><stop offset="0.576" stop-color="#9fff3c"/><stop offset="0.641" stop-color="#98ff3c"/><stop offset="0.833" stop-color="#97ff3d"/><stop offset="0.916" stop-color="#98ff45"/><stop offset="0.974" stop-color="#99ff5c"/><stop offset="0.998" stop-color="#99ff5c"/></linearGradient><linearGradient id="b179" x2="0" y2="1"><stop offset="0.002" stop-color="#eea92d"/><stop offset="0.081" stop-color="#f5ca32"/><stop offset="0.153" stop-color="#ffff38"/><stop offset="0.194" stop-color="#feff38"/><stop offset="0.280" stop-color="#dfff3b"/><stop offset="0.380" stop-color="#c4ff3c"/><stop offset="0.582" stop-color="#9fff3c"/><stop offset="0.651" stop-color="#98ff3c"/><stop offset="0.847" stop-color="#97ff3d"/><stop offset="0.930" stop-color="#98ff44"/><stop offset="0.988" stop-color="#99ff5c"/><stop offset="0.998" stop-color="#99ff5c"/></linearGradient><linearGradient id="b180" x2="0" y2="1"><stop offset="0.002" stop-color="#eea92d"/><stop offset="0.084" stop-color="#f6cc32"/><stop offset="0.156" stop-color="#ffff38"/><stop offset="0.198" stop-color="#feff38"/><stop offset="0.284" stop-color="#dfff3b"/><stop offset="0.380" stop-color="#c4ff3c"/><stop offset="0.582" stop-color="#a0ff3c"/><stop offset="0.658" stop-color="#98ff3c"/><stop offset="0.857" stop-color="#97ff3d"/><stop offset="0.943" stop-color="#98ff44"/><stop offset="0.998" stop-color="#99ff5b"/></linearGradient><linearGradient id="b181" x2="0" y2="1"><stop offset="0.002" stop-color="#eea82d"/><stop offset="0.084" stop-color="#f6cb32"/><stop offset="0.156" stop-color="#ffff38"/><stop offset="0.198" stop-color="#feff38"/><stop offset="0.284" stop-color="#e0ff3b"/><stop offset="0.383" stop-color="#c4ff3c"/><stop offset="0.586" stop-color="#a0ff3c"/><stop offset="0.665" stop-color="#98ff3c"/><stop offset="0.871" stop-color="#97ff3d"/><stop offset="0.957" stop-color="#98ff45"/><stop offset="0.998" stop-color="#99ff55"/></linearGradient><linearGradient id="b182" x2="0" y2="1"><stop offset="0.002" stop-color="#eea82d"/><stop offset="0.084" stop-color="#f5cb32"/><stop offset="0.156" stop-color="#ffff38"/><stop offset="0.201" stop-color="#fdff38"/><stop offset="0.287" stop-color="#dfff3b"/><stop offset="0.387" stop-color="#c4ff3c"/><stop offset="0.593" stop-color="#a0ff3c"/><stop offset="0.672" stop-color="#98ff3c"/><stop offset="0.878" stop-color="#98ff3e"/><stop offset="0.964" stop-color="#98ff44"/><stop offset="0.998" stop-color="#99ff52"/></linearGradient><linearGradient id="b183" x2="0" y2="1"><stop offset="0.002" stop-color="#eea82d"/><stop offset="0.084" stop-color="#f5cb32"/><stop offset="0.156" stop-color="#ffff38"/><stop offset="0.201" stop-color="#fdff38"/><stop offset="0.287" stop-color="#dfff3b"/><stop offset="0.387" stop-color="#c4ff3c"/><stop offset="0.586" stop-color="#a1ff3c"/><stop offset="0.672" stop-color="#98ff3c"/><stop offset="0.885" stop-color="#97ff3d"/><stop offset="0.974" stop-color="#98ff45"/><stop offset="0.998" stop-color="#99ff4f"/></linearGradient><linearGradient id="b184" x2="0" y2="1"><stop offset="0.002" stop-color="#eea92d"/><stop offset="0.084" stop-color="#f6cb32"/><stop offset="0.156" stop-color="#ffff38"/><stop offset="0.201" stop-color="#fdff38"/><stop offset="0.287" stop-color="#dfff3b"/><stop offset="0.387" stop-color="#c4ff3c"/><stop offset="0.582" stop-color="#a2ff3c"/><stop offset="0.675" stop-color="#98ff3c"/><stop offset="0.892" stop-color="#97ff3d"/><stop offset="0.981" stop-color="#98ff45"/><stop offset="0.998" stop-color="#98ff4b"/></linearGradient><linearGradient id="b185" x2="0" y2="1"><stop offset="0.002" stop-color="#eea92d"/><stop offset="0.084" stop-color="#f6cb32"/><stop offset="0.156" stop-color="#ffff38"/><stop offset="0.201" stop-color="#feff38"/><stop offset="0.287" stop-color="#e0ff3b"/><stop offset="0.390" stop-color="#c4ff3c"/><stop offset="0.593" stop-color="#a1ff3c"/><stop offset="0.682" stop-color="#98ff3c"/><stop offset="0.899" stop-color="#97ff3d"/><stop offset="0.988" stop-color="#98ff44"/><stop offset="0.998" stop-color="#98ff48"/></linearGradient><linearGradient id="b186" x2="0" y2="1"><stop offset="0.002" stop-color="#eea82c"/><stop offset="0.088" stop-color="#f6cb32"/><stop offset="0.160" stop-color="#ffff38"/><stop offset="0.204" stop-color="#feff38"/><stop offset="0.290" stop-color="#e0ff3b"/><stop offset="0.390" stop-color="#c4ff3c"/><stop offset="0.576" stop-color="#a5ff3c"/><stop offset="0.686" stop-color="#98ff3c"/><stop offset="0.905" stop-color="#97ff3d"/><stop offset="0.998" stop-color="#98ff45"/></linearGradient><linearGradient id="b187" x2="0" y2="1"><stop offset="0.002" stop-color="#eda62c"/><stop offset="0.091" stop-color="#f6cb32"/><stop offset="0.163" stop-color="#ffff38"/><stop offset="0.208" stop-color="#fdff38"/><stop offset="0.294" stop-color="#e0ff3b"/><stop offset="0.393" stop-color="#c4ff3c"/><stop offset="0.569" stop-color="#a7ff3c"/><stop offset="0.689" stop-color="#98ff3c"/><stop offset="0.912" stop-color="#97ff3d"/><stop offset="0.998" stop-color="#98ff44"/></linearGradient><linearGradient id="b188" x2="0" y2="1"><stop offset="0.002" stop-color="#eda42c"/><stop offset="0.095" stop-color="#f6cb32"/><stop offset="0.167" stop-color="#ffff38"/><stop offset="0.211" stop-color="#fdff38"/><stop offset="0.297" stop-color="#e0ff3b"/><stop offset="0.397" stop-color="#c4ff3c"/><stop offset="0.565" stop-color="#a8ff3c"/><stop offset="0.696" stop-color="#98ff3c"/><stop offset="0.919" stop-color="#97ff3d"/><stop offset="0.998" stop-color="#98ff43"/></linearGradient><linearGradient id="b189" x2="0" y2="1"><stop offset="0.002" stop-color="#eda32b"/><stop offset="0.098" stop-color="#f6cc32"/><stop offset="0.170" stop-color="#ffff38"/><stop offset="0.215" stop-color="#fdff38"/><stop offset="0.301" stop-color="#e0ff3b"/><stop offset="0.404" stop-color="#c4ff3c"/><stop offset="0.596" stop-color="#a4ff3c"/><stop offset="0.699" stop-color="#98ff3c"/><stop offset="0.923" stop-color="#97ff3d"/><stop offset="0.998" stop-color="#98ff43"/></linearGradient><linearGradient id="b190" x2="0" y2="1"><stop offset="0.002" stop-color="#eda22b"/><stop offset="0.074" stop-color="#f3c031"/><stop offset="0.101" stop-color="#f6cc32"/><stop offset="0.174" stop-color="#ffff38"/><stop offset="0.218" stop-color="#fdff38"/><stop offset="0.304" stop-color="#e0ff3b"/><stop offset="0.407" stop-color="#c4ff3c"/><stop offset="0.603" stop-color="#a3ff3c"/><stop offset="0.703" stop-color="#98ff3c"/><stop offset="0.926" stop-color="#97ff3d"/><stop offset="0.998" stop-color="#98ff42"/></linearGradient><linearGradient id="b191" x2="0" y2="1"><stop offset="0.002" stop-color="#eda02b"/><stop offset="0.064" stop-color="#f2bb30"/><stop offset="0.101" stop-color="#f5ca32"/><stop offset="0.177" stop-color="#ffff38"/><stop offset="0.222" stop-color="#fdff38"/><stop offset="0.308" stop-color="#e0ff3b"/><stop offset="0.411" stop-color="#c4ff3c"/><stop offset="0.607" stop-color="#a3ff3c"/><stop offset="0.706" stop-color="#98ff3c"/><stop offset="0.930" stop-color="#97ff3d"/><stop offset="0.998" stop-color="#98ff42"/></linearGradient><linearGradient id="b192" x2="0" y2="1"><stop offset="0.002" stop-color="#ec9f2a"/><stop offset="0.053" stop-color="#f1b62f"/><stop offset="0.105" stop-color="#f5cb32"/><stop offset="0.180" stop-color="#ffff38"/><stop offset="0.225" stop-color="#fdff38"/><stop offset="0.311" stop-color="#e0ff3b"/><stop offset="0.414" stop-color="#c4ff3c"/><stop offset="0.610" stop-color="#a3ff3c"/><stop offset="0.713" stop-color="#98ff3c"/><stop offset="0.933" stop-color="#97ff3d"/><stop offset="0.998" stop-color="#98ff42"/></linearGradient><linearGradient id="b193" x2="0" y2="1"><stop offset="0.002" stop-color="#ec9d2a"/><stop offset="0.053" stop-color="#f0b42f"/><stop offset="0.108" stop-color="#f5ca32"/><stop offset="0.184" stop-color="#ffff38"/><stop offset="0.229" stop-color="#feff38"/><stop offset="0.314" stop-color="#e0ff3b"/><stop offset="0.418" stop-color="#c4ff3c"/><stop offset="0.613" stop-color="#a4ff3c"/><stop offset="0.716" stop-color="#98ff3c"/><stop offset="0.940" stop-color="#98ff3e"/><stop offset="0.998" stop-color="#98ff41"/></linearGradient><linearGradient id="b194" x2="0" y2="1"><stop offset="0.002" stop-color="#ec9c29"/><stop offset="0.053" stop-color="#f0b32e"/><stop offset="0.112" stop-color="#f5ca32"/><stop offset="0.187" stop-color="#ffff38"/><stop offset="0.232" stop-color="#feff38"/><stop offset="0.321" stop-color="#dfff3b"/><stop offset="0.424" stop-color="#c4ff3c"/><stop offset="0.627" stop-color="#a2ff3c"/><stop offset="0.723" stop-color="#98ff3c"/><stop offset="0.943" stop-color="#97ff3d"/><stop offset="0.998" stop-color="#98ff41"/></linearGradient><linearGradient id="b195" x2="0" y2="1"><stop offset="0.002" stop-color="#ec9a29"/><stop offset="0.053" stop-color="#f0b12e"/><stop offset="0.115" stop-color="#f5ca32"/><stop offset="0.191" stop-color="#ffff38"/><stop offset="0.235" stop-color="#feff38"/><stop offset="0.325" stop-color="#dfff3b"/><stop offset="0.428" stop-color="#c4ff3c"/><stop offset="0.627" stop-color="#a3ff3c"/><stop offset="0.727" stop-color="#98ff3c"/><stop offset="0.947" stop-color="#97ff3d"/><stop offset="0.998" stop-color="#98ff40"/></linearGradient><linearGradient id="b196" x2="0" y2="1"><stop offset="0.002" stop-color="#ec9a29"/><stop offset="0.053" stop-color="#f0b12e"/><stop offset="0.119" stop-color="#f6cc32"/><stop offset="0.194" stop-color="#ffff38"/><stop offset="0.239" stop-color="#fdff38"/><stop offset="0.328" stop-color="#dfff3b"/><stop offset="0.431" stop-color="#c4ff3c"/><stop offset="0.637" stop-color="#a2ff3c"/><stop offset="0.730" stop-color="#98ff3c"/><stop offset="0.954" stop-color="#98ff3e"/><stop offset="0.998" stop-color="#98ff40"/></linearGradient><linearGradient id="b197" x2="0" y2="1"><stop offset="0.002" stop-color="#ec9a29"/><stop offset="0.057" stop-color="#f0b22e"/><stop offset="0.119" stop-color="#f6cb32"/><stop offset="0.194" stop-color="#ffff38"/><stop offset="0.239" stop-color="#feff38"/><stop offset="0.328" stop-color="#e0ff3b"/><stop offset="0.435" stop-color="#c4ff3c"/><stop offset="0.644" stop-color="#a1ff3c"/><stop offset="0.737" stop-color="#98ff3c"/><stop offset="0.957" stop-color="#97ff3d"/><stop offset="0.998" stop-color="#98ff3f"/></linearGradient><linearGradient id="b198" x2="0" y2="1"><stop offset="0.002" stop-color="#ec9a29"/><stop offset="0.057" stop-color="#f0b22e"/><stop offset="0.119" stop-color="#f6cb32"/><stop offset="0.194" stop-color="#ffff38"/><stop offset="0.242" stop-color="#fdff38"/><stop offset="0.332" stop-color="#e0ff3b"/><stop offset="0.438" stop-color="#c4ff3c"/><stop offset="0.648" stop-color="#a2ff3c"/><stop offset="0.744" stop-color="#98ff3c"/><stop offset="0.971" stop-color="#98ff3e"/><stop offset="0.998" stop-color="#98ff3e"/></linearGradient><linearGradient id="b199" x2="0" y2="1"><stop offset="0.002" stop-color="#eb9929"/><stop offset="0.060" stop-color="#f0b32e"/><stop offset="0.122" stop-color="#f6cb32"/><stop offset="0.198" stop-color="#ffff38"/><stop offset="0.242" stop-color="#feff38"/><stop offset="0.335" stop-color="#e0ff3b"/><stop offset="0.442" stop-color="#c4ff3c"/><stop offset="0.644" stop-color="#a3ff3c"/><stop offset="0.751" stop-color="#98ff3c"/><stop offset="0.981" stop-color="#97ff3d"/><stop offset="0.998" stop-color="#98ff3e"/></linearGradient><linearGradient id="b200" x2="0" y2="1"><stop offset="0.002" stop-color="#eb9929"/><stop offset="0.074" stop-color="#f1b72f"/><stop offset="0.122" stop-color="#f5ca32"/><stop offset="0.201" stop-color="#ffff38"/><stop offset="0.246" stop-color="#feff38"/><stop offset="0.338" stop-color="#e0ff3b"/><stop offset="0.445" stop-color="#c4ff3c"/><stop offset="0.634" stop-color="#a6ff3c"/><stop offset="0.758" stop-color="#98ff3c"/><stop offset="0.995" stop-color="#97ff3d"/><stop offset="0.998" stop-color="#98ff3e"/></linearGradient><linearGradient id="b201" x2="0" y2="1"><stop offset="0.002" stop-color="#eb9929"/><stop offset="0.022" stop-color="#eda12b"/><stop offset="0.091" stop-color="#f2bd30"/><stop offset="0.125" stop-color="#f5ca32"/><stop offset="0.204" stop-color="#ffff38"/><stop offset="0.249" stop-color="#feff38"/><stop offset="0.342" stop-color="#e0ff3b"/><stop offset="0.448" stop-color="#c4ff3c"/><stop offset="0.610" stop-color="#aaff3c"/><stop offset="0.765" stop-color="#98ff3c"/><stop offset="0.998" stop-color="#97ff3d"/></linearGradient><linearGradient id="b202" x2="0" y2="1"><stop offset="0.002" stop-color="#eb9929"/><stop offset="0.015" stop-color="#ec9d2a"/><stop offset="0.067" stop-color="#f0b32f"/><stop offset="0.129" stop-color="#f6cb32"/><stop offset="0.208" stop-color="#ffff38"/><stop offset="0.253" stop-color="#feff38"/><stop offset="0.345" stop-color="#e0ff3b"/><stop offset="0.452" stop-color="#c5ff3c"/><stop offset="0.596" stop-color="#aeff3c"/><stop offset="0.775" stop-color="#98ff3c"/><stop offset="0.998" stop-color="#97ff3d"/></linearGradient><linearGradient id="b203" x2="0" y2="1"><stop offset="0.002" stop-color="#eb9929"/><stop offset="0.012" stop-color="#ec9b29"/><stop offset="0.064" stop-color="#f0b12e"/><stop offset="0.129" stop-color="#f5ca32"/><stop offset="0.211" stop-color="#ffff38"/><stop offset="0.256" stop-color="#feff38"/><stop offset="0.352" stop-color="#dfff3b"/><stop offset="0.462" stop-color="#c4ff3c"/><stop offset="0.617" stop-color="#acff3c"/><stop offset="0.792" stop-color="#98ff3c"/><stop offset="0.998" stop-color="#96ff3c"/></linearGradient><linearGradient id="b204" x2="0" y2="1"><stop offset="0.002" stop-color="#eb9929"/><stop offset="0.015" stop-color="#ec9c2a"/><stop offset="0.070" stop-color="#f0b32f"/><stop offset="0.132" stop-color="#f5cb32"/><stop offset="0.215" stop-color="#ffff38"/><stop offset="0.259" stop-color="#feff38"/><stop offset="0.356" stop-color="#e0ff3b"/><stop offset="0.466" stop-color="#c4ff3c"/><stop offset="0.596" stop-color="#b0ff3c"/><stop offset="0.802" stop-color="#98ff3c"/><stop offset="0.998" stop-color="#96ff3c"/></linearGradient><linearGradient id="b205" x2="0" y2="1"><stop offset="0.002" stop-color="#eb9929"/><stop offset="0.015" stop-color="#ec9b29"/><stop offset="0.070" stop-color="#f0b32e"/><stop offset="0.136" stop-color="#f6cb32"/><stop offset="0.218" stop-color="#ffff38"/><stop offset="0.263" stop-color="#feff38"/><stop offset="0.359" stop-color="#e0ff3b"/><stop offset="0.473" stop-color="#c4ff3c"/><stop offset="0.600" stop-color="#b1ff3c"/><stop offset="0.816" stop-color="#98ff3c"/><stop offset="0.998" stop-color="#96ff3c"/></linearGradient><linearGradient id="b206" x2="0" y2="1"><stop offset="0.002" stop-color="#eb9929"/><stop offset="0.019" stop-color="#ec9c29"/><stop offset="0.074" stop-color="#f0b32e"/><stop offset="0.139" stop-color="#f6cb32"/><stop offset="0.222" stop-color="#ffff38"/><stop offset="0.270" stop-color="#fdff38"/><stop offset="0.366" stop-color="#dfff3b"/><stop offset="0.476" stop-color="#c4ff3c"/><stop offset="0.593" stop-color="#b2ff3c"/><stop offset="0.830" stop-color="#98ff3c"/><stop offset="0.998" stop-color="#96ff3c"/></linearGradient><linearGradient id="b207" x2="0" y2="1"><stop offset="0.002" stop-color="#eb9929"/><stop offset="0.019" stop-color="#ec9a29"/><stop offset="0.074" stop-color="#f0b22e"/><stop offset="0.143" stop-color="#f6cb32"/><stop offset="0.225" stop-color="#ffff38"/><stop offset="0.273" stop-color="#fdff38"/><stop offset="0.369" stop-color="#dfff3b"/><stop offset="0.483" stop-color="#c4ff3c"/><stop offset="0.596" stop-color="#b3ff3c"/><stop offset="0.844" stop-color="#98ff3c"/><stop offset="0.998" stop-color="#97ff3c"/></linearGradient><linearGradient id="b208" x2="0" y2="1"><stop offset="0.002" stop-color="#eb9929"/><stop offset="0.019" stop-color="#ec9b29"/><stop offset="0.074" stop-color="#f0b22e"/><stop offset="0.139" stop-color="#f5ca32"/><stop offset="0.222" stop-color="#ffff38"/><stop offset="0.270" stop-color="#feff38"/><stop offset="0.369" stop-color="#dfff3b"/><stop offset="0.483" stop-color="#c4ff3c"/><stop offset="0.596" stop-color="#b3ff3c"/><stop offset="0.847" stop-color="#98ff3c"/><stop offset="0.998" stop-color="#97ff3c"/></linearGradient><linearGradient id="b209" x2="0" y2="1"><stop offset="0.002" stop-color="#eb9929"/><stop offset="0.015" stop-color="#ec9b29"/><stop offset="0.070" stop-color="#f0b22e"/><stop offset="0.136" stop-color="#f5ca32"/><stop offset="0.218" stop-color="#ffff38"/><stop offset="0.266" stop-color="#feff38"/><stop offset="0.363" stop-color="#e0ff3b"/><stop offset="0.476" stop-color="#c4ff3c"/><stop offset="0.586" stop-color="#b3ff3c"/><stop offset="0.837" stop-color="#98ff3c"/><stop offset="0.998" stop-color="#96ff3c"/></linearGradient><linearGradient id="b210" x2="0" y2="1"><stop offset="0.002" stop-color="#eb9929"/><stop offset="0.022" stop-color="#eda12b"/><stop offset="0.084" stop-color="#f1b92f"/><stop offset="0.132" stop-color="#f6cb32"/><stop offset="0.215" stop-color="#ffff38"/><stop offset="0.263" stop-color="#fdff38"/><stop offset="0.359" stop-color="#dfff3b"/><stop offset="0.473" stop-color="#c4ff3c"/><stop offset="0.589" stop-color="#b2ff3c"/><stop offset="0.830" stop-color="#98ff3c"/><stop offset="0.998" stop-color="#96ff3c"/></linearGradient><linearGradient id="b211" x2="0" y2="1"><stop offset="0.002" stop-color="#eb9929"/><stop offset="0.070" stop-color="#f1b52f"/><stop offset="0.129" stop-color="#f6cb32"/><stop offset="0.211" stop-color="#ffff38"/><stop offset="0.259" stop-color="#fdff38"/><stop offset="0.356" stop-color="#dfff3b"/><stop offset="0.466" stop-color="#c4ff3c"/><stop offset="0.576" stop-color="#b3ff3c"/><stop offset="0.823" stop-color="#98ff3c"/><stop offset="0.998" stop-color="#96ff3c"/></linearGradient><linearGradient id="b212" x2="0" y2="1"><stop offset="0.002" stop-color="#ec9929"/><stop offset="0.057" stop-color="#f0b12e"/><stop offset="0.125" stop-color="#f6cb32"/><stop offset="0.204" stop-color="#fffe38"/><stop offset="0.253" stop-color="#feff38"/><stop offset="0.349" stop-color="#e0ff3b"/><stop offset="0.462" stop-color="#c4ff3c"/><stop offset="0.582" stop-color="#b2ff3c"/><stop offset="0.816" stop-color="#98ff3c"/><stop offset="0.998" stop-color="#96ff3c"/></linearGradient><linearGradient id="b213" x2="0" y2="1"><stop offset="0.002" stop-color="#ec9d2a"/><stop offset="0.053" stop-color="#f0b32e"/><stop offset="0.119" stop-color="#f6cb32"/><stop offset="0.198" stop-color="#ffff38"/><stop offset="0.246" stop-color="#feff38"/><stop offset="0.342" stop-color="#e0ff3b"/><stop offset="0.455" stop-color="#c4ff3c"/><stop offset="0.586" stop-color="#b0ff3c"/><stop offset="0.802" stop-color="#98ff3c"/><stop offset="0.998" stop-color="#96ff3c"/></linearGradient><linearGradient id="b214" x2="0" y2="1"><stop offset="0.002" stop-color="#ec9e2a"/><stop offset="0.057" stop-color="#f0b52f"/><stop offset="0.115" stop-color="#f6cb32"/><stop offset="0.194" stop-color="#ffff38"/><stop offset="0.242" stop-color="#feff38"/><stop offset="0.338" stop-color="#dfff3b"/><stop offset="0.448" stop-color="#c4ff3c"/><stop offset="0.569" stop-color="#b1ff3c"/><stop offset="0.792" stop-color="#98ff3c"/><stop offset="0.998" stop-color="#96ff3c"/></linearGradient><linearGradient id="b215" x2="0" y2="1"><stop offset="0.002" stop-color="#ec9f2a"/><stop offset="0.057" stop-color="#f1b52f"/><stop offset="0.112" stop-color="#f5ca32"/><stop offset="0.194" stop-color="#ffff38"/><stop offset="0.242" stop-color="#fdff38"/><stop offset="0.335" stop-color="#e0ff3b"/><stop offset="0.448" stop-color="#c4ff3c"/><stop offset="0.579" stop-color="#b0ff3c"/><stop offset="0.792" stop-color="#98ff3c"/><stop offset="0.998" stop-color="#96ff3c"/></linearGradient><linearGradient id="b216" x2="0" y2="1"><stop offset="0.002" stop-color="#ec9c29"/><stop offset="0.057" stop-color="#f0b32f"/><stop offset="0.119" stop-color="#f5cb32"/><stop offset="0.198" stop-color="#ffff38"/><stop offset="0.246" stop-color="#feff38"/><stop offset="0.338" stop-color="#e0ff3b"/><stop offset="0.448" stop-color="#c4ff3c"/><stop offset="0.565" stop-color="#b2ff3c"/><stop offset="0.789" stop-color="#98ff3c"/><stop offset="0.998" stop-color="#96ff3c"/></linearGradient><linearGradient id="b217" x2="0" y2="1"><stop offset="0.002" stop-color="#eb9929"/><stop offset="0.067" stop-color="#f0b42f"/><stop offset="0.125" stop-color="#f6cb32"/><stop offset="0.204" stop-color="#ffff38"/><stop offset="0.253" stop-color="#fdff38"/><stop offset="0.345" stop-color="#e0ff3b"/><stop offset="0.455" stop-color="#c4ff3c"/><stop offset="0.572" stop-color="#b2ff3c"/><stop offset="0.802" stop-color="#98ff3c"/><stop offset="0.998" stop-color="#96ff3c"/></linearGradient><linearGradient id="b218" x2="0" y2="1"><stop offset="0.002" stop-color="#eb9929"/><stop offset="0.022" stop-color="#ec9b29"/><stop offset="0.074" stop-color="#f0b12e"/><stop offset="0.139" stop-color="#f5ca32"/><stop offset="0.218" stop-color="#ffff38"/><stop offset="0.266" stop-color="#fdff38"/><stop offset="0.359" stop-color="#dfff3b"/><stop offset="0.466" stop-color="#c4ff3c"/><stop offset="0.558" stop-color="#b6ff3c"/><stop offset="0.826" stop-color="#98ff3c"/><stop offset="0.998" stop-color="#96ff3c"/></linearGradient><linearGradient id="b219" x2="0" y2="1"><stop offset="0.002" stop-color="#eb9929"/><stop offset="0.029" stop-color="#ec9a29"/><stop offset="0.084" stop-color="#f0b22e"/><stop offset="0.149" stop-color="#f6cb32"/><stop offset="0.229" stop-color="#ffff38"/><stop offset="0.273" stop-color="#feff38"/><stop offset="0.369" stop-color="#dfff3b"/><stop offset="0.476" stop-color="#c4ff3c"/><stop offset="0.569" stop-color="#b6ff3c"/><stop offset="0.840" stop-color="#98ff3c"/><stop offset="0.998" stop-color="#96ff3c"/></linearGradient><linearGradient id="b220" x2="0" y2="1"><stop offset="0.002" stop-color="#eb9929"/><stop offset="0.033" stop-color="#ec9a29"/><stop offset="0.088" stop-color="#f0b22e"/><stop offset="0.153" stop-color="#f6cb32"/><stop offset="0.232" stop-color="#ffff38"/><stop offset="0.277" stop-color="#feff38"/><stop offset="0.369" stop-color="#e0ff3b"/><stop offset="0.476" stop-color="#c4ff3c"/><stop offset="0.565" stop-color="#b6ff3c"/><stop offset="0.840" stop-color="#98ff3c"/><stop offset="0.998" stop-color="#97ff3c"/></linearGradient><linearGradient id="b221" x2="0" y2="1"><stop offset="0.002" stop-color="#eb9929"/><stop offset="0.036" stop-color="#ec9b29"/><stop offset="0.088" stop-color="#f0b22e"/><stop offset="0.153" stop-color="#f6cb32"/><stop offset="0.229" stop-color="#ffff38"/><stop offset="0.277" stop-color="#feff38"/><stop offset="0.369" stop-color="#dfff3b"/><stop offset="0.476" stop-color="#c4ff3c"/><stop offset="0.565" stop-color="#b6ff3c"/><stop offset="0.840" stop-color="#98ff3c"/><stop offset="0.998" stop-color="#97ff3c"/></linearGradient><linearGradient id="b222" x2="0" y2="1"><stop offset="0.002" stop-color="#eb9929"/><stop offset="0.033" stop-color="#ec9a29"/><stop offset="0.088" stop-color="#f0b22e"/><stop offset="0.149" stop-color="#f5cb32"/><stop offset="0.229" stop-color="#ffff38"/><stop offset="0.273" stop-color="#feff38"/><stop offset="0.366" stop-color="#dfff3b"/><stop offset="0.469" stop-color="#c4ff3c"/><stop offset="0.548" stop-color="#b8ff3c"/><stop offset="0.844" stop-color="#98ff3c"/><stop offset="0.998" stop-color="#97ff3c"/></linearGradient><linearGradient id="b223" x2="0" y2="1"><stop offset="0.002" stop-color="#eb9929"/><stop offset="0.026" stop-color="#ec9b29"/><stop offset="0.077" stop-color="#f0b12e"/><stop offset="0.143" stop-color="#f6cb32"/><stop offset="0.222" stop-color="#ffff38"/><stop offset="0.266" stop-color="#feff38"/><stop offset="0.359" stop-color="#dfff3b"/><stop offset="0.466" stop-color="#c4ff3c"/><stop offset="0.545" stop-color="#b8ff3c"/><stop offset="0.847" stop-color="#98ff3c"/><stop offset="0.998" stop-color="#97ff3c"/></linearGradient><linearGradient id="b224" x2="0" y2="1"><stop offset="0.002" stop-color="#eb9929"/><stop offset="0.019" stop-color="#ec9a29"/><stop offset="0.070" stop-color="#f0b12e"/><stop offset="0.136" stop-color="#f5cb32"/><stop offset="0.215" stop-color="#ffff38"/><stop offset="0.259" stop-color="#feff38"/><stop offset="0.352" stop-color="#dfff3b"/><stop offset="0.455" stop-color="#c4ff3c"/><stop offset="0.524" stop-color="#b9ff3c"/><stop offset="0.857" stop-color="#98ff3c"/><stop offset="0.998" stop-color="#97ff3c"/></linearGradient><linearGradient id="b225" x2="0" y2="1"><stop offset="0.002" stop-color="#eb9929"/><stop offset="0.015" stop-color="#ec9b29"/><stop offset="0.067" stop-color="#f0b22e"/><stop offset="0.129" stop-color="#f5ca32"/><stop offset="0.204" stop-color="#fffe38"/><stop offset="0.253" stop-color="#fdff38"/><stop offset="0.342" stop-color="#e0ff3b"/><stop offset="0.445" stop-color="#c4ff3c"/><stop offset="0.672" stop-color="#9aff3c"/><stop offset="0.771" stop-color="#97ff3c"/><stop offset="0.998" stop-color="#97ff3c"/></linearGradient><linearGradient id="b226" x2="0" y2="1"><stop offset="0.002" stop-color="#eb9929"/><stop offset="0.015" stop-color="#ec9d2a"/><stop offset="0.067" stop-color="#f0b42f"/><stop offset="0.125" stop-color="#f6cb32"/><stop offset="0.201" stop-color="#ffff38"/><stop offset="0.246" stop-color="#feff38"/><stop offset="0.335" stop-color="#e0ff3b"/><stop offset="0.442" stop-color="#c4ff3c"/><stop offset="0.668" stop-color="#9aff3c"/><stop offset="0.833" stop-color="#97ff3c"/><stop offset="0.998" stop-color="#97ff3c"/></linearGradient><linearGradient id="b227" x2="0" y2="1"><stop offset="0.002" stop-color="#eb9929"/><stop offset="0.070" stop-color="#f1b62f"/><stop offset="0.122" stop-color="#f6cb32"/><stop offset="0.198" stop-color="#ffff38"/><stop offset="0.242" stop-color="#feff38"/><stop offset="0.335" stop-color="#dfff3b"/><stop offset="0.438" stop-color="#c4ff3c"/><stop offset="0.665" stop-color="#9aff3c"/><stop offset="0.851" stop-color="#97ff3c"/><stop offset="0.998" stop-color="#97ff3c"/></linearGradient><linearGradient id="b228" x2="0" y2="1"><stop offset="0.002" stop-color="#ec9a29"/><stop offset="0.053" stop-color="#f0b22e"/><stop offset="0.119" stop-color="#f6cc32"/><stop offset="0.194" stop-color="#ffff38"/><stop offset="0.239" stop-color="#feff38"/><stop offset="0.328" stop-color="#e0ff3b"/><stop offset="0.435" stop-color="#c4ff3c"/><stop offset="0.662" stop-color="#99ff3c"/><stop offset="0.878" stop-color="#97ff3c"/><stop offset="0.998" stop-color="#97ff3c"/></linearGradient><linearGradient id="b229" x2="0" y2="1"><stop offset="0.002" stop-color="#ec9a29"/><stop offset="0.053" stop-color="#f0b12e"/><stop offset="0.119" stop-color="#f6cc32"/><stop offset="0.194" stop-color="#ffff38"/><stop offset="0.239" stop-color="#feff38"/><stop offset="0.328" stop-color="#e0ff3b"/><stop offset="0.431" stop-color="#c4ff3c"/><stop offset="0.658" stop-color="#9aff3c"/><stop offset="0.820" stop-color="#97ff3c"/><stop offset="0.998" stop-color="#97ff3c"/></linearGradient><linearGradient id="b230" x2="0" y2="1"><stop offset="0.002" stop-color="#ec9929"/><stop offset="0.057" stop-color="#f0b22e"/><stop offset="0.119" stop-color="#f6cb32"/><stop offset="0.194" stop-color="#ffff38"/><stop offset="0.239" stop-color="#feff38"/><stop offset="0.328" stop-color="#e0ff3b"/><stop offset="0.431" stop-color="#c4ff3c"/><stop offset="0.658" stop-color="#9aff3c"/><stop offset="0.864" stop-color="#97ff3c"/><stop offset="0.998" stop-color="#97ff3c"/></linearGradient><linearGradient id="b231" x2="0" y2="1"><stop offset="0.002" stop-color="#eb9929"/><stop offset="0.015" stop-color="#ec9d2a"/><stop offset="0.064" stop-color="#f0b32f"/><stop offset="0.122" stop-color="#f6cb32"/><stop offset="0.198" stop-color="#ffff38"/><stop offset="0.242" stop-color="#fdff38"/><stop offset="0.328" stop-color="#e0ff3b"/><stop offset="0.431" stop-color="#c4ff3c"/><stop offset="0.655" stop-color="#9aff3c"/><stop offset="0.854" stop-color="#97ff3c"/><stop offset="0.998" stop-color="#97ff3c"/></linearGradient><linearGradient id="b232" x2="0" y2="1"><stop offset="0.002" stop-color="#eb9929"/><stop offset="0.015" stop-color="#ec9a29"/><stop offset="0.067" stop-color="#f0b22e"/><stop offset="0.129" stop-color="#f6cc32"/><stop offset="0.201" stop-color="#ffff38"/><stop offset="0.246" stop-color="#feff38"/><stop offset="0.332" stop-color="#e0ff3b"/><stop offset="0.435" stop-color="#c4ff3c"/><stop offset="0.655" stop-color="#9aff3c"/><stop offset="0.782" stop-color="#97ff3c"/><stop offset="0.998" stop-color="#97ff3c"/></linearGradient><linearGradient id="b233" x2="0" y2="1"><stop offset="0.002" stop-color="#eb9929"/><stop offset="0.033" stop-color="#ec9a29"/><stop offset="0.084" stop-color="#f0b32e"/><stop offset="0.143" stop-color="#f6cb32"/><stop offset="0.215" stop-color="#ffff38"/><stop offset="0.256" stop-color="#feff38"/><stop offset="0.342" stop-color="#e0ff3b"/><stop offset="0.442" stop-color="#c4ff3c"/><stop offset="0.658" stop-color="#9aff3c"/><stop offset="0.857" stop-color="#97ff3c"/><stop offset="0.998" stop-color="#97ff3c"/></linearGradient><linearGradient id="b234" x2="0" y2="1"><stop offset="0.002" stop-color="#eb9929"/><stop offset="0.046" stop-color="#ec9a29"/><stop offset="0.095" stop-color="#f0b12e"/><stop offset="0.156" stop-color="#f6cb32"/><stop offset="0.229" stop-color="#ffff38"/><stop offset="0.270" stop-color="#feff38"/><stop offset="0.356" stop-color="#e0ff3b"/><stop offset="0.455" stop-color="#c4ff3c"/><stop offset="0.668" stop-color="#9aff3c"/><stop offset="0.837" stop-color="#97ff3c"/><stop offset="0.998" stop-color="#97ff3c"/></linearGradient><linearGradient id="b235" x2="0" y2="1"><stop offset="0.002" stop-color="#eb9929"/><stop offset="0.053" stop-color="#ec9a29"/><stop offset="0.101" stop-color="#f0b12e"/><stop offset="0.163" stop-color="#f5ca32"/><stop offset="0.235" stop-color="#ffff38"/><stop offset="0.280" stop-color="#feff38"/><stop offset="0.366" stop-color="#dfff3b"/><stop offset="0.466" stop-color="#c4ff3c"/><stop offset="0.679" stop-color="#9aff3c"/><stop offset="0.768" stop-color="#97ff3c"/><stop offset="0.998" stop-color="#97ff3c"/></linearGradient><linearGradient id="b236" x2="0" y2="1"><stop offset="0.002" stop-color="#eb9929"/><stop offset="0.060" stop-color="#eb9929"/><stop offset="0.112" stop-color="#f0b22e"/><stop offset="0.174" stop-color="#f6cc32"/><stop offset="0.246" stop-color="#ffff38"/><stop offset="0.287" stop-color="#feff38"/><stop offset="0.373" stop-color="#e0ff3b"/><stop offset="0.476" stop-color="#c4ff3c"/><stop offset="0.692" stop-color="#99ff3c"/><stop offset="0.899" stop-color="#97ff3c"/><stop offset="0.998" stop-color="#97ff3c"/></linearGradient><linearGradient id="b237" x2="0" y2="1"><stop offset="0.002" stop-color="#eb9929"/><stop offset="0.067" stop-color="#ec9a29"/><stop offset="0.119" stop-color="#f0b22e"/><stop offset="0.177" stop-color="#f5cb32"/><stop offset="0.249" stop-color="#fffe38"/><stop offset="0.294" stop-color="#feff38"/><stop offset="0.380" stop-color="#e0ff3b"/><stop offset="0.483" stop-color="#c4ff3c"/><stop offset="0.699" stop-color="#99ff3c"/><stop offset="0.912" stop-color="#97ff3c"/><stop offset="0.998" stop-color="#97ff3c"/></linearGradient><linearGradient id="b238" x2="0" y2="1"><stop offset="0.002" stop-color="#eb9929"/><stop offset="0.067" stop-color="#ec9a29"/><stop offset="0.119" stop-color="#f0b22e"/><stop offset="0.177" stop-color="#f5cb32"/><stop offset="0.249" stop-color="#fffe38"/><stop offset="0.294" stop-color="#feff38"/><stop offset="0.380" stop-color="#e0ff3b"/><stop offset="0.483" stop-color="#c4ff3c"/><stop offset="0.699" stop-color="#99ff3c"/><stop offset="0.912" stop-color="#97ff3c"/><stop offset="0.998" stop-color="#97ff3c"/></linearGradient><linearGradient id="b239" x2="0" y2="1"><stop offset="0.002" stop-color="#eb9929"/><stop offset="0.067" stop-color="#ec9a29"/><stop offset="0.119" stop-color="#f0b22e"/><stop offset="0.177" stop-color="#f5cb32"/><stop offset="0.249" stop-color="#fffe38"/><stop offset="0.294" stop-color="#feff38"/><stop offset="0.380" stop-color="#e0ff3b"/><stop offset="0.483" stop-color="#c4ff3c"/><stop offset="0.699" stop-color="#99ff3c"/><stop offset="0.912" stop-color="#97ff3c"/><stop offset="0.998" stop-color="#97ff3c"/></linearGradient></defs>
<clipPath id="clipb"><rect x="142.5" y="599.5" width="872.0" height="290.0"/></clipPath>
<filter id="hb" x="-2%" y="-2%" width="104%" height="104%"><feGaussianBlur stdDeviation="1.6 0"/></filter>
<g clip-path="url(#clipb)"><g filter="url(#hb)"><rect x="136" y="599" width="3.3" height="291" fill="url(#b0)"/><rect x="139" y="599" width="3.3" height="291" fill="url(#b1)"/><rect x="142" y="599" width="3.3" height="291" fill="url(#b2)"/><rect x="145" y="599" width="3.3" height="291" fill="url(#b3)"/><rect x="148" y="599" width="3.3" height="291" fill="url(#b4)"/><rect x="151" y="599" width="3.3" height="291" fill="url(#b5)"/><rect x="154" y="599" width="3.3" height="291" fill="url(#b6)"/><rect x="157" y="599" width="3.3" height="291" fill="url(#b7)"/><rect x="160" y="599" width="3.3" height="291" fill="url(#b8)"/><rect x="163" y="599" width="3.3" height="291" fill="url(#b9)"/><rect x="166" y="599" width="3.3" height="291" fill="url(#b10)"/><rect x="169" y="599" width="3.3" height="291" fill="url(#b11)"/><rect x="172" y="599" width="3.3" height="291" fill="url(#b12)"/><rect x="175" y="599" width="3.3" height="291" fill="url(#b13)"/><rect x="178" y="599" width="3.3" height="291" fill="url(#b14)"/><rect x="181" y="599" width="3.3" height="291" fill="url(#b15)"/><rect x="184" y="599" width="3.3" height="291" fill="url(#b16)"/><rect x="187" y="599" width="3.3" height="291" fill="url(#b17)"/><rect x="190" y="599" width="3.3" height="291" fill="url(#b18)"/><rect x="193" y="599" width="3.3" height="291" fill="url(#b19)"/><rect x="196" y="599" width="3.3" height="291" fill="url(#b20)"/><rect x="199" y="599" width="3.3" height="291" fill="url(#b21)"/><rect x="202" y="599" width="3.3" height="291" fill="url(#b22)"/><rect x="205" y="599" width="3.3" height="291" fill="url(#b23)"/><rect x="208" y="599" width="3.3" height="291" fill="url(#b24)"/><rect x="211" y="599" width="3.3" height="291" fill="url(#b25)"/><rect x="214" y="599" width="3.3" height="291" fill="url(#b26)"/><rect x="217" y="599" width="3.3" height="291" fill="url(#b27)"/><rect x="220" y="599" width="3.3" height="291" fill="url(#b28)"/><rect x="223" y="599" width="3.3" height="291" fill="url(#b29)"/><rect x="226" y="599" width="3.3" height="291" fill="url(#b30)"/><rect x="229" y="599" width="3.3" height="291" fill="url(#b31)"/><rect x="232" y="599" width="3.3" height="291" fill="url(#b32)"/><rect x="235" y="599" width="3.3" height="291" fill="url(#b33)"/><rect x="238" y="599" width="3.3" height="291" fill="url(#b34)"/><rect x="241" y="599" width="3.3" height="291" fill="url(#b35)"/><rect x="244" y="599" width="3.3" height="291" fill="url(#b36)"/><rect x="247" y="599" width="3.3" height="291" fill="url(#b37)"/><rect x="250" y="599" width="3.3" height="291" fill="url(#b38)"/><rect x="253" y="599" width="3.3" height="291" fill="url(#b39)"/><rect x="256" y="599" width="3.3" height="291" fill="url(#b40)"/><rect x="259" y="599" width="3.3" height="291" fill="url(#b41)"/><rect x="262" y="599" width="3.3" height="291" fill="url(#b42)"/><rect x="265" y="599" width="3.3" height="291" fill="url(#b43)"/><rect x="268" y="599" width="3.3" height="291" fill="url(#b44)"/><rect x="271" y="599" width="3.3" height="291" fill="url(#b45)"/><rect x="274" y="599" width="3.3" height="291" fill="url(#b46)"/><rect x="277" y="599" width="3.3" height="291" fill="url(#b47)"/><rect x="280" y="599" width="3.3" height="291" fill="url(#b48)"/><rect x="283" y="599" width="3.3" height="291" fill="url(#b49)"/><rect x="286" y="599" width="3.3" height="291" fill="url(#b50)"/><rect x="289" y="599" width="3.3" height="291" fill="url(#b51)"/><rect x="292" y="599" width="3.3" height="291" fill="url(#b52)"/><rect x="295" y="599" width="3.3" height="291" fill="url(#b53)"/><rect x="298" y="599" width="3.3" height="291" fill="url(#b54)"/><rect x="301" y="599" width="3.3" height="291" fill="url(#b55)"/><rect x="304" y="599" width="3.3" height="291" fill="url(#b56)"/><rect x="307" y="599" width="3.3" height="291" fill="url(#b57)"/><rect x="310" y="599" width="3.3" height="291" fill="url(#b58)"/><rect x="313" y="599" width="3.3" height="291" fill="url(#b59)"/><rect x="316" y="599" width="3.3" height="291" fill="url(#b60)"/><rect x="319" y="599" width="3.3" height="291" fill="url(#b61)"/><rect x="322" y="599" width="3.3" height="291" fill="url(#b62)"/><rect x="325" y="599" width="3.3" height="291" fill="url(#b63)"/><rect x="328" y="599" width="3.3" height="291" fill="url(#b64)"/><rect x="331" y="599" width="3.3" height="291" fill="url(#b65)"/><rect x="334" y="599" width="3.3" height="291" fill="url(#b66)"/><rect x="337" y="599" width="3.3" height="291" fill="url(#b67)"/><rect x="340" y="599" width="3.3" height="291" fill="url(#b68)"/><rect x="343" y="599" width="3.3" height="291" fill="url(#b69)"/><rect x="346" y="599" width="3.3" height="291" fill="url(#b70)"/><rect x="349" y="599" width="3.3" height="291" fill="url(#b71)"/><rect x="352" y="599" width="3.3" height="291" fill="url(#b72)"/><rect x="355" y="599" width="3.3" height="291" fill="url(#b73)"/><rect x="358" y="599" width="3.3" height="291" fill="url(#b74)"/><rect x="361" y="599" width="3.3" height="291" fill="url(#b75)"/><rect x="364" y="599" width="3.3" height="291" fill="url(#b76)"/><rect x="367" y="599" width="3.3" height="291" fill="url(#b77)"/><rect x="370" y="599" width="3.3" height="291" fill="url(#b78)"/><rect x="373" y="599" width="3.3" height="291" fill="url(#b79)"/><rect x="376" y="599" width="3.3" height="291" fill="url(#b80)"/><rect x="379" y="599" width="3.3" height="291" fill="url(#b81)"/><rect x="382" y="599" width="3.3" height="291" fill="url(#b82)"/><rect x="385" y="599" width="3.3" height="291" fill="url(#b83)"/><rect x="388" y="599" width="3.3" height="291" fill="url(#b84)"/><rect x="391" y="599" width="3.3" height="291" fill="url(#b85)"/><rect x="394" y="599" width="3.3" height="291" fill="url(#b86)"/><rect x="397" y="599" width="3.3" height="291" fill="url(#b87)"/><rect x="400" y="599" width="3.3" height="291" fill="url(#b88)"/><rect x="403" y="599" width="3.3" height="291" fill="url(#b89)"/><rect x="406" y="599" width="3.3" height="291" fill="url(#b90)"/><rect x="409" y="599" width="3.3" height="291" fill="url(#b91)"/><rect x="412" y="599" width="3.3" height="291" fill="url(#b92)"/><rect x="415" y="599" width="3.3" height="291" fill="url(#b93)"/><rect x="418" y="599" width="3.3" height="291" fill="url(#b94)"/><rect x="421" y="599" width="3.3" height="291" fill="url(#b95)"/><rect x="424" y="599" width="3.3" height="291" fill="url(#b96)"/><rect x="427" y="599" width="3.3" height="291" fill="url(#b97)"/><rect x="430" y="599" width="3.3" height="291" fill="url(#b98)"/><rect x="433" y="599" width="3.3" height="291" fill="url(#b99)"/><rect x="436" y="599" width="3.3" height="291" fill="url(#b100)"/><rect x="439" y="599" width="3.3" height="291" fill="url(#b101)"/><rect x="442" y="599" width="3.3" height="291" fill="url(#b102)"/><rect x="445" y="599" width="3.3" height="291" fill="url(#b103)"/><rect x="448" y="599" width="3.3" height="291" fill="url(#b104)"/><rect x="451" y="599" width="3.3" height="291" fill="url(#b105)"/><rect x="454" y="599" width="3.3" height="291" fill="url(#b106)"/><rect x="457" y="599" width="3.3" height="291" fill="url(#b107)"/><rect x="460" y="599" width="3.3" height="291" fill="url(#b108)"/><rect x="463" y="599" width="3.3" height="291" fill="url(#b109)"/><rect x="466" y="599" width="3.3" height="291" fill="url(#b110)"/><rect x="469" y="599" width="3.3" height="291" fill="url(#b111)"/><rect x="472" y="599" width="3.3" height="291" fill="url(#b112)"/><rect x="475" y="599" width="3.3" height="291" fill="url(#b113)"/><rect x="478" y="599" width="3.3" height="291" fill="url(#b114)"/><rect x="481" y="599" width="3.3" height="291" fill="url(#b115)"/><rect x="484" y="599" width="3.3" height="291" fill="url(#b116)"/><rect x="487" y="599" width="3.3" height="291" fill="url(#b117)"/><rect x="490" y="599" width="3.3" height="291" fill="url(#b118)"/><rect x="660" y="599" width="3.3" height="291" fill="url(#b119)"/><rect x="663" y="599" width="3.3" height="291" fill="url(#b120)"/><rect x="666" y="599" width="3.3" height="291" fill="url(#b121)"/><rect x="669" y="599" width="3.3" height="291" fill="url(#b122)"/><rect x="672" y="599" width="3.3" height="291" fill="url(#b123)"/><rect x="675" y="599" width="3.3" height="291" fill="url(#b124)"/><rect x="678" y="599" width="3.3" height="291" fill="url(#b125)"/><rect x="681" y="599" width="3.3" height="291" fill="url(#b126)"/><rect x="684" y="599" width="3.3" height="291" fill="url(#b127)"/><rect x="687" y="599" width="3.3" height="291" fill="url(#b128)"/><rect x="690" y="599" width="3.3" height="291" fill="url(#b129)"/><rect x="693" y="599" width="3.3" height="291" fill="url(#b130)"/><rect x="696" y="599" width="3.3" height="291" fill="url(#b131)"/><rect x="699" y="599" width="3.3" height="291" fill="url(#b132)"/><rect x="702" y="599" width="3.3" height="291" fill="url(#b133)"/><rect x="705" y="599" width="3.3" height="291" fill="url(#b134)"/><rect x="708" y="599" width="3.3" height="291" fill="url(#b135)"/><rect x="711" y="599" width="3.3" height="291" fill="url(#b136)"/><rect x="714" y="599" width="3.3" height="291" fill="url(#b137)"/><rect x="717" y="599" width="3.3" height="291" fill="url(#b138)"/><rect x="720" y="599" width="3.3" height="291" fill="url(#b139)"/><rect x="723" y="599" width="3.3" height="291" fill="url(#b140)"/><rect x="726" y="599" width="3.3" height="291" fill="url(#b141)"/><rect x="729" y="599" width="3.3" height="291" fill="url(#b142)"/><rect x="732" y="599" width="3.3" height="291" fill="url(#b143)"/><rect x="735" y="599" width="3.3" height="291" fill="url(#b144)"/><rect x="738" y="599" width="3.3" height="291" fill="url(#b145)"/><rect x="741" y="599" width="3.3" height="291" fill="url(#b146)"/><rect x="744" y="599" width="3.3" height="291" fill="url(#b147)"/><rect x="747" y="599" width="3.3" height="291" fill="url(#b148)"/><rect x="750" y="599" width="3.3" height="291" fill="url(#b149)"/><rect x="753" y="599" width="3.3" height="291" fill="url(#b150)"/><rect x="756" y="599" width="3.3" height="291" fill="url(#b151)"/><rect x="759" y="599" width="3.3" height="291" fill="url(#b152)"/><rect x="762" y="599" width="3.3" height="291" fill="url(#b153)"/><rect x="765" y="599" width="3.3" height="291" fill="url(#b154)"/><rect x="768" y="599" width="3.3" height="291" fill="url(#b155)"/><rect x="771" y="599" width="3.3" height="291" fill="url(#b156)"/><rect x="774" y="599" width="3.3" height="291" fill="url(#b157)"/><rect x="777" y="599" width="3.3" height="291" fill="url(#b158)"/><rect x="780" y="599" width="3.3" height="291" fill="url(#b159)"/><rect x="783" y="599" width="3.3" height="291" fill="url(#b160)"/><rect x="786" y="599" width="3.3" height="291" fill="url(#b161)"/><rect x="789" y="599" width="3.3" height="291" fill="url(#b162)"/><rect x="792" y="599" width="3.3" height="291" fill="url(#b163)"/><rect x="795" y="599" width="3.3" height="291" fill="url(#b164)"/><rect x="798" y="599" width="3.3" height="291" fill="url(#b165)"/><rect x="801" y="599" width="3.3" height="291" fill="url(#b166)"/><rect x="804" y="599" width="3.3" height="291" fill="url(#b167)"/><rect x="807" y="599" width="3.3" height="291" fill="url(#b168)"/><rect x="810" y="599" width="3.3" height="291" fill="url(#b169)"/><rect x="813" y="599" width="3.3" height="291" fill="url(#b170)"/><rect x="816" y="599" width="3.3" height="291" fill="url(#b171)"/><rect x="819" y="599" width="3.3" height="291" fill="url(#b172)"/><rect x="822" y="599" width="3.3" height="291" fill="url(#b173)"/><rect x="825" y="599" width="3.3" height="291" fill="url(#b174)"/><rect x="828" y="599" width="3.3" height="291" fill="url(#b175)"/><rect x="831" y="599" width="3.3" height="291" fill="url(#b176)"/><rect x="834" y="599" width="3.3" height="291" fill="url(#b177)"/><rect x="837" y="599" width="3.3" height="291" fill="url(#b178)"/><rect x="840" y="599" width="3.3" height="291" fill="url(#b179)"/><rect x="843" y="599" width="3.3" height="291" fill="url(#b180)"/><rect x="846" y="599" width="3.3" height="291" fill="url(#b181)"/><rect x="849" y="599" width="3.3" height="291" fill="url(#b182)"/><rect x="852" y="599" width="3.3" height="291" fill="url(#b183)"/><rect x="855" y="599" width="3.3" height="291" fill="url(#b184)"/><rect x="858" y="599" width="3.3" height="291" fill="url(#b185)"/><rect x="861" y="599" width="3.3" height="291" fill="url(#b186)"/><rect x="864" y="599" width="3.3" height="291" fill="url(#b187)"/><rect x="867" y="599" width="3.3" height="291" fill="url(#b188)"/><rect x="870" y="599" width="3.3" height="291" fill="url(#b189)"/><rect x="873" y="599" width="3.3" height="291" fill="url(#b190)"/><rect x="876" y="599" width="3.3" height="291" fill="url(#b191)"/><rect x="879" y="599" width="3.3" height="291" fill="url(#b192)"/><rect x="882" y="599" width="3.3" height="291" fill="url(#b193)"/><rect x="885" y="599" width="3.3" height="291" fill="url(#b194)"/><rect x="888" y="599" width="3.3" height="291" fill="url(#b195)"/><rect x="891" y="599" width="3.3" height="291" fill="url(#b196)"/><rect x="894" y="599" width="3.3" height="291" fill="url(#b197)"/><rect x="897" y="599" width="3.3" height="291" fill="url(#b198)"/><rect x="900" y="599" width="3.3" height="291" fill="url(#b199)"/><rect x="903" y="599" width="3.3" height="291" fill="url(#b200)"/><rect x="906" y="599" width="3.3" height="291" fill="url(#b201)"/><rect x="909" y="599" width="3.3" height="291" fill="url(#b202)"/><rect x="912" y="599" width="3.3" height="291" fill="url(#b203)"/><rect x="915" y="599" width="3.3" height="291" fill="url(#b204)"/><rect x="918" y="599" width="3.3" height="291" fill="url(#b205)"/><rect x="921" y="599" width="3.3" height="291" fill="url(#b206)"/><rect x="924" y="599" width="3.3" height="291" fill="url(#b207)"/><rect x="927" y="599" width="3.3" height="291" fill="url(#b208)"/><rect x="930" y="599" width="3.3" height="291" fill="url(#b209)"/><rect x="933" y="599" width="3.3" height="291" fill="url(#b210)"/><rect x="936" y="599" width="3.3" height="291" fill="url(#b211)"/><rect x="939" y="599" width="3.3" height="291" fill="url(#b212)"/><rect x="942" y="599" width="3.3" height="291" fill="url(#b213)"/><rect x="945" y="599" width="3.3" height="291" fill="url(#b214)"/><rect x="948" y="599" width="3.3" height="291" fill="url(#b215)"/><rect x="951" y="599" width="3.3" height="291" fill="url(#b216)"/><rect x="954" y="599" width="3.3" height="291" fill="url(#b217)"/><rect x="957" y="599" width="3.3" height="291" fill="url(#b218)"/><rect x="960" y="599" width="3.3" height="291" fill="url(#b219)"/><rect x="963" y="599" width="3.3" height="291" fill="url(#b220)"/><rect x="966" y="599" width="3.3" height="291" fill="url(#b221)"/><rect x="969" y="599" width="3.3" height="291" fill="url(#b222)"/><rect x="972" y="599" width="3.3" height="291" fill="url(#b223)"/><rect x="975" y="599" width="3.3" height="291" fill="url(#b224)"/><rect x="978" y="599" width="3.3" height="291" fill="url(#b225)"/><rect x="981" y="599" width="3.3" height="291" fill="url(#b226)"/><rect x="984" y="599" width="3.3" height="291" fill="url(#b227)"/><rect x="987" y="599" width="3.3" height="291" fill="url(#b228)"/><rect x="990" y="599" width="3.3" height="291" fill="url(#b229)"/><rect x="993" y="599" width="3.3" height="291" fill="url(#b230)"/><rect x="996" y="599" width="3.3" height="291" fill="url(#b231)"/><rect x="999" y="599" width="3.3" height="291" fill="url(#b232)"/><rect x="1002" y="599" width="3.3" height="291" fill="url(#b233)"/><rect x="1005" y="599" width="3.3" height="291" fill="url(#b234)"/><rect x="1008" y="599" width="3.3" height="291" fill="url(#b235)"/><rect x="1011" y="599" width="3.3" height="291" fill="url(#b236)"/><rect x="1014" y="599" width="3.3" height="291" fill="url(#b237)"/><rect x="1017" y="599" width="3.3" height="291" fill="url(#b238)"/><rect x="1020" y="599" width="1.3" height="291" fill="url(#b239)"/></g></g>
<rect x="490.5" y="599.5" width="172" height="290.0" fill="#3f004e"/>
<rect x="488.7" y="599.5" width="4.2" height="290.0" fill="#0a0008"/>
<rect x="660.3" y="599.5" width="3.9" height="290.0" fill="#0a0008"/>
<g clip-path="url(#clipb)">
<path d="M142.6 869.1C144.52 869.68 150.12 871.13 154.1 872.6C158.08 874.07 162.38 875.83 166.5 877.9C170.62 879.97 175.57 883.02 178.8 885C182.03 886.98 184.72 889 185.9 889.8" fill="none" stroke="#111" stroke-width="1.9" stroke-linejoin="round" stroke-linecap="round" />
<path d="M142.6 819.6C144.52 820.2 149.83 821.72 154.1 823.2C158.37 824.68 163.78 826.73 168.2 828.5C172.62 830.27 176.77 831.45 180.6 833.8C184.43 836.15 188.27 839.67 191.2 842.6C194.13 845.53 195.85 848.17 198.2 851.4C200.55 854.63 203.23 858.47 205.3 862C207.37 865.53 208.83 867.97 210.6 872.6C212.37 877.23 215.02 886.93 215.9 889.8" fill="none" stroke="#111" stroke-width="1.9" stroke-linejoin="round" stroke-linecap="round" />
<path d="M142.6 767.6C143.93 768.18 147.5 768.9 150.6 771.1C153.7 773.3 157.08 777.12 161.2 780.8C165.32 784.48 170.6 789.37 175.3 793.2C180 797.03 185.58 800.57 189.4 803.8C193.22 807.03 195.25 809.37 198.2 812.6C201.15 815.83 204.15 819.08 207.1 823.2C210.05 827.32 213.27 832.6 215.9 837.3C218.53 842 220.85 846.7 222.9 851.4C224.95 856.1 226.72 861.08 228.2 865.5C229.68 869.92 230.62 873.85 231.8 877.9C232.98 881.95 234.72 887.82 235.3 889.8" fill="none" stroke="#111" stroke-width="1.9" stroke-linejoin="round" stroke-linecap="round" />
<path d="M251.2 889.8C251.93 882.52 253.55 852.5 255.6 846.1C257.65 839.7 260.42 848.45 263.5 851.4C266.58 854.35 270.87 859.38 274.1 863.8C277.33 868.22 280.55 873.57 282.9 877.9C285.25 882.23 287.32 887.82 288.2 889.8" fill="none" stroke="#111" stroke-width="1.9" stroke-linejoin="round" stroke-linecap="round" />
<path d="M142.6 707.4C143.93 707.98 148.1 709.13 150.6 710.9C153.1 712.67 155.25 715.05 157.6 718C159.95 720.95 162.33 725.07 164.7 728.6C167.07 732.13 169.75 736.22 171.8 739.2C173.85 742.18 175.23 744.57 177 746.5C178.77 748.43 180.03 748.32 182.4 750.8C184.77 753.28 188.27 757.28 191.2 761.4C194.13 765.52 196.77 770.8 200 775.5C203.23 780.2 207.37 784.88 210.6 789.6C213.83 794.32 216.47 799.08 219.4 803.8C222.33 808.52 225.55 813.5 228.2 817.9C230.85 822.3 233.23 826.82 235.3 830.2C237.37 833.58 238.55 837.9 240.6 838.2C242.65 838.5 245.55 834.5 247.6 832C249.65 829.5 251.57 827.02 252.9 823.2C254.23 819.38 253.83 810.28 255.6 809.1C257.37 807.92 260.42 813.17 263.5 816.1C266.58 819.03 271.15 823.17 274.1 826.7C277.05 830.23 278.55 833.18 281.2 837.3C283.85 841.42 287.07 846.7 290 851.4C292.93 856.1 296.15 861.38 298.8 865.5C301.45 869.62 302.95 873.15 305.9 876.1C308.85 879.05 313.52 881.28 316.5 883.2C319.48 885.12 321.12 887.45 323.8 887.6C326.48 887.75 329.65 885.13 332.6 884.1C335.55 883.07 339.13 882.73 341.5 881.4C343.87 880.07 344.75 877.57 346.8 876.1C348.85 874.63 351.17 873.53 353.8 872.6C356.43 871.67 359.65 870.8 362.6 870.5C365.55 870.2 369.13 870.52 371.5 870.8C373.87 871.08 375.03 871.75 376.8 872.2C378.57 872.65 379.17 873.38 382.1 873.5C385.03 873.62 390.28 872.82 394.4 872.9C398.52 872.98 402.98 873.82 406.8 874C410.62 874.18 414.67 873.35 417.3 874C419.93 874.65 420.83 876.52 422.6 877.9C424.37 879.28 426.28 881.18 427.9 882.3C429.52 883.42 430.53 884.45 432.3 884.6C434.07 884.75 436.28 883.73 438.5 883.2C440.72 882.67 443.98 882.73 445.6 881.4C447.22 880.07 446.73 875.93 448.2 875.2C449.67 874.47 452.48 876.27 454.4 877C456.32 877.73 458.23 880.63 459.7 879.6C461.17 878.57 461.73 871.82 463.2 870.8C464.67 869.78 466.43 871.58 468.5 873.5C470.57 875.42 473.53 881.73 475.6 882.3C477.67 882.87 479.28 878.37 480.9 876.9C482.52 875.43 483.83 874.8 485.3 873.5C486.77 872.2 488.97 869.83 489.7 869.1" fill="none" stroke="#111" stroke-width="1.9" stroke-linejoin="round" stroke-linecap="round" />
<path d="M142.6 653.6C143.63 654.18 146.58 655.18 148.8 657.1C151.02 659.02 153.55 662.02 155.9 665.1C158.25 668.18 160.25 671.78 162.9 675.6C165.55 679.42 168.85 683.58 171.8 688C174.75 692.42 177.67 697.1 180.6 702.1C183.53 707.1 186.47 712.7 189.4 718C192.33 723.3 195.7 729.82 198.2 733.9C200.7 737.98 201.75 739.38 204.4 742.5C207.05 745.62 210.72 748.87 214.1 752.6C217.48 756.33 221.17 760.78 224.7 764.9C228.23 769.02 232.8 774.05 235.3 777.3C237.8 780.55 237.93 783.67 239.7 784.4C241.47 785.13 243.83 782.58 245.9 781.7C247.97 780.82 250.48 781.3 252.1 779.1C253.72 776.9 253.7 768.8 255.6 768.5C257.5 768.2 260.42 773.78 263.5 777.3C266.58 780.82 270.57 785.18 274.1 789.6C277.63 794.02 281.47 798.8 284.7 803.8C287.93 808.8 290.57 814.32 293.5 819.6C296.43 824.88 299.65 831.38 302.3 835.5C304.95 839.62 306.45 841.95 309.4 844.3C312.35 846.65 317.6 848.42 320 849.6C322.4 850.78 321.7 851.98 323.8 851.4C325.9 850.82 329.65 848.02 332.6 846.1C335.55 844.18 339.13 842.25 341.5 839.9C343.87 837.55 344.75 834.5 346.8 832C348.85 829.5 351.17 826.82 353.8 824.9C356.43 822.98 359.65 820.93 362.6 820.5C365.55 820.07 368.55 821.57 371.5 822.3C374.45 823.03 377.37 824.32 380.3 824.9C383.23 825.48 385.87 825.35 389.1 825.8C392.33 826.25 396.75 827.15 399.7 827.6C402.65 828.05 403.87 828.8 406.8 828.5C409.73 828.2 414.67 825.8 417.3 825.8C419.93 825.8 420.83 827.77 422.6 828.5C424.37 829.23 426.28 830.2 427.9 830.2C429.52 830.2 430.53 830.55 432.3 828.5C434.07 826.45 436.28 822.02 438.5 817.9C440.72 813.78 443.83 807.03 445.6 803.8C447.37 800.57 447.33 799.68 449.1 798.5C450.87 797.32 453.85 798.03 456.2 796.7C458.55 795.37 460.85 790.93 463.2 790.5C465.55 790.07 468.08 792.62 470.3 794.1C472.52 795.58 474.45 799.55 476.5 799.4C478.55 799.25 480.85 794.38 482.6 793.2C484.35 792.02 485.82 793.18 487 792.3C488.18 791.42 489.25 788.63 489.7 787.9" fill="none" stroke="#111" stroke-width="1.9" stroke-linejoin="round" stroke-linecap="round" />
<path d="M161.2 599.8C161.78 601.85 163.23 607.1 164.7 612.1C166.17 617.1 167.93 623.92 170 629.8C172.07 635.68 174.45 641.52 177.1 647.4C179.75 653.28 182.67 659.22 185.9 665.1C189.13 670.98 192.68 677.12 196.5 682.7C200.32 688.28 204.68 693.9 208.8 698.6C212.92 703.3 217.37 707.08 221.2 710.9C225.03 714.72 228.72 718.27 231.8 721.5C234.88 724.73 237.35 729.27 239.7 730.3C242.05 731.33 243.83 728.42 245.9 727.7C247.97 726.98 250.33 727.62 252.1 726C253.87 724.38 254.6 718.15 256.5 718C258.4 717.85 260.57 721.87 263.5 725.1C266.43 728.33 271.68 734.42 274.1 737.4C276.52 740.38 276.23 740.17 278 743C279.77 745.83 282.12 750.15 284.7 754.4C287.28 758.65 290.85 764.1 293.5 768.5C296.15 772.9 298.53 778.02 300.6 780.8C302.67 783.58 303.5 783.28 305.9 785.2C308.3 787.12 312.6 790.53 315 792.3C317.4 794.07 318.53 795 320.3 795.8C322.07 796.6 323.55 797.38 325.6 797.1C327.65 796.82 329.67 795.48 332.6 794.1C335.53 792.72 340.83 790.87 343.2 788.8C345.57 786.73 345.03 784.5 346.8 781.7C348.57 778.9 351.17 775.23 353.8 772C356.43 768.77 359.65 764.95 362.6 762.3C365.55 759.65 369.13 757.37 371.5 756.1C373.87 754.83 375.33 754.85 376.8 754.7C378.27 754.55 378.83 755.62 380.3 755.2C381.77 754.78 383.55 752.98 385.6 752.2C387.65 751.42 390.25 750.58 392.6 750.5C394.95 750.42 397.33 751.05 399.7 751.7C402.07 752.35 404.73 754.02 406.8 754.4C408.87 754.78 410.35 753.87 412.1 754C413.85 754.13 415.55 754.27 417.3 755.2C419.05 756.13 420.83 758.42 422.6 759.6C424.37 760.78 426.13 762.3 427.9 762.3C429.67 762.3 431.43 761.52 433.2 759.6C434.97 757.68 437.12 753.4 438.5 750.8C439.88 748.2 440.62 746.23 441.5 744C442.38 741.77 442.53 740.27 443.8 737.4C445.07 734.53 447.03 729.3 449.1 726.8C451.17 724.3 453.7 723.72 456.2 722.4C458.7 721.08 461.75 718.9 464.1 718.9C466.45 718.9 468.23 720.78 470.3 722.4C472.37 724.02 474.88 728.75 476.5 728.6C478.12 728.45 478.68 722.97 480 721.5C481.32 720.03 482.93 720.38 484.4 719.8C485.87 719.22 488.07 718.3 488.8 718" fill="none" stroke="#111" stroke-width="1.9" stroke-linejoin="round" stroke-linecap="round" />
<path d="M182.4 599.8C182.98 602.15 184.15 608.62 185.9 613.9C187.65 619.18 190.25 626.22 192.9 631.5C195.55 636.78 198.27 641.18 201.8 645.6C205.33 650.02 209.7 654.62 214.1 658C218.5 661.38 223.93 663.7 228.2 665.9C232.47 668.1 236.75 671.2 239.7 671.2C242.65 671.2 243.83 667.07 245.9 665.9C247.97 664.73 250.33 665.22 252.1 664.2C253.87 663.18 254.6 659.37 256.5 659.8C258.4 660.23 259.98 663.28 263.5 666.8C267.02 670.32 272.88 675.9 277.6 680.9C282.32 685.9 287.38 691.2 291.8 696.8C296.22 702.4 300.87 710.97 304.1 714.5C307.33 718.03 308.55 716.53 311.2 718C313.85 719.47 318.18 721.98 320 723.3C321.82 724.62 320.58 725.08 322.1 725.9C323.62 726.72 326.75 727.75 329.1 728.2C331.45 728.65 333.98 728.83 336.2 728.6C338.42 728.37 340.63 728.27 342.4 726.8C344.17 725.33 344.6 723.03 346.8 719.8C349 716.57 352.67 711.08 355.6 707.4C358.53 703.72 361.47 700.05 364.4 697.7C367.33 695.35 370.85 694.18 373.2 693.3C375.55 692.42 376.43 693.13 378.5 692.4C380.57 691.67 382.95 689.83 385.6 688.9C388.25 687.97 391.47 687.1 394.4 686.8C397.33 686.5 400.55 687.05 403.2 687.1C405.85 687.15 407.95 686.95 410.3 687.1C412.65 687.25 415.25 687.27 417.3 688C419.35 688.73 420.83 690.62 422.6 691.5C424.37 692.38 426.13 693.45 427.9 693.3C429.67 693.15 431.43 692.37 433.2 690.6C434.97 688.83 436.43 685.78 438.5 682.7C440.57 679.62 443.83 675.03 445.6 672.1C447.37 669.17 447.33 666.8 449.1 665.1C450.87 663.4 453.85 662.73 456.2 661.9C458.55 661.07 460.85 659.57 463.2 660.1C465.55 660.63 468.08 662.95 470.3 665.1C472.52 667.25 474.88 672.72 476.5 673C478.12 673.28 478.68 668.12 480 666.8C481.32 665.48 482.93 665.38 484.4 665.1C485.87 664.82 488.07 665.1 488.8 665.1" fill="none" stroke="#111" stroke-width="1.9" stroke-linejoin="round" stroke-linecap="round" />
<path d="M260.9 599.8C263.1 602.43 269.55 610.32 274.1 615.6C278.65 620.88 284.38 627.08 288.2 631.5C292.02 635.92 294.35 639 297 642.1C299.65 645.2 301.73 648.33 304.1 650.1C306.47 651.87 308.5 651.38 311.2 652.7C313.9 654.02 317.6 656.82 320.3 658C323 659.18 324.75 659.65 327.4 659.8C330.05 659.95 333.7 659.35 336.2 658.9C338.7 658.45 340.78 658.43 342.4 657.1C344.02 655.77 344.28 653.4 345.9 650.9C347.52 648.4 349.6 644.88 352.1 642.1C354.6 639.32 357.67 636.25 360.9 634.2C364.13 632.15 368.57 630.4 371.5 629.8C374.43 629.2 376.15 630.9 378.5 630.6C380.85 630.3 382.95 628.63 385.6 628C388.25 627.37 391.47 626.65 394.4 626.8C397.33 626.95 400.55 628.4 403.2 628.9C405.85 629.4 407.95 629.65 410.3 629.8C412.65 629.95 415.25 629.37 417.3 629.8C419.35 630.23 420.83 631.52 422.6 632.4C424.37 633.28 426.13 634.95 427.9 635.1C429.67 635.25 431.13 635.07 433.2 633.3C435.27 631.53 437.95 627.58 440.3 624.5C442.65 621.42 444.95 616.87 447.3 614.8C449.65 612.73 451.75 612.78 454.4 612.1C457.05 611.42 460.55 610.25 463.2 610.7C465.85 611.15 468.08 612.85 470.3 614.8C472.52 616.75 474.73 621.82 476.5 622.4C478.27 622.98 479.58 618.98 480.9 618.3C482.22 617.62 483.08 618 484.4 618.3C485.72 618.6 488.07 619.8 488.8 620.1" fill="none" stroke="#111" stroke-width="1.9" stroke-linejoin="round" stroke-linecap="round" />
<path d="M206.2 599.8C206.93 600.23 208.7 601.88 210.6 602.4C212.5 602.92 214.95 603.2 217.6 602.9C220.25 602.6 224.43 601.12 226.5 600.6C228.57 600.08 229.42 599.93 230 599.8" fill="none" stroke="#111" stroke-width="1.9" stroke-linejoin="round" stroke-linecap="round" />
<path d="M777.3 599.8C778.92 600.38 783.62 600.95 787 603.3C790.38 605.65 794.07 610.37 797.6 613.9C801.13 617.43 804.67 621.12 808.2 624.5C811.73 627.88 815.27 631.55 818.8 634.2C822.33 636.85 826.7 639.23 829.4 640.4C832.1 641.57 832.88 640.62 835 641.2C837.12 641.78 839.45 643.3 842.1 643.9C844.75 644.5 847.97 644.65 850.9 644.8C853.83 644.95 856.47 644.22 859.7 644.8C862.93 645.38 867.07 647.28 870.3 648.3C873.53 649.32 875.87 649.82 879.1 650.9C882.33 651.98 886.47 653.97 889.7 654.8C892.93 655.63 895.27 655.22 898.5 655.9C901.73 656.58 905.87 657.97 909.1 658.9C912.33 659.83 914.95 660.53 917.9 661.5C920.85 662.47 924.15 664.7 926.8 664.7C929.45 664.7 931.45 662.47 933.8 661.5C936.15 660.53 939.13 659.78 940.9 658.9C942.67 658.02 942.93 656.78 944.4 656.2C945.87 655.62 947.93 655.1 949.7 655.4C951.47 655.7 953.23 656.38 955 658C956.77 659.62 958.53 663.68 960.3 665.1C962.07 666.52 963.83 666.5 965.6 666.5C967.37 666.5 968.55 666.37 970.9 665.1C973.25 663.83 976.77 660.52 979.7 658.9C982.63 657.28 985.85 655.98 988.5 655.4C991.15 654.82 993.53 654.97 995.6 655.4C997.67 655.83 999.13 656.38 1000.9 658C1002.67 659.62 1003.93 662.75 1006.2 665.1C1008.47 667.45 1013.12 670.93 1014.5 672.1" fill="none" stroke="#111" stroke-width="1.9" stroke-linejoin="round" stroke-linecap="round" />
<path d="M664.4 601.2C665.43 601.25 668.53 601.6 670.6 601.5C672.67 601.4 675.33 599.87 676.8 600.6C678.27 601.33 677.78 604.27 679.4 605.9C681.02 607.53 683.85 608.78 686.5 610.4C689.15 612.02 692.37 613.25 695.3 615.6C698.23 617.95 701.17 622 704.1 624.5C707.03 627 710.83 628.98 712.9 630.6C714.97 632.22 714.73 633.17 716.5 634.2C718.27 635.23 720.57 635.48 723.5 636.8C726.43 638.12 730.57 640.77 734.1 642.1C737.63 643.43 741.47 644.22 744.7 644.8C747.93 645.38 750.57 644.87 753.5 645.6C756.43 646.33 759.35 647.57 762.3 649.2C765.25 650.83 768.25 653.5 771.2 655.4C774.15 657.3 777.07 658.55 780 660.6C782.93 662.65 785.87 664.9 788.8 667.7C791.73 670.5 794.65 673.72 797.6 677.4C800.55 681.08 803.55 685.68 806.5 689.8C809.45 693.92 812.07 698.43 815.3 702.1C818.53 705.77 822.62 709.6 825.9 711.8C829.18 714 832.3 714.12 835 715.3C837.7 716.48 839.75 718.02 842.1 718.9C844.45 719.78 846.47 720.17 849.1 720.6C851.73 721.03 854.95 720.9 857.9 721.5C860.85 722.1 863.55 723.02 866.8 724.2C870.05 725.38 873.88 727.13 877.4 728.6C880.92 730.07 884.38 731.68 887.9 733C891.42 734.32 894.97 735.18 898.5 736.5C902.03 737.82 905.87 739.25 909.1 740.9C912.33 742.55 914.95 744.75 917.9 746.4C920.85 748.05 924.15 750.65 926.8 750.8C929.45 750.95 931.45 748.5 933.8 747.3C936.15 746.1 938.83 744.82 940.9 743.6C942.97 742.38 944.43 740.65 946.2 740C947.97 739.35 949.73 739.25 951.5 739.7C953.27 740.15 955.33 741.28 956.8 742.7C958.27 744.12 958.83 747.2 960.3 748.2C961.77 749.2 963.25 749.3 965.6 748.7C967.95 748.1 972.05 746.18 974.4 744.6C976.75 743.02 977.35 740.7 979.7 739.2C982.05 737.7 985.57 736.33 988.5 735.6C991.43 734.87 994.95 734.65 997.3 734.8C999.65 734.95 1000.83 735.18 1002.6 736.5C1004.37 737.82 1005.92 740.62 1007.9 742.7C1009.88 744.78 1013.4 747.95 1014.5 749" fill="none" stroke="#111" stroke-width="1.9" stroke-linejoin="round" stroke-linecap="round" />
<path d="M664.4 649.2C665.43 648.85 668.53 647.33 670.6 647.1C672.67 646.87 675.18 646.57 676.8 647.8C678.42 649.03 678.68 652.8 680.3 654.5C681.92 656.2 684 656.53 686.5 658C689 659.47 692.65 661.25 695.3 663.3C697.95 665.35 700.35 667.37 702.4 670.3C704.45 673.23 705.55 677.22 707.6 680.9C709.65 684.58 712.63 689.75 714.7 692.4C716.77 695.05 717.35 695.03 720 696.8C722.65 698.57 727.37 701.08 730.6 703C733.83 704.92 735.87 707.12 739.4 708.3C742.93 709.48 748.27 709.07 751.8 710.1C755.33 711.13 757.67 712.3 760.6 714.5C763.53 716.7 766.17 720.8 769.4 723.3C772.63 725.8 776.47 726.85 780 729.5C783.53 732.15 787.8 736.12 790.6 739.2C793.4 742.28 795.33 746.07 796.8 748C798.27 749.93 797.78 748.57 799.4 750.8C801.02 753.03 804.15 757.57 806.5 761.4C808.85 765.23 811.15 769.97 813.5 773.8C815.85 777.63 817.95 780.88 820.6 784.4C823.25 787.92 827 792.27 829.4 794.9C831.8 797.53 833.18 798.28 835 800.2C836.82 802.12 838.23 804.33 840.3 806.4C842.37 808.47 844.47 810.68 847.4 812.6C850.33 814.52 854.38 815.98 857.9 817.9C861.42 819.82 864.97 822.48 868.5 824.1C872.03 825.72 875.87 826.28 879.1 827.6C882.33 828.92 885.25 830.83 887.9 832C890.55 833.17 892.63 833.13 895 834.6C897.37 836.07 899.75 838.3 902.1 840.8C904.45 843.3 906.75 846.07 909.1 849.6C911.45 853.13 914.13 858.32 916.2 862C918.27 865.68 919.73 868.62 921.5 871.7C923.27 874.78 925.03 879.92 926.8 880.5C928.57 881.08 930.05 876.82 932.1 875.2C934.15 873.58 937.05 873 939.1 870.8C941.15 868.6 942.33 863.92 944.4 862C946.47 860.08 949.73 859.3 951.5 859.3C953.27 859.3 953.98 860.08 955 862C956.02 863.92 956.72 868.3 957.6 870.8C958.48 873.3 958.68 875.82 960.3 877C961.92 878.18 965.25 877.17 967.3 877.9C969.35 878.63 970.83 879.42 972.6 881.4C974.37 883.38 977.02 888.4 977.9 889.8" fill="none" stroke="#111" stroke-width="1.9" stroke-linejoin="round" stroke-linecap="round" />
<path d="M664.4 719.8C665.43 719.65 668.53 719.55 670.6 718.9C672.67 718.25 675.18 715.17 676.8 715.9C678.42 716.63 678.68 721.48 680.3 723.3C681.92 725.12 684 725.33 686.5 726.8C689 728.27 692.65 730.03 695.3 732.1C697.95 734.17 700.45 736.88 702.4 739.2C704.35 741.52 705.53 744.35 707 746C708.47 747.65 709.62 746.97 711.2 749.1C712.78 751.23 714.45 756.9 716.5 758.8C718.55 760.7 720.57 759.03 723.5 760.5C726.43 761.97 730.87 765.53 734.1 767.6C737.33 769.67 739.95 771.58 742.9 772.9C745.85 774.22 748.85 773.88 751.8 775.5C754.75 777.12 758.25 780.25 760.6 782.6C762.95 784.95 763.98 786.95 765.9 789.6C767.82 792.25 769.17 795.4 772.1 798.5C775.03 801.6 779.83 804.53 783.5 808.2C787.17 811.87 790.87 816.23 794.1 820.5C797.33 824.77 799.95 828.95 802.9 833.8C805.85 838.65 808.85 844.02 811.8 849.6C814.75 855.18 817.97 862 820.6 867.3C823.23 872.6 825.83 877.65 827.6 881.4C829.37 885.15 830.6 888.4 831.2 889.8" fill="none" stroke="#111" stroke-width="1.9" stroke-linejoin="round" stroke-linecap="round" />
<path d="M664.4 841.7C665.73 840.67 670.2 838.88 672.4 835.5C674.6 832.12 676.13 822.72 677.6 821.4C679.07 820.08 679.43 827.45 681.2 827.6C682.97 827.75 685.55 824.37 688.2 822.3C690.85 820.23 694.73 816.38 697.1 815.2C699.47 814.02 700.65 814.6 702.4 815.2C704.15 815.8 705.85 816.88 707.6 818.8C709.35 820.72 711.42 823.92 712.9 826.7C714.38 829.48 714.73 834.32 716.5 835.5C718.27 836.68 720.57 833.2 723.5 833.8C726.43 834.4 730.57 837.05 734.1 839.1C737.63 841.15 741.75 844.35 744.7 846.1C747.65 847.85 749.15 847.53 751.8 849.6C754.45 851.67 758.25 855.85 760.6 858.5C762.95 861.15 764.13 862.57 765.9 865.5C767.67 868.43 769.15 873.15 771.2 876.1C773.25 879.05 776 880.92 778.2 883.2C780.4 885.48 783.37 888.7 784.4 889.8" fill="none" stroke="#111" stroke-width="1.9" stroke-linejoin="round" stroke-linecap="round" />
<path d="M698.8 889.8C699.53 889.28 701.73 886.7 703.2 886.7C704.67 886.7 706.87 889.28 707.6 889.8" fill="none" stroke="#111" stroke-width="1.9" stroke-linejoin="round" stroke-linecap="round" />
</g>
<rect x="142.5" y="599.5" width="872" height="290" fill="none" stroke="#222" stroke-width="1.8"/>
<path d="M335.9 889.5v-6M335.9 599.5v6M578.25 889.5v-6M578.25 599.5v6M820.6 889.5v-6M820.6 599.5v6" stroke="#222" stroke-width="1.5" fill="none"/>
<path d="M142.02 889.5v-3M190.49 889.5v-3M238.96 889.5v-3M287.43 889.5v-3M335.9 889.5v-3M384.37 889.5v-3M432.84 889.5v-3M481.31 889.5v-3M529.78 889.5v-3M578.25 889.5v-3M626.72 889.5v-3M675.19 889.5v-3M723.66 889.5v-3M772.13 889.5v-3M820.6 889.5v-3M869.07 889.5v-3M917.54 889.5v-3M966.01 889.5v-3M1014.48 889.5v-3" stroke="#222" stroke-width="1.5" fill="none"/>
<path d="M142.5 819.55h17.4M142.5 746.95h17.4M142.5 674.35h17.4M142.5 601.75h17.4" stroke="#222" stroke-width="1.5" fill="none"/>
<path d="M142.5 884.89h8.7M142.5 877.63h8.7M142.5 870.37h8.7M142.5 863.11h8.7M142.5 855.85h8.7M142.5 848.59h8.7M142.5 841.33h8.7M142.5 834.07h8.7M142.5 826.81h8.7M142.5 819.55h8.7M142.5 812.29h8.7M142.5 805.03h8.7M142.5 797.77h8.7M142.5 790.51h8.7M142.5 783.25h8.7M142.5 775.99h8.7M142.5 768.73h8.7M142.5 761.47h8.7M142.5 754.21h8.7M142.5 746.95h8.7M142.5 739.69h8.7M142.5 732.43h8.7M142.5 725.17h8.7M142.5 717.91h8.7M142.5 710.65h8.7M142.5 703.39h8.7M142.5 696.13h8.7M142.5 688.87h8.7M142.5 681.61h8.7M142.5 674.35h8.7M142.5 667.09h8.7M142.5 659.83h8.7M142.5 652.57h8.7M142.5 645.31h8.7M142.5 638.05h8.7M142.5 630.79h8.7M142.5 623.53h8.7M142.5 616.27h8.7M142.5 609.01h8.7M142.5 601.75h8.7" stroke="#222" stroke-width="1.5" fill="none"/>
<path d="M1014.5 855.85h-17.4M1014.5 819.55h-17.4M1014.5 783.25h-17.4M1014.5 746.95h-17.4M1014.5 710.65h-17.4" stroke="#222" stroke-width="1.5" fill="none"/>
<text x="133.5" y="619.5" font-size="25" text-anchor="end" >8</text>
<text x="133.5" y="686.2" font-size="25" text-anchor="end" >7</text>
<text x="133.5" y="758.3" font-size="25" text-anchor="end" >6</text>
<text x="133.5" y="831" font-size="25" text-anchor="end" >5</text>
<text x="335.9" y="932.2" font-size="25" text-anchor="middle" >-50</text>
<text x="578.25" y="932.2" font-size="25" text-anchor="middle" >0</text>
<text x="820.6" y="932.2" font-size="25" text-anchor="middle" >50</text>
<text x="578" y="968.4" font-size="24.6" text-anchor="middle" >Latitude <tspan font-weight="normal">(</tspan>deg<tspan font-weight="normal">)</tspan></text>
<text transform="translate(95.3,745.1) rotate(-90)" font-size="24.9" text-anchor="middle">Height <tspan font-weight="normal">(</tspan>Rs<tspan font-weight="normal">)</tspan></text>
</g>
<g id="pd">
<defs><linearGradient id="cb2" x1="0" y1="0" x2="1" y2="0"><stop offset="0.0000" stop-color="#000000"/><stop offset="0.0119" stop-color="#1a0010"/><stop offset="0.0295" stop-color="#2c0032"/><stop offset="0.0470" stop-color="#3c0046"/><stop offset="0.0645" stop-color="#440052"/><stop offset="0.0821" stop-color="#48005e"/><stop offset="0.0996" stop-color="#4a0070"/><stop offset="0.1171" stop-color="#4a0087"/><stop offset="0.1347" stop-color="#48009b"/><stop offset="0.1522" stop-color="#4400af"/><stop offset="0.1697" stop-color="#3c00c3"/><stop offset="0.1873" stop-color="#3000d7"/><stop offset="0.2048" stop-color="#2000eb"/><stop offset="0.2223" stop-color="#1000fa"/><stop offset="0.2381" stop-color="#0000ff"/><stop offset="0.2574" stop-color="#0818ff"/><stop offset="0.2749" stop-color="#1830ff"/><stop offset="0.2925" stop-color="#2848ff"/><stop offset="0.3100" stop-color="#3860ff"/><stop offset="0.3275" stop-color="#4070ff"/><stop offset="0.3451" stop-color="#5088ff"/><stop offset="0.3626" stop-color="#60a0ff"/><stop offset="0.3802" stop-color="#70b8ff"/><stop offset="0.3977" stop-color="#78d0ff"/><stop offset="0.4152" stop-color="#88f0ff"/><stop offset="0.4257" stop-color="#90ffff"/><stop offset="0.4415" stop-color="#90fff8"/><stop offset="0.4591" stop-color="#94ffe0"/><stop offset="0.4766" stop-color="#96ffc4"/><stop offset="0.5029" stop-color="#98ffa0"/><stop offset="0.5380" stop-color="#9bff76"/><stop offset="0.5730" stop-color="#98ff44"/><stop offset="0.5906" stop-color="#98ff3e"/><stop offset="0.6169" stop-color="#96ff3c"/><stop offset="0.6607" stop-color="#98ff3c"/><stop offset="0.6782" stop-color="#a0ff3c"/><stop offset="0.7133" stop-color="#b4ff3c"/><stop offset="0.7484" stop-color="#caff3c"/><stop offset="0.7834" stop-color="#e8ff3a"/><stop offset="0.8045" stop-color="#ffff38"/><stop offset="0.8185" stop-color="#ffff38"/><stop offset="0.8448" stop-color="#f5c832"/><stop offset="0.8711" stop-color="#eeaa2d"/><stop offset="0.8974" stop-color="#e88223"/><stop offset="0.9237" stop-color="#e46419"/><stop offset="0.9500" stop-color="#e1460f"/><stop offset="0.9763" stop-color="#e12305"/><stop offset="1.0000" stop-color="#e10000"/></linearGradient></defs>
<rect x="293.2" y="1417.3" width="570.3" height="61.700000000000045" fill="url(#cb2)"/>
<line x1="293.2" y1="1478.1" x2="863.5" y2="1478.1" stroke="#222" stroke-width="1.8"/>
<text x="313.9" y="1520.8" font-size="25" text-anchor="middle" >-5</text>
<text x="423.6" y="1520.8" font-size="25" text-anchor="middle" >-4</text>
<text x="533.3" y="1520.8" font-size="25" text-anchor="middle" >-3</text>
<text x="643" y="1520.8" font-size="25" text-anchor="middle" >-2</text>
<text x="752.7" y="1520.8" font-size="25" text-anchor="middle" >-1</text>
<text x="862.4" y="1520.8" font-size="25" text-anchor="middle" >0</text>
<text x="578" y="1556.7" font-size="24.5" text-anchor="middle">Density correction <tspan font-weight="normal">(</tspan>10<tspan font-size="11.5" dy="-14.5">3</tspan><tspan dy="14.5"> cm</tspan><tspan font-size="11.5" dy="-14.5">-3</tspan><tspan dy="14.5"><tspan font-weight="normal">)</tspan></tspan></text>
<text transform="translate(12.07,1429.6) scale(1.05,1)" font-size="43"><tspan font-weight="normal"><tspan font-weight="normal">(</tspan></tspan>d<tspan font-weight="normal"><tspan font-weight="normal">)</tspan></tspan></text>
<defs><linearGradient id="cmt"><stop offset="0.0000" stop-color="#000000"/><stop offset="0.0119" stop-color="#1a0010"/><stop offset="0.0295" stop-color="#2c0032"/><stop offset="0.0470" stop-color="#3c0046"/><stop offset="0.0645" stop-color="#440052"/><stop offset="0.0821" stop-color="#48005e"/><stop offset="0.0996" stop-color="#4a0070"/><stop offset="0.1171" stop-color="#4a0087"/><stop offset="0.1347" stop-color="#48009b"/><stop offset="0.1522" stop-color="#4400af"/><stop offset="0.1697" stop-color="#3c00c3"/><stop offset="0.1873" stop-color="#3000d7"/><stop offset="0.2048" stop-color="#2000eb"/><stop offset="0.2223" stop-color="#1000fa"/><stop offset="0.2381" stop-color="#0000ff"/><stop offset="0.2574" stop-color="#0818ff"/><stop offset="0.2749" stop-color="#1830ff"/><stop offset="0.2925" stop-color="#2848ff"/><stop offset="0.3100" stop-color="#3860ff"/><stop offset="0.3275" stop-color="#4070ff"/><stop offset="0.3451" stop-color="#5088ff"/><stop offset="0.3626" stop-color="#60a0ff"/><stop offset="0.3802" stop-color="#70b8ff"/><stop offset="0.3977" stop-color="#78d0ff"/><stop offset="0.4152" stop-color="#88f0ff"/><stop offset="0.4257" stop-color="#90ffff"/><stop offset="0.4415" stop-color="#90fff8"/><stop offset="0.4591" stop-color="#94ffe0"/><stop offset="0.4766" stop-color="#96ffc4"/><stop offset="0.5029" stop-color="#98ffa0"/><stop offset="0.5380" stop-color="#9bff76"/><stop offset="0.5730" stop-color="#98ff44"/><stop offset="0.5906" stop-color="#98ff3e"/><stop offset="0.6169" stop-color="#96ff3c"/><stop offset="0.6607" stop-color="#98ff3c"/><stop offset="0.6782" stop-color="#a0ff3c"/><stop offset="0.7133" stop-color="#b4ff3c"/><stop offset="0.7484" stop-color="#caff3c"/><stop offset="0.7834" stop-color="#e8ff3a"/><stop offset="0.8045" stop-color="#ffff38"/><stop offset="0.8185" stop-color="#ffff38"/><stop offset="0.8448" stop-color="#f5c832"/><stop offset="0.8711" stop-color="#eeaa2d"/><stop offset="0.8974" stop-color="#e88223"/><stop offset="0.9237" stop-color="#e46419"/><stop offset="0.9500" stop-color="#e1460f"/><stop offset="0.9763" stop-color="#e12305"/><stop offset="1.0000" stop-color="#e10000"/></linearGradient><linearGradient id="d0" href="#cmt" gradientUnits="userSpaceOnUse" x1="-32.7" x2="1767.2" y1="0" y2="0"/><linearGradient id="d1" href="#cmt" gradientUnits="userSpaceOnUse" x1="-32.8" x2="1767.2" y1="0" y2="0"/><linearGradient id="d2" href="#cmt" gradientUnits="userSpaceOnUse" x1="-33.0" x2="1767.2" y1="0" y2="0"/><linearGradient id="d3" href="#cmt" gradientUnits="userSpaceOnUse" x1="-33.3" x2="1767.2" y1="0" y2="0"/><linearGradient id="d4" href="#cmt" gradientUnits="userSpaceOnUse" x1="-33.6" x2="1767.2" y1="0" y2="0"/><linearGradient id="d5" href="#cmt" gradientUnits="userSpaceOnUse" x1="-34.0" x2="1767.2" y1="0" y2="0"/><linearGradient id="d6" href="#cmt" gradientUnits="userSpaceOnUse" x1="-34.3" x2="1767.2" y1="0" y2="0"/><linearGradient id="d7" href="#cmt" gradientUnits="userSpaceOnUse" x1="-34.6" x2="1767.1" y1="0" y2="0"/><linearGradient id="d8" href="#cmt" gradientUnits="userSpaceOnUse" x1="-35.0" x2="1767.1" y1="0" y2="0"/><linearGradient id="d9" href="#cmt" gradientUnits="userSpaceOnUse" x1="-35.3" x2="1767.1" y1="0" y2="0"/><linearGradient id="d10" href="#cmt" gradientUnits="userSpaceOnUse" x1="-35.6" x2="1767.1" y1="0" y2="0"/><linearGradient id="d11" href="#cmt" gradientUnits="userSpaceOnUse" x1="-36.0" x2="1767.1" y1="0" y2="0"/><linearGradient id="d12" href="#cmt" gradientUnits="userSpaceOnUse" x1="-36.3" x2="1767.1" y1="0" y2="0"/><linearGradient id="d13" href="#cmt" gradientUnits="userSpaceOnUse" x1="-36.6" x2="1767.1" y1="0" y2="0"/><linearGradient id="d14" href="#cmt" gradientUnits="userSpaceOnUse" x1="-37.0" x2="1767.1" y1="0" y2="0"/><linearGradient id="d15" href="#cmt" gradientUnits="userSpaceOnUse" x1="-37.3" x2="1767.0" y1="0" y2="0"/><linearGradient id="d16" href="#cmt" gradientUnits="userSpaceOnUse" x1="-37.7" x2="1767.0" y1="0" y2="0"/><linearGradient id="d17" href="#cmt" gradientUnits="userSpaceOnUse" x1="-38.0" x2="1767.0" y1="0" y2="0"/><linearGradient id="d18" href="#cmt" gradientUnits="userSpaceOnUse" x1="-38.3" x2="1767.0" y1="0" y2="0"/><linearGradient id="d19" href="#cmt" gradientUnits="userSpaceOnUse" x1="-38.7" x2="1767.0" y1="0" y2="0"/><linearGradient id="d20" href="#cmt" gradientUnits="userSpaceOnUse" x1="-39.0" x2="1767.0" y1="0" y2="0"/><linearGradient id="d21" href="#cmt" gradientUnits="userSpaceOnUse" x1="-39.3" x2="1767.0" y1="0" y2="0"/><linearGradient id="d22" href="#cmt" gradientUnits="userSpaceOnUse" x1="-39.7" x2="1767.0" y1="0" y2="0"/><linearGradient id="d23" href="#cmt" gradientUnits="userSpaceOnUse" x1="-40.0" x2="1767.0" y1="0" y2="0"/><linearGradient id="d24" href="#cmt" gradientUnits="userSpaceOnUse" x1="-40.3" x2="1766.9" y1="0" y2="0"/><linearGradient id="d25" href="#cmt" gradientUnits="userSpaceOnUse" x1="-40.7" x2="1766.9" y1="0" y2="0"/><linearGradient id="d26" href="#cmt" gradientUnits="userSpaceOnUse" x1="-41.0" x2="1766.9" y1="0" y2="0"/><linearGradient id="d27" href="#cmt" gradientUnits="userSpaceOnUse" x1="-41.4" x2="1766.9" y1="0" y2="0"/><linearGradient id="d28" href="#cmt" gradientUnits="userSpaceOnUse" x1="-41.7" x2="1766.9" y1="0" y2="0"/><linearGradient id="d29" href="#cmt" gradientUnits="userSpaceOnUse" x1="-42.0" x2="1766.9" y1="0" y2="0"/><linearGradient id="d30" href="#cmt" gradientUnits="userSpaceOnUse" x1="-42.4" x2="1766.9" y1="0" y2="0"/><linearGradient id="d31" href="#cmt" gradientUnits="userSpaceOnUse" x1="-42.7" x2="1766.9" y1="0" y2="0"/><linearGradient id="d32" href="#cmt" gradientUnits="userSpaceOnUse" x1="-43.0" x2="1766.8" y1="0" y2="0"/><linearGradient id="d33" href="#cmt" gradientUnits="userSpaceOnUse" x1="-43.4" x2="1766.8" y1="0" y2="0"/><linearGradient id="d34" href="#cmt" gradientUnits="userSpaceOnUse" x1="-43.7" x2="1766.8" y1="0" y2="0"/><linearGradient id="d35" href="#cmt" gradientUnits="userSpaceOnUse" x1="-44.1" x2="1766.8" y1="0" y2="0"/><linearGradient id="d36" href="#cmt" gradientUnits="userSpaceOnUse" x1="-44.4" x2="1766.8" y1="0" y2="0"/><linearGradient id="d37" href="#cmt" gradientUnits="userSpaceOnUse" x1="-44.7" x2="1766.8" y1="0" y2="0"/><linearGradient id="d38" href="#cmt" gradientUnits="userSpaceOnUse" x1="-45.1" x2="1766.8" y1="0" y2="0"/><linearGradient id="d39" href="#cmt" gradientUnits="userSpaceOnUse" x1="-46.0" x2="1766.7" y1="0" y2="0"/><linearGradient id="d40" href="#cmt" gradientUnits="userSpaceOnUse" x1="-47.0" x2="1766.7" y1="0" y2="0"/><linearGradient id="d41" href="#cmt" gradientUnits="userSpaceOnUse" x1="-48.0" x2="1766.7" y1="0" y2="0"/><linearGradient id="d42" href="#cmt" gradientUnits="userSpaceOnUse" x1="-48.9" x2="1766.6" y1="0" y2="0"/><linearGradient id="d43" href="#cmt" gradientUnits="userSpaceOnUse" x1="-49.9" x2="1766.6" y1="0" y2="0"/><linearGradient id="d44" href="#cmt" gradientUnits="userSpaceOnUse" x1="-50.8" x2="1766.6" y1="0" y2="0"/><linearGradient id="d45" href="#cmt" gradientUnits="userSpaceOnUse" x1="-51.8" x2="1766.5" y1="0" y2="0"/><linearGradient id="d46" href="#cmt" gradientUnits="userSpaceOnUse" x1="-52.8" x2="1766.5" y1="0" y2="0"/><linearGradient id="d47" href="#cmt" gradientUnits="userSpaceOnUse" x1="-53.7" x2="1766.5" y1="0" y2="0"/><linearGradient id="d48" href="#cmt" gradientUnits="userSpaceOnUse" x1="-54.7" x2="1766.4" y1="0" y2="0"/><linearGradient id="d49" href="#cmt" gradientUnits="userSpaceOnUse" x1="-55.7" x2="1766.4" y1="0" y2="0"/><linearGradient id="d50" href="#cmt" gradientUnits="userSpaceOnUse" x1="-56.7" x2="1766.4" y1="0" y2="0"/><linearGradient id="d51" href="#cmt" gradientUnits="userSpaceOnUse" x1="-57.6" x2="1766.3" y1="0" y2="0"/><linearGradient id="d52" href="#cmt" gradientUnits="userSpaceOnUse" x1="-58.6" x2="1766.3" y1="0" y2="0"/><linearGradient id="d53" href="#cmt" gradientUnits="userSpaceOnUse" x1="-59.6" x2="1766.3" y1="0" y2="0"/><linearGradient id="d54" href="#cmt" gradientUnits="userSpaceOnUse" x1="-60.5" x2="1766.2" y1="0" y2="0"/><linearGradient id="d55" href="#cmt" gradientUnits="userSpaceOnUse" x1="-61.5" x2="1766.2" y1="0" y2="0"/><linearGradient id="d56" href="#cmt" gradientUnits="userSpaceOnUse" x1="-62.5" x2="1766.2" y1="0" y2="0"/><linearGradient id="d57" href="#cmt" gradientUnits="userSpaceOnUse" x1="-63.5" x2="1766.1" y1="0" y2="0"/><linearGradient id="d58" href="#cmt" gradientUnits="userSpaceOnUse" x1="-64.5" x2="1766.1" y1="0" y2="0"/><linearGradient id="d59" href="#cmt" gradientUnits="userSpaceOnUse" x1="-65.4" x2="1766.1" y1="0" y2="0"/><linearGradient id="d60" href="#cmt" gradientUnits="userSpaceOnUse" x1="-66.4" x2="1766.0" y1="0" y2="0"/><linearGradient id="d61" href="#cmt" gradientUnits="userSpaceOnUse" x1="-67.4" x2="1766.0" y1="0" y2="0"/><linearGradient id="d62" href="#cmt" gradientUnits="userSpaceOnUse" x1="-68.4" x2="1766.0" y1="0" y2="0"/><linearGradient id="d63" href="#cmt" gradientUnits="userSpaceOnUse" x1="-69.4" x2="1765.9" y1="0" y2="0"/><linearGradient id="d64" href="#cmt" gradientUnits="userSpaceOnUse" x1="-70.3" x2="1765.9" y1="0" y2="0"/><linearGradient id="d65" href="#cmt" gradientUnits="userSpaceOnUse" x1="-71.3" x2="1765.8" y1="0" y2="0"/><linearGradient id="d66" href="#cmt" gradientUnits="userSpaceOnUse" x1="-72.3" x2="1765.8" y1="0" y2="0"/><linearGradient id="d67" href="#cmt" gradientUnits="userSpaceOnUse" x1="-73.3" x2="1765.8" y1="0" y2="0"/><linearGradient id="d68" href="#cmt" gradientUnits="userSpaceOnUse" x1="-74.3" x2="1765.7" y1="0" y2="0"/><linearGradient id="d69" href="#cmt" gradientUnits="userSpaceOnUse" x1="-75.3" x2="1765.7" y1="0" y2="0"/><linearGradient id="d70" href="#cmt" gradientUnits="userSpaceOnUse" x1="-76.3" x2="1765.7" y1="0" y2="0"/><linearGradient id="d71" href="#cmt" gradientUnits="userSpaceOnUse" x1="-77.3" x2="1765.6" y1="0" y2="0"/><linearGradient id="d72" href="#cmt" gradientUnits="userSpaceOnUse" x1="-78.3" x2="1765.6" y1="0" y2="0"/><linearGradient id="d73" href="#cmt" gradientUnits="userSpaceOnUse" x1="-79.3" x2="1765.6" y1="0" y2="0"/><linearGradient id="d74" href="#cmt" gradientUnits="userSpaceOnUse" x1="-80.2" x2="1765.5" y1="0" y2="0"/><linearGradient id="d75" href="#cmt" gradientUnits="userSpaceOnUse" x1="-81.7" x2="1765.5" y1="0" y2="0"/><linearGradient id="d76" href="#cmt" gradientUnits="userSpaceOnUse" x1="-83.4" x2="1765.4" y1="0" y2="0"/><linearGradient id="d77" href="#cmt" gradientUnits="userSpaceOnUse" x1="-85.1" x2="1765.4" y1="0" y2="0"/><linearGradient id="d78" href="#cmt" gradientUnits="userSpaceOnUse" x1="-86.9" x2="1765.3" y1="0" y2="0"/><linearGradient id="d79" href="#cmt" gradientUnits="userSpaceOnUse" x1="-88.6" x2="1765.2" y1="0" y2="0"/><linearGradient id="d80" href="#cmt" gradientUnits="userSpaceOnUse" x1="-90.3" x2="1765.2" y1="0" y2="0"/><linearGradient id="d81" href="#cmt" gradientUnits="userSpaceOnUse" x1="-92.0" x2="1765.1" y1="0" y2="0"/><linearGradient id="d82" href="#cmt" gradientUnits="userSpaceOnUse" x1="-93.7" x2="1765.1" y1="0" y2="0"/><linearGradient id="d83" href="#cmt" gradientUnits="userSpaceOnUse" x1="-95.4" x2="1765.0" y1="0" y2="0"/><linearGradient id="d84" href="#cmt" gradientUnits="userSpaceOnUse" x1="-97.2" x2="1764.9" y1="0" y2="0"/><linearGradient id="d85" href="#cmt" gradientUnits="userSpaceOnUse" x1="-98.9" x2="1764.9" y1="0" y2="0"/><linearGradient id="d86" href="#cmt" gradientUnits="userSpaceOnUse" x1="-100.6" x2="1764.8" y1="0" y2="0"/><linearGradient id="d87" href="#cmt" gradientUnits="userSpaceOnUse" x1="-102.4" x2="1764.8" y1="0" y2="0"/><linearGradient id="d88" href="#cmt" gradientUnits="userSpaceOnUse" x1="-104.1" x2="1764.7" y1="0" y2="0"/><linearGradient id="d89" href="#cmt" gradientUnits="userSpaceOnUse" x1="-105.8" x2="1764.6" y1="0" y2="0"/><linearGradient id="d90" href="#cmt" gradientUnits="userSpaceOnUse" x1="-107.6" x2="1764.6" y1="0" y2="0"/><linearGradient id="d91" href="#cmt" gradientUnits="userSpaceOnUse" x1="-109.3" x2="1764.5" y1="0" y2="0"/><linearGradient id="d92" href="#cmt" gradientUnits="userSpaceOnUse" x1="-111.1" x2="1764.4" y1="0" y2="0"/><linearGradient id="d93" href="#cmt" gradientUnits="userSpaceOnUse" x1="-112.8" x2="1764.4" y1="0" y2="0"/><linearGradient id="d94" href="#cmt" gradientUnits="userSpaceOnUse" x1="-114.6" x2="1764.3" y1="0" y2="0"/><linearGradient id="d95" href="#cmt" gradientUnits="userSpaceOnUse" x1="-116.4" x2="1764.3" y1="0" y2="0"/><linearGradient id="d96" href="#cmt" gradientUnits="userSpaceOnUse" x1="-118.1" x2="1764.2" y1="0" y2="0"/><linearGradient id="d97" href="#cmt" gradientUnits="userSpaceOnUse" x1="-119.9" x2="1764.1" y1="0" y2="0"/><linearGradient id="d98" href="#cmt" gradientUnits="userSpaceOnUse" x1="-121.7" x2="1764.1" y1="0" y2="0"/><linearGradient id="d99" href="#cmt" gradientUnits="userSpaceOnUse" x1="-123.4" x2="1764.0" y1="0" y2="0"/><linearGradient id="d100" href="#cmt" gradientUnits="userSpaceOnUse" x1="-125.2" x2="1763.9" y1="0" y2="0"/><linearGradient id="d101" href="#cmt" gradientUnits="userSpaceOnUse" x1="-127.0" x2="1763.9" y1="0" y2="0"/><linearGradient id="d102" href="#cmt" gradientUnits="userSpaceOnUse" x1="-128.8" x2="1763.8" y1="0" y2="0"/><linearGradient id="d103" href="#cmt" gradientUnits="userSpaceOnUse" x1="-130.6" x2="1763.8" y1="0" y2="0"/><linearGradient id="d104" href="#cmt" gradientUnits="userSpaceOnUse" x1="-132.4" x2="1763.7" y1="0" y2="0"/><linearGradient id="d105" href="#cmt" gradientUnits="userSpaceOnUse" x1="-134.2" x2="1763.6" y1="0" y2="0"/><linearGradient id="d106" href="#cmt" gradientUnits="userSpaceOnUse" x1="-136.0" x2="1763.6" y1="0" y2="0"/><linearGradient id="d107" href="#cmt" gradientUnits="userSpaceOnUse" x1="-137.8" x2="1763.5" y1="0" y2="0"/><linearGradient id="d108" href="#cmt" gradientUnits="userSpaceOnUse" x1="-139.6" x2="1763.4" y1="0" y2="0"/><linearGradient id="d109" href="#cmt" gradientUnits="userSpaceOnUse" x1="-141.4" x2="1763.4" y1="0" y2="0"/><linearGradient id="d110" href="#cmt" gradientUnits="userSpaceOnUse" x1="-143.2" x2="1763.3" y1="0" y2="0"/><linearGradient id="d111" href="#cmt" gradientUnits="userSpaceOnUse" x1="-145.6" x2="1763.2" y1="0" y2="0"/><linearGradient id="d112" href="#cmt" gradientUnits="userSpaceOnUse" x1="-148.9" x2="1763.1" y1="0" y2="0"/><linearGradient id="d113" href="#cmt" gradientUnits="userSpaceOnUse" x1="-152.2" x2="1763.0" y1="0" y2="0"/><linearGradient id="d114" href="#cmt" gradientUnits="userSpaceOnUse" x1="-155.6" x2="1762.9" y1="0" y2="0"/><linearGradient id="d115" href="#cmt" gradientUnits="userSpaceOnUse" x1="-159.0" x2="1762.8" y1="0" y2="0"/><linearGradient id="d116" href="#cmt" gradientUnits="userSpaceOnUse" x1="-162.3" x2="1762.6" y1="0" y2="0"/><linearGradient id="d117" href="#cmt" gradientUnits="userSpaceOnUse" x1="-165.7" x2="1762.5" y1="0" y2="0"/><linearGradient id="d118" href="#cmt" gradientUnits="userSpaceOnUse" x1="-169.1" x2="1762.4" y1="0" y2="0"/><linearGradient id="d119" href="#cmt" gradientUnits="userSpaceOnUse" x1="-172.5" x2="1762.3" y1="0" y2="0"/><linearGradient id="d120" href="#cmt" gradientUnits="userSpaceOnUse" x1="-175.9" x2="1762.2" y1="0" y2="0"/><linearGradient id="d121" href="#cmt" gradientUnits="userSpaceOnUse" x1="-179.3" x2="1762.0" y1="0" y2="0"/><linearGradient id="d122" href="#cmt" gradientUnits="userSpaceOnUse" x1="-182.8" x2="1761.9" y1="0" y2="0"/><linearGradient id="d123" href="#cmt" gradientUnits="userSpaceOnUse" x1="-186.2" x2="1761.8" y1="0" y2="0"/><linearGradient id="d124" href="#cmt" gradientUnits="userSpaceOnUse" x1="-189.7" x2="1761.7" y1="0" y2="0"/><linearGradient id="d125" href="#cmt" gradientUnits="userSpaceOnUse" x1="-193.2" x2="1761.6" y1="0" y2="0"/><linearGradient id="d126" href="#cmt" gradientUnits="userSpaceOnUse" x1="-196.7" x2="1761.4" y1="0" y2="0"/><linearGradient id="d127" href="#cmt" gradientUnits="userSpaceOnUse" x1="-200.2" x2="1761.3" y1="0" y2="0"/><linearGradient id="d128" href="#cmt" gradientUnits="userSpaceOnUse" x1="-203.7" x2="1761.2" y1="0" y2="0"/><linearGradient id="d129" href="#cmt" gradientUnits="userSpaceOnUse" x1="-207.2" x2="1761.1" y1="0" y2="0"/><linearGradient id="d130" href="#cmt" gradientUnits="userSpaceOnUse" x1="-210.7" x2="1760.9" y1="0" y2="0"/><linearGradient id="d131" href="#cmt" gradientUnits="userSpaceOnUse" x1="-214.3" x2="1760.8" y1="0" y2="0"/><linearGradient id="d132" href="#cmt" gradientUnits="userSpaceOnUse" x1="-217.8" x2="1760.7" y1="0" y2="0"/><linearGradient id="d133" href="#cmt" gradientUnits="userSpaceOnUse" x1="-221.4" x2="1760.6" y1="0" y2="0"/><linearGradient id="d134" href="#cmt" gradientUnits="userSpaceOnUse" x1="-225.0" x2="1760.4" y1="0" y2="0"/><linearGradient id="d135" href="#cmt" gradientUnits="userSpaceOnUse" x1="-228.6" x2="1760.3" y1="0" y2="0"/><linearGradient id="d136" href="#cmt" gradientUnits="userSpaceOnUse" x1="-232.2" x2="1760.2" y1="0" y2="0"/><linearGradient id="d137" href="#cmt" gradientUnits="userSpaceOnUse" x1="-235.8" x2="1760.0" y1="0" y2="0"/><linearGradient id="d138" href="#cmt" gradientUnits="userSpaceOnUse" x1="-239.4" x2="1759.9" y1="0" y2="0"/><linearGradient id="d139" href="#cmt" gradientUnits="userSpaceOnUse" x1="-243.1" x2="1759.8" y1="0" y2="0"/><linearGradient id="d140" href="#cmt" gradientUnits="userSpaceOnUse" x1="-246.8" x2="1759.7" y1="0" y2="0"/><linearGradient id="d141" href="#cmt" gradientUnits="userSpaceOnUse" x1="-250.4" x2="1759.5" y1="0" y2="0"/><linearGradient id="d142" href="#cmt" gradientUnits="userSpaceOnUse" x1="-254.1" x2="1759.4" y1="0" y2="0"/><linearGradient id="d143" href="#cmt" gradientUnits="userSpaceOnUse" x1="-257.8" x2="1759.3" y1="0" y2="0"/><linearGradient id="d144" href="#cmt" gradientUnits="userSpaceOnUse" x1="-261.5" x2="1759.1" y1="0" y2="0"/><linearGradient id="d145" href="#cmt" gradientUnits="userSpaceOnUse" x1="-265.3" x2="1759.0" y1="0" y2="0"/><linearGradient id="d146" href="#cmt" gradientUnits="userSpaceOnUse" x1="-269.0" x2="1758.9" y1="0" y2="0"/><linearGradient id="d147" href="#cmt" gradientUnits="userSpaceOnUse" x1="-273.0" x2="1758.7" y1="0" y2="0"/><linearGradient id="d148" href="#cmt" gradientUnits="userSpaceOnUse" x1="-279.9" x2="1758.5" y1="0" y2="0"/><linearGradient id="d149" href="#cmt" gradientUnits="userSpaceOnUse" x1="-286.8" x2="1758.3" y1="0" y2="0"/><linearGradient id="d150" href="#cmt" gradientUnits="userSpaceOnUse" x1="-293.7" x2="1758.0" y1="0" y2="0"/><linearGradient id="d151" href="#cmt" gradientUnits="userSpaceOnUse" x1="-300.7" x2="1757.8" y1="0" y2="0"/><linearGradient id="d152" href="#cmt" gradientUnits="userSpaceOnUse" x1="-307.7" x2="1757.5" y1="0" y2="0"/><linearGradient id="d153" href="#cmt" gradientUnits="userSpaceOnUse" x1="-314.7" x2="1757.3" y1="0" y2="0"/><linearGradient id="d154" href="#cmt" gradientUnits="userSpaceOnUse" x1="-321.8" x2="1757.0" y1="0" y2="0"/><linearGradient id="d155" href="#cmt" gradientUnits="userSpaceOnUse" x1="-329.0" x2="1756.8" y1="0" y2="0"/><linearGradient id="d156" href="#cmt" gradientUnits="userSpaceOnUse" x1="-336.2" x2="1756.5" y1="0" y2="0"/><linearGradient id="d157" href="#cmt" gradientUnits="userSpaceOnUse" x1="-343.4" x2="1756.3" y1="0" y2="0"/><linearGradient id="d158" href="#cmt" gradientUnits="userSpaceOnUse" x1="-350.7" x2="1756.0" y1="0" y2="0"/><linearGradient id="d159" href="#cmt" gradientUnits="userSpaceOnUse" x1="-358.1" x2="1755.7" y1="0" y2="0"/><linearGradient id="d160" href="#cmt" gradientUnits="userSpaceOnUse" x1="-365.5" x2="1755.5" y1="0" y2="0"/><linearGradient id="d161" href="#cmt" gradientUnits="userSpaceOnUse" x1="-372.9" x2="1755.2" y1="0" y2="0"/><linearGradient id="d162" href="#cmt" gradientUnits="userSpaceOnUse" x1="-380.4" x2="1755.0" y1="0" y2="0"/><linearGradient id="d163" href="#cmt" gradientUnits="userSpaceOnUse" x1="-388.0" x2="1754.7" y1="0" y2="0"/><linearGradient id="d164" href="#cmt" gradientUnits="userSpaceOnUse" x1="-395.6" x2="1754.4" y1="0" y2="0"/><linearGradient id="d165" href="#cmt" gradientUnits="userSpaceOnUse" x1="-403.2" x2="1754.1" y1="0" y2="0"/><linearGradient id="d166" href="#cmt" gradientUnits="userSpaceOnUse" x1="-410.9" x2="1753.9" y1="0" y2="0"/><linearGradient id="d167" href="#cmt" gradientUnits="userSpaceOnUse" x1="-418.7" x2="1753.6" y1="0" y2="0"/><linearGradient id="d168" href="#cmt" gradientUnits="userSpaceOnUse" x1="-426.5" x2="1753.3" y1="0" y2="0"/><linearGradient id="d169" href="#cmt" gradientUnits="userSpaceOnUse" x1="-434.4" x2="1753.0" y1="0" y2="0"/><linearGradient id="d170" href="#cmt" gradientUnits="userSpaceOnUse" x1="-442.3" x2="1752.8" y1="0" y2="0"/><linearGradient id="d171" href="#cmt" gradientUnits="userSpaceOnUse" x1="-450.3" x2="1752.5" y1="0" y2="0"/><linearGradient id="d172" href="#cmt" gradientUnits="userSpaceOnUse" x1="-458.3" x2="1752.2" y1="0" y2="0"/><linearGradient id="d173" href="#cmt" gradientUnits="userSpaceOnUse" x1="-466.4" x2="1751.9" y1="0" y2="0"/><linearGradient id="d174" href="#cmt" gradientUnits="userSpaceOnUse" x1="-474.5" x2="1751.6" y1="0" y2="0"/><linearGradient id="d175" href="#cmt" gradientUnits="userSpaceOnUse" x1="-482.7" x2="1751.3" y1="0" y2="0"/><linearGradient id="d176" href="#cmt" gradientUnits="userSpaceOnUse" x1="-491.0" x2="1751.1" y1="0" y2="0"/><linearGradient id="d177" href="#cmt" gradientUnits="userSpaceOnUse" x1="-499.3" x2="1750.8" y1="0" y2="0"/><linearGradient id="d178" href="#cmt" gradientUnits="userSpaceOnUse" x1="-507.7" x2="1750.5" y1="0" y2="0"/><linearGradient id="d179" href="#cmt" gradientUnits="userSpaceOnUse" x1="-516.2" x2="1750.2" y1="0" y2="0"/><linearGradient id="d180" href="#cmt" gradientUnits="userSpaceOnUse" x1="-524.7" x2="1749.9" y1="0" y2="0"/><linearGradient id="d181" href="#cmt" gradientUnits="userSpaceOnUse" x1="-533.2" x2="1749.6" y1="0" y2="0"/><linearGradient id="d182" href="#cmt" gradientUnits="userSpaceOnUse" x1="-541.9" x2="1749.3" y1="0" y2="0"/><linearGradient id="d183" href="#cmt" gradientUnits="userSpaceOnUse" x1="-550.6" x2="1749.0" y1="0" y2="0"/><linearGradient id="d184" href="#cmt" gradientUnits="userSpaceOnUse" x1="-563.3" x2="1748.5" y1="0" y2="0"/><linearGradient id="d185" href="#cmt" gradientUnits="userSpaceOnUse" x1="-577.1" x2="1748.0" y1="0" y2="0"/><linearGradient id="d186" href="#cmt" gradientUnits="userSpaceOnUse" x1="-591.2" x2="1747.5" y1="0" y2="0"/><linearGradient id="d187" href="#cmt" gradientUnits="userSpaceOnUse" x1="-605.3" x2="1747.0" y1="0" y2="0"/><linearGradient id="d188" href="#cmt" gradientUnits="userSpaceOnUse" x1="-619.7" x2="1746.5" y1="0" y2="0"/><linearGradient id="d189" href="#cmt" gradientUnits="userSpaceOnUse" x1="-634.2" x2="1746.0" y1="0" y2="0"/><linearGradient id="d190" href="#cmt" gradientUnits="userSpaceOnUse" x1="-648.9" x2="1745.5" y1="0" y2="0"/><linearGradient id="d191" href="#cmt" gradientUnits="userSpaceOnUse" x1="-663.8" x2="1745.0" y1="0" y2="0"/><linearGradient id="d192" href="#cmt" gradientUnits="userSpaceOnUse" x1="-678.8" x2="1744.4" y1="0" y2="0"/><linearGradient id="d193" href="#cmt" gradientUnits="userSpaceOnUse" x1="-694.0" x2="1743.9" y1="0" y2="0"/><linearGradient id="d194" href="#cmt" gradientUnits="userSpaceOnUse" x1="-709.5" x2="1743.4" y1="0" y2="0"/><linearGradient id="d195" href="#cmt" gradientUnits="userSpaceOnUse" x1="-725.1" x2="1742.8" y1="0" y2="0"/><linearGradient id="d196" href="#cmt" gradientUnits="userSpaceOnUse" x1="-740.9" x2="1742.2" y1="0" y2="0"/><linearGradient id="d197" href="#cmt" gradientUnits="userSpaceOnUse" x1="-756.9" x2="1741.7" y1="0" y2="0"/><linearGradient id="d198" href="#cmt" gradientUnits="userSpaceOnUse" x1="-773.0" x2="1741.1" y1="0" y2="0"/><linearGradient id="d199" href="#cmt" gradientUnits="userSpaceOnUse" x1="-789.4" x2="1740.5" y1="0" y2="0"/><linearGradient id="d200" href="#cmt" gradientUnits="userSpaceOnUse" x1="-806.1" x2="1739.9" y1="0" y2="0"/><linearGradient id="d201" href="#cmt" gradientUnits="userSpaceOnUse" x1="-822.9" x2="1739.4" y1="0" y2="0"/><linearGradient id="d202" href="#cmt" gradientUnits="userSpaceOnUse" x1="-839.9" x2="1738.8" y1="0" y2="0"/><linearGradient id="d203" href="#cmt" gradientUnits="userSpaceOnUse" x1="-857.2" x2="1738.1" y1="0" y2="0"/><linearGradient id="d204" href="#cmt" gradientUnits="userSpaceOnUse" x1="-874.6" x2="1737.5" y1="0" y2="0"/><linearGradient id="d205" href="#cmt" gradientUnits="userSpaceOnUse" x1="-892.3" x2="1736.9" y1="0" y2="0"/><linearGradient id="d206" href="#cmt" gradientUnits="userSpaceOnUse" x1="-910.3" x2="1736.3" y1="0" y2="0"/><linearGradient id="d207" href="#cmt" gradientUnits="userSpaceOnUse" x1="-928.5" x2="1735.6" y1="0" y2="0"/><linearGradient id="d208" href="#cmt" gradientUnits="userSpaceOnUse" x1="-946.9" x2="1735.0" y1="0" y2="0"/><linearGradient id="d209" href="#cmt" gradientUnits="userSpaceOnUse" x1="-965.5" x2="1734.3" y1="0" y2="0"/><linearGradient id="d210" href="#cmt" gradientUnits="userSpaceOnUse" x1="-984.5" x2="1733.7" y1="0" y2="0"/><linearGradient id="d211" href="#cmt" gradientUnits="userSpaceOnUse" x1="-1003.6" x2="1733.0" y1="0" y2="0"/><linearGradient id="d212" href="#cmt" gradientUnits="userSpaceOnUse" x1="-1023.1" x2="1732.3" y1="0" y2="0"/><linearGradient id="d213" href="#cmt" gradientUnits="userSpaceOnUse" x1="-1042.8" x2="1731.6" y1="0" y2="0"/><linearGradient id="d214" href="#cmt" gradientUnits="userSpaceOnUse" x1="-1062.8" x2="1730.9" y1="0" y2="0"/><linearGradient id="d215" href="#cmt" gradientUnits="userSpaceOnUse" x1="-1083.0" x2="1730.2" y1="0" y2="0"/><linearGradient id="d216" href="#cmt" gradientUnits="userSpaceOnUse" x1="-1103.6" x2="1729.5" y1="0" y2="0"/><linearGradient id="d217" href="#cmt" gradientUnits="userSpaceOnUse" x1="-1124.4" x2="1728.7" y1="0" y2="0"/><linearGradient id="d218" href="#cmt" gradientUnits="userSpaceOnUse" x1="-1145.5" x2="1728.0" y1="0" y2="0"/><linearGradient id="d219" href="#cmt" gradientUnits="userSpaceOnUse" x1="-1167.0" x2="1727.2" y1="0" y2="0"/><linearGradient id="d220" href="#cmt" gradientUnits="userSpaceOnUse" x1="-1194.1" x2="1726.3" y1="0" y2="0"/><linearGradient id="d221" href="#cmt" gradientUnits="userSpaceOnUse" x1="-1227.1" x2="1725.1" y1="0" y2="0"/><linearGradient id="d222" href="#cmt" gradientUnits="userSpaceOnUse" x1="-1260.9" x2="1723.9" y1="0" y2="0"/><linearGradient id="d223" href="#cmt" gradientUnits="userSpaceOnUse" x1="-1295.4" x2="1722.7" y1="0" y2="0"/><linearGradient id="d224" href="#cmt" gradientUnits="userSpaceOnUse" x1="-1330.7" x2="1721.5" y1="0" y2="0"/><linearGradient id="d225" href="#cmt" gradientUnits="userSpaceOnUse" x1="-1366.8" x2="1720.2" y1="0" y2="0"/><linearGradient id="d226" href="#cmt" gradientUnits="userSpaceOnUse" x1="-1403.8" x2="1718.9" y1="0" y2="0"/><linearGradient id="d227" href="#cmt" gradientUnits="userSpaceOnUse" x1="-1441.6" x2="1717.5" y1="0" y2="0"/><linearGradient id="d228" href="#cmt" gradientUnits="userSpaceOnUse" x1="-1480.3" x2="1716.2" y1="0" y2="0"/><linearGradient id="d229" href="#cmt" gradientUnits="userSpaceOnUse" x1="-1519.9" x2="1714.8" y1="0" y2="0"/><linearGradient id="d230" href="#cmt" gradientUnits="userSpaceOnUse" x1="-1560.5" x2="1713.4" y1="0" y2="0"/><linearGradient id="d231" href="#cmt" gradientUnits="userSpaceOnUse" x1="-1602.1" x2="1711.9" y1="0" y2="0"/><linearGradient id="d232" href="#cmt" gradientUnits="userSpaceOnUse" x1="-1644.7" x2="1710.4" y1="0" y2="0"/><linearGradient id="d233" href="#cmt" gradientUnits="userSpaceOnUse" x1="-1688.4" x2="1708.8" y1="0" y2="0"/><linearGradient id="d234" href="#cmt" gradientUnits="userSpaceOnUse" x1="-1733.2" x2="1707.3" y1="0" y2="0"/><linearGradient id="d235" href="#cmt" gradientUnits="userSpaceOnUse" x1="-1779.1" x2="1705.6" y1="0" y2="0"/><linearGradient id="d236" href="#cmt" gradientUnits="userSpaceOnUse" x1="-1826.3" x2="1704.0" y1="0" y2="0"/><linearGradient id="d237" href="#cmt" gradientUnits="userSpaceOnUse" x1="-1874.7" x2="1702.3" y1="0" y2="0"/><linearGradient id="d238" href="#cmt" gradientUnits="userSpaceOnUse" x1="-1924.4" x2="1700.5" y1="0" y2="0"/><linearGradient id="d239" href="#cmt" gradientUnits="userSpaceOnUse" x1="-1975.4" x2="1698.7" y1="0" y2="0"/><linearGradient id="d240" href="#cmt" gradientUnits="userSpaceOnUse" x1="-2027.8" x2="1696.9" y1="0" y2="0"/><linearGradient id="d241" href="#cmt" gradientUnits="userSpaceOnUse" x1="-2081.8" x2="1695.0" y1="0" y2="0"/><linearGradient id="d242" href="#cmt" gradientUnits="userSpaceOnUse" x1="-2137.2" x2="1693.0" y1="0" y2="0"/><linearGradient id="d243" href="#cmt" gradientUnits="userSpaceOnUse" x1="-2194.2" x2="1691.0" y1="0" y2="0"/><linearGradient id="d244" href="#cmt" gradientUnits="userSpaceOnUse" x1="-2252.9" x2="1688.9" y1="0" y2="0"/><linearGradient id="d245" href="#cmt" gradientUnits="userSpaceOnUse" x1="-2313.4" x2="1686.8" y1="0" y2="0"/><linearGradient id="d246" href="#cmt" gradientUnits="userSpaceOnUse" x1="-2375.6" x2="1684.6" y1="0" y2="0"/><linearGradient id="d247" href="#cmt" gradientUnits="userSpaceOnUse" x1="-2439.8" x2="1682.4" y1="0" y2="0"/><linearGradient id="d248" href="#cmt" gradientUnits="userSpaceOnUse" x1="-2505.9" x2="1680.0" y1="0" y2="0"/><linearGradient id="d249" href="#cmt" gradientUnits="userSpaceOnUse" x1="-2574.1" x2="1677.6" y1="0" y2="0"/><linearGradient id="d250" href="#cmt" gradientUnits="userSpaceOnUse" x1="-2644.5" x2="1675.1" y1="0" y2="0"/><linearGradient id="d251" href="#cmt" gradientUnits="userSpaceOnUse" x1="-2717.2" x2="1672.6" y1="0" y2="0"/><linearGradient id="d252" href="#cmt" gradientUnits="userSpaceOnUse" x1="-2792.2" x2="1669.9" y1="0" y2="0"/><linearGradient id="d253" href="#cmt" gradientUnits="userSpaceOnUse" x1="-2869.8" x2="1667.2" y1="0" y2="0"/><linearGradient id="d254" href="#cmt" gradientUnits="userSpaceOnUse" x1="-2950.1" x2="1664.4" y1="0" y2="0"/><linearGradient id="d255" href="#cmt" gradientUnits="userSpaceOnUse" x1="-3033.1" x2="1661.4" y1="0" y2="0"/><linearGradient id="d256" href="#cmt" gradientUnits="userSpaceOnUse" x1="-3130.2" x2="1658.0" y1="0" y2="0"/><linearGradient id="d257" href="#cmt" gradientUnits="userSpaceOnUse" x1="-3278.3" x2="1652.8" y1="0" y2="0"/><linearGradient id="d258" href="#cmt" gradientUnits="userSpaceOnUse" x1="-3435.6" x2="1647.3" y1="0" y2="0"/><linearGradient id="d259" href="#cmt" gradientUnits="userSpaceOnUse" x1="-3602.8" x2="1641.4" y1="0" y2="0"/><linearGradient id="d260" href="#cmt" gradientUnits="userSpaceOnUse" x1="-3780.9" x2="1635.1" y1="0" y2="0"/><linearGradient id="d261" href="#cmt" gradientUnits="userSpaceOnUse" x1="-3971.2" x2="1628.4" y1="0" y2="0"/><linearGradient id="d262" href="#cmt" gradientUnits="userSpaceOnUse" x1="-4174.8" x2="1621.2" y1="0" y2="0"/><linearGradient id="d263" href="#cmt" gradientUnits="userSpaceOnUse" x1="-4393.2" x2="1613.5" y1="0" y2="0"/><linearGradient id="d264" href="#cmt" gradientUnits="userSpaceOnUse" x1="-4628.0" x2="1605.2" y1="0" y2="0"/><linearGradient id="d265" href="#cmt" gradientUnits="userSpaceOnUse" x1="-4881.3" x2="1596.3" y1="0" y2="0"/><linearGradient id="d266" href="#cmt" gradientUnits="userSpaceOnUse" x1="-5155.3" x2="1586.6" y1="0" y2="0"/><linearGradient id="d267" href="#cmt" gradientUnits="userSpaceOnUse" x1="-5452.5" x2="1576.2" y1="0" y2="0"/><linearGradient id="d268" href="#cmt" gradientUnits="userSpaceOnUse" x1="-5776.2" x2="1564.7" y1="0" y2="0"/><linearGradient id="d269" href="#cmt" gradientUnits="userSpaceOnUse" x1="-6130.0" x2="1552.3" y1="0" y2="0"/><linearGradient id="d270" href="#cmt" gradientUnits="userSpaceOnUse" x1="-6518.3" x2="1538.6" y1="0" y2="0"/><linearGradient id="d271" href="#cmt" gradientUnits="userSpaceOnUse" x1="-6946.3" x2="1523.5" y1="0" y2="0"/><linearGradient id="d272" href="#cmt" gradientUnits="userSpaceOnUse" x1="-7420.7" x2="1506.8" y1="0" y2="0"/><linearGradient id="d273" href="#cmt" gradientUnits="userSpaceOnUse" x1="-7949.2" x2="1488.1" y1="0" y2="0"/><linearGradient id="d274" href="#cmt" gradientUnits="userSpaceOnUse" x1="-8541.7" x2="1467.3" y1="0" y2="0"/><linearGradient id="d275" href="#cmt" gradientUnits="userSpaceOnUse" x1="-9210.7" x2="1443.7" y1="0" y2="0"/><linearGradient id="d276" href="#cmt" gradientUnits="userSpaceOnUse" x1="-9971.8" x2="1416.8" y1="0" y2="0"/><linearGradient id="d277" href="#cmt" gradientUnits="userSpaceOnUse" x1="-10845.7" x2="1386.0" y1="0" y2="0"/><linearGradient id="d278" href="#cmt" gradientUnits="userSpaceOnUse" x1="-11859.3" x2="1350.3" y1="0" y2="0"/><linearGradient id="d279" href="#cmt" gradientUnits="userSpaceOnUse" x1="-13049.0" x2="1308.4" y1="0" y2="0"/><linearGradient id="d280" href="#cmt" gradientUnits="userSpaceOnUse" x1="-14465.2" x2="1258.5" y1="0" y2="0"/><linearGradient id="d281" href="#cmt" gradientUnits="userSpaceOnUse" x1="-16179.2" x2="1198.0" y1="0" y2="0"/><linearGradient id="d282" href="#cmt" gradientUnits="userSpaceOnUse" x1="-18296.1" x2="1123.4" y1="0" y2="0"/><linearGradient id="d283" href="#cmt" gradientUnits="userSpaceOnUse" x1="-20976.8" x2="1028.9" y1="0" y2="0"/><linearGradient id="d284" href="#cmt" gradientUnits="userSpaceOnUse" x1="-24481.3" x2="905.4" y1="0" y2="0"/><linearGradient id="d285" href="#cmt" gradientUnits="userSpaceOnUse" x1="-29258.1" x2="737.0" y1="0" y2="0"/><linearGradient id="d286" href="#cmt" gradientUnits="userSpaceOnUse" x1="-36153.8" x2="493.9" y1="0" y2="0"/><linearGradient id="d287" href="#cmt" gradientUnits="userSpaceOnUse" x1="-46980.0" x2="112.3" y1="0" y2="0"/><linearGradient id="d288" href="#cmt" gradientUnits="userSpaceOnUse" x1="-66437.0" x2="-573.6" y1="0" y2="0"/><linearGradient id="d289" href="#cmt" gradientUnits="userSpaceOnUse" x1="-111685.8" x2="-2168.6" y1="0" y2="0"/></defs>
<clipPath id="clipd"><rect x="142.5" y="1592.6" width="872.0" height="289.4000000000001"/></clipPath>
<g clip-path="url(#clipd)"><rect x="142.5" y="1592" width="872.0" height="1.02" fill="url(#d0)"/><rect x="142.5" y="1593" width="872.0" height="1.02" fill="url(#d1)"/><rect x="142.5" y="1594" width="872.0" height="1.02" fill="url(#d2)"/><rect x="142.5" y="1595" width="872.0" height="1.02" fill="url(#d3)"/><rect x="142.5" y="1596" width="872.0" height="1.02" fill="url(#d4)"/><rect x="142.5" y="1597" width="872.0" height="1.02" fill="url(#d5)"/><rect x="142.5" y="1598" width="872.0" height="1.02" fill="url(#d6)"/><rect x="142.5" y="1599" width="872.0" height="1.02" fill="url(#d7)"/><rect x="142.5" y="1600" width="872.0" height="1.02" fill="url(#d8)"/><rect x="142.5" y="1601" width="872.0" height="1.02" fill="url(#d9)"/><rect x="142.5" y="1602" width="872.0" height="1.02" fill="url(#d10)"/><rect x="142.5" y="1603" width="872.0" height="1.02" fill="url(#d11)"/><rect x="142.5" y="1604" width="872.0" height="1.02" fill="url(#d12)"/><rect x="142.5" y="1605" width="872.0" height="1.02" fill="url(#d13)"/><rect x="142.5" y="1606" width="872.0" height="1.02" fill="url(#d14)"/><rect x="142.5" y="1607" width="872.0" height="1.02" fill="url(#d15)"/><rect x="142.5" y="1608" width="872.0" height="1.02" fill="url(#d16)"/><rect x="142.5" y="1609" width="872.0" height="1.02" fill="url(#d17)"/><rect x="142.5" y="1610" width="872.0" height="1.02" fill="url(#d18)"/><rect x="142.5" y="1611" width="872.0" height="1.02" fill="url(#d19)"/><rect x="142.5" y="1612" width="872.0" height="1.02" fill="url(#d20)"/><rect x="142.5" y="1613" width="872.0" height="1.02" fill="url(#d21)"/><rect x="142.5" y="1614" width="872.0" height="1.02" fill="url(#d22)"/><rect x="142.5" y="1615" width="872.0" height="1.02" fill="url(#d23)"/><rect x="142.5" y="1616" width="872.0" height="1.02" fill="url(#d24)"/><rect x="142.5" y="1617" width="872.0" height="1.02" fill="url(#d25)"/><rect x="142.5" y="1618" width="872.0" height="1.02" fill="url(#d26)"/><rect x="142.5" y="1619" width="872.0" height="1.02" fill="url(#d27)"/><rect x="142.5" y="1620" width="872.0" height="1.02" fill="url(#d28)"/><rect x="142.5" y="1621" width="872.0" height="1.02" fill="url(#d29)"/><rect x="142.5" y="1622" width="872.0" height="1.02" fill="url(#d30)"/><rect x="142.5" y="1623" width="872.0" height="1.02" fill="url(#d31)"/><rect x="142.5" y="1624" width="872.0" height="1.02" fill="url(#d32)"/><rect x="142.5" y="1625" width="872.0" height="1.02" fill="url(#d33)"/><rect x="142.5" y="1626" width="872.0" height="1.02" fill="url(#d34)"/><rect x="142.5" y="1627" width="872.0" height="1.02" fill="url(#d35)"/><rect x="142.5" y="1628" width="872.0" height="1.02" fill="url(#d36)"/><rect x="142.5" y="1629" width="872.0" height="1.02" fill="url(#d37)"/><rect x="142.5" y="1630" width="872.0" height="1.02" fill="url(#d38)"/><rect x="142.5" y="1631" width="872.0" height="1.02" fill="url(#d39)"/><rect x="142.5" y="1632" width="872.0" height="1.02" fill="url(#d40)"/><rect x="142.5" y="1633" width="872.0" height="1.02" fill="url(#d41)"/><rect x="142.5" y="1634" width="872.0" height="1.02" fill="url(#d42)"/><rect x="142.5" y="1635" width="872.0" height="1.02" fill="url(#d43)"/><rect x="142.5" y="1636" width="872.0" height="1.02" fill="url(#d44)"/><rect x="142.5" y="1637" width="872.0" height="1.02" fill="url(#d45)"/><rect x="142.5" y="1638" width="872.0" height="1.02" fill="url(#d46)"/><rect x="142.5" y="1639" width="872.0" height="1.02" fill="url(#d47)"/><rect x="142.5" y="1640" width="872.0" height="1.02" fill="url(#d48)"/><rect x="142.5" y="1641" width="872.0" height="1.02" fill="url(#d49)"/><rect x="142.5" y="1642" width="872.0" height="1.02" fill="url(#d50)"/><rect x="142.5" y="1643" width="872.0" height="1.02" fill="url(#d51)"/><rect x="142.5" y="1644" width="872.0" height="1.02" fill="url(#d52)"/><rect x="142.5" y="1645" width="872.0" height="1.02" fill="url(#d53)"/><rect x="142.5" y="1646" width="872.0" height="1.02" fill="url(#d54)"/><rect x="142.5" y="1647" width="872.0" height="1.02" fill="url(#d55)"/><rect x="142.5" y="1648" width="872.0" height="1.02" fill="url(#d56)"/><rect x="142.5" y="1649" width="872.0" height="1.02" fill="url(#d57)"/><rect x="142.5" y="1650" width="872.0" height="1.02" fill="url(#d58)"/><rect x="142.5" y="1651" width="872.0" height="1.02" fill="url(#d59)"/><rect x="142.5" y="1652" width="872.0" height="1.02" fill="url(#d60)"/><rect x="142.5" y="1653" width="872.0" height="1.02" fill="url(#d61)"/><rect x="142.5" y="1654" width="872.0" height="1.02" fill="url(#d62)"/><rect x="142.5" y="1655" width="872.0" height="1.02" fill="url(#d63)"/><rect x="142.5" y="1656" width="872.0" height="1.02" fill="url(#d64)"/><rect x="142.5" y="1657" width="872.0" height="1.02" fill="url(#d65)"/><rect x="142.5" y="1658" width="872.0" height="1.02" fill="url(#d66)"/><rect x="142.5" y="1659" width="872.0" height="1.02" fill="url(#d67)"/><rect x="142.5" y="1660" width="872.0" height="1.02" fill="url(#d68)"/><rect x="142.5" y="1661" width="872.0" height="1.02" fill="url(#d69)"/><rect x="142.5" y="1662" width="872.0" height="1.02" fill="url(#d70)"/><rect x="142.5" y="1663" width="872.0" height="1.02" fill="url(#d71)"/><rect x="142.5" y="1664" width="872.0" height="1.02" fill="url(#d72)"/><rect x="142.5" y="1665" width="872.0" height="1.02" fill="url(#d73)"/><rect x="142.5" y="1666" width="872.0" height="1.02" fill="url(#d74)"/><rect x="142.5" y="1667" width="872.0" height="1.02" fill="url(#d75)"/><rect x="142.5" y="1668" width="872.0" height="1.02" fill="url(#d76)"/><rect x="142.5" y="1669" width="872.0" height="1.02" fill="url(#d77)"/><rect x="142.5" y="1670" width="872.0" height="1.02" fill="url(#d78)"/><rect x="142.5" y="1671" width="872.0" height="1.02" fill="url(#d79)"/><rect x="142.5" y="1672" width="872.0" height="1.02" fill="url(#d80)"/><rect x="142.5" y="1673" width="872.0" height="1.02" fill="url(#d81)"/><rect x="142.5" y="1674" width="872.0" height="1.02" fill="url(#d82)"/><rect x="142.5" y="1675" width="872.0" height="1.02" fill="url(#d83)"/><rect x="142.5" y="1676" width="872.0" height="1.02" fill="url(#d84)"/><rect x="142.5" y="1677" width="872.0" height="1.02" fill="url(#d85)"/><rect x="142.5" y="1678" width="872.0" height="1.02" fill="url(#d86)"/><rect x="142.5" y="1679" width="872.0" height="1.02" fill="url(#d87)"/><rect x="142.5" y="1680" width="872.0" height="1.02" fill="url(#d88)"/><rect x="142.5" y="1681" width="872.0" height="1.02" fill="url(#d89)"/><rect x="142.5" y="1682" width="872.0" height="1.02" fill="url(#d90)"/><rect x="142.5" y="1683" width="872.0" height="1.02" fill="url(#d91)"/><rect x="142.5" y="1684" width="872.0" height="1.02" fill="url(#d92)"/><rect x="142.5" y="1685" width="872.0" height="1.02" fill="url(#d93)"/><rect x="142.5" y="1686" width="872.0" height="1.02" fill="url(#d94)"/><rect x="142.5" y="1687" width="872.0" height="1.02" fill="url(#d95)"/><rect x="142.5" y="1688" width="872.0" height="1.02" fill="url(#d96)"/><rect x="142.5" y="1689" width="872.0" height="1.02" fill="url(#d97)"/><rect x="142.5" y="1690" width="872.0" height="1.02" fill="url(#d98)"/><rect x="142.5" y="1691" width="872.0" height="1.02" fill="url(#d99)"/><rect x="142.5" y="1692" width="872.0" height="1.02" fill="url(#d100)"/><rect x="142.5" y="1693" width="872.0" height="1.02" fill="url(#d101)"/><rect x="142.5" y="1694" width="872.0" height="1.02" fill="url(#d102)"/><rect x="142.5" y="1695" width="872.0" height="1.02" fill="url(#d103)"/><rect x="142.5" y="1696" width="872.0" height="1.02" fill="url(#d104)"/><rect x="142.5" y="1697" width="872.0" height="1.02" fill="url(#d105)"/><rect x="142.5" y="1698" width="872.0" height="1.02" fill="url(#d106)"/><rect x="142.5" y="1699" width="872.0" height="1.02" fill="url(#d107)"/><rect x="142.5" y="1700" width="872.0" height="1.02" fill="url(#d108)"/><rect x="142.5" y="1701" width="872.0" height="1.02" fill="url(#d109)"/><rect x="142.5" y="1702" width="872.0" height="1.02" fill="url(#d110)"/><rect x="142.5" y="1703" width="872.0" height="1.02" fill="url(#d111)"/><rect x="142.5" y="1704" width="872.0" height="1.02" fill="url(#d112)"/><rect x="142.5" y="1705" width="872.0" height="1.02" fill="url(#d113)"/><rect x="142.5" y="1706" width="872.0" height="1.02" fill="url(#d114)"/><rect x="142.5" y="1707" width="872.0" height="1.02" fill="url(#d115)"/><rect x="142.5" y="1708" width="872.0" height="1.02" fill="url(#d116)"/><rect x="142.5" y="1709" width="872.0" height="1.02" fill="url(#d117)"/><rect x="142.5" y="1710" width="872.0" height="1.02" fill="url(#d118)"/><rect x="142.5" y="1711" width="872.0" height="1.02" fill="url(#d119)"/><rect x="142.5" y="1712" width="872.0" height="1.02" fill="url(#d120)"/><rect x="142.5" y="1713" width="872.0" height="1.02" fill="url(#d121)"/><rect x="142.5" y="1714" width="872.0" height="1.02" fill="url(#d122)"/><rect x="142.5" y="1715" width="872.0" height="1.02" fill="url(#d123)"/><rect x="142.5" y="1716" width="872.0" height="1.02" fill="url(#d124)"/><rect x="142.5" y="1717" width="872.0" height="1.02" fill="url(#d125)"/><rect x="142.5" y="1718" width="872.0" height="1.02" fill="url(#d126)"/><rect x="142.5" y="1719" width="872.0" height="1.02" fill="url(#d127)"/><rect x="142.5" y="1720" width="872.0" height="1.02" fill="url(#d128)"/><rect x="142.5" y="1721" width="872.0" height="1.02" fill="url(#d129)"/><rect x="142.5" y="1722" width="872.0" height="1.02" fill="url(#d130)"/><rect x="142.5" y="1723" width="872.0" height="1.02" fill="url(#d131)"/><rect x="142.5" y="1724" width="872.0" height="1.02" fill="url(#d132)"/><rect x="142.5" y="1725" width="872.0" height="1.02" fill="url(#d133)"/><rect x="142.5" y="1726" width="872.0" height="1.02" fill="url(#d134)"/><rect x="142.5" y="1727" width="872.0" height="1.02" fill="url(#d135)"/><rect x="142.5" y="1728" width="872.0" height="1.02" fill="url(#d136)"/><rect x="142.5" y="1729" width="872.0" height="1.02" fill="url(#d137)"/><rect x="142.5" y="1730" width="872.0" height="1.02" fill="url(#d138)"/><rect x="142.5" y="1731" width="872.0" height="1.02" fill="url(#d139)"/><rect x="142.5" y="1732" width="872.0" height="1.02" fill="url(#d140)"/><rect x="142.5" y="1733" width="872.0" height="1.02" fill="url(#d141)"/><rect x="142.5" y="1734" width="872.0" height="1.02" fill="url(#d142)"/><rect x="142.5" y="1735" width="872.0" height="1.02" fill="url(#d143)"/><rect x="142.5" y="1736" width="872.0" height="1.02" fill="url(#d144)"/><rect x="142.5" y="1737" width="872.0" height="1.02" fill="url(#d145)"/><rect x="142.5" y="1738" width="872.0" height="1.02" fill="url(#d146)"/><rect x="142.5" y="1739" width="872.0" height="1.02" fill="url(#d147)"/><rect x="142.5" y="1740" width="872.0" height="1.02" fill="url(#d148)"/><rect x="142.5" y="1741" width="872.0" height="1.02" fill="url(#d149)"/><rect x="142.5" y="1742" width="872.0" height="1.02" fill="url(#d150)"/><rect x="142.5" y="1743" width="872.0" height="1.02" fill="url(#d151)"/><rect x="142.5" y="1744" width="872.0" height="1.02" fill="url(#d152)"/><rect x="142.5" y="1745" width="872.0" height="1.02" fill="url(#d153)"/><rect x="142.5" y="1746" width="872.0" height="1.02" fill="url(#d154)"/><rect x="142.5" y="1747" width="872.0" height="1.02" fill="url(#d155)"/><rect x="142.5" y="1748" width="872.0" height="1.02" fill="url(#d156)"/><rect x="142.5" y="1749" width="872.0" height="1.02" fill="url(#d157)"/><rect x="142.5" y="1750" width="872.0" height="1.02" fill="url(#d158)"/><rect x="142.5" y="1751" width="872.0" height="1.02" fill="url(#d159)"/><rect x="142.5" y="1752" width="872.0" height="1.02" fill="url(#d160)"/><rect x="142.5" y="1753" width="872.0" height="1.02" fill="url(#d161)"/><rect x="142.5" y="1754" width="872.0" height="1.02" fill="url(#d162)"/><rect x="142.5" y="1755" width="872.0" height="1.02" fill="url(#d163)"/><rect x="142.5" y="1756" width="872.0" height="1.02" fill="url(#d164)"/><rect x="142.5" y="1757" width="872.0" height="1.02" fill="url(#d165)"/><rect x="142.5" y="1758" width="872.0" height="1.02" fill="url(#d166)"/><rect x="142.5" y="1759" width="872.0" height="1.02" fill="url(#d167)"/><rect x="142.5" y="1760" width="872.0" height="1.02" fill="url(#d168)"/><rect x="142.5" y="1761" width="872.0" height="1.02" fill="url(#d169)"/><rect x="142.5" y="1762" width="872.0" height="1.02" fill="url(#d170)"/><rect x="142.5" y="1763" width="872.0" height="1.02" fill="url(#d171)"/><rect x="142.5" y="1764" width="872.0" height="1.02" fill="url(#d172)"/><rect x="142.5" y="1765" width="872.0" height="1.02" fill="url(#d173)"/><rect x="142.5" y="1766" width="872.0" height="1.02" fill="url(#d174)"/><rect x="142.5" y="1767" width="872.0" height="1.02" fill="url(#d175)"/><rect x="142.5" y="1768" width="872.0" height="1.02" fill="url(#d176)"/><rect x="142.5" y="1769" width="872.0" height="1.02" fill="url(#d177)"/><rect x="142.5" y="1770" width="872.0" height="1.02" fill="url(#d178)"/><rect x="142.5" y="1771" width="872.0" height="1.02" fill="url(#d179)"/><rect x="142.5" y="1772" width="872.0" height="1.02" fill="url(#d180)"/><rect x="142.5" y="1773" width="872.0" height="1.02" fill="url(#d181)"/><rect x="142.5" y="1774" width="872.0" height="1.02" fill="url(#d182)"/><rect x="142.5" y="1775" width="872.0" height="1.02" fill="url(#d183)"/><rect x="142.5" y="1776" width="872.0" height="1.02" fill="url(#d184)"/><rect x="142.5" y="1777" width="872.0" height="1.02" fill="url(#d185)"/><rect x="142.5" y="1778" width="872.0" height="1.02" fill="url(#d186)"/><rect x="142.5" y="1779" width="872.0" height="1.02" fill="url(#d187)"/><rect x="142.5" y="1780" width="872.0" height="1.02" fill="url(#d188)"/><rect x="142.5" y="1781" width="872.0" height="1.02" fill="url(#d189)"/><rect x="142.5" y="1782" width="872.0" height="1.02" fill="url(#d190)"/><rect x="142.5" y="1783" width="872.0" height="1.02" fill="url(#d191)"/><rect x="142.5" y="1784" width="872.0" height="1.02" fill="url(#d192)"/><rect x="142.5" y="1785" width="872.0" height="1.02" fill="url(#d193)"/><rect x="142.5" y="1786" width="872.0" height="1.02" fill="url(#d194)"/><rect x="142.5" y="1787" width="872.0" height="1.02" fill="url(#d195)"/><rect x="142.5" y="1788" width="872.0" height="1.02" fill="url(#d196)"/><rect x="142.5" y="1789" width="872.0" height="1.02" fill="url(#d197)"/><rect x="142.5" y="1790" width="872.0" height="1.02" fill="url(#d198)"/><rect x="142.5" y="1791" width="872.0" height="1.02" fill="url(#d199)"/><rect x="142.5" y="1792" width="872.0" height="1.02" fill="url(#d200)"/><rect x="142.5" y="1793" width="872.0" height="1.02" fill="url(#d201)"/><rect x="142.5" y="1794" width="872.0" height="1.02" fill="url(#d202)"/><rect x="142.5" y="1795" width="872.0" height="1.02" fill="url(#d203)"/><rect x="142.5" y="1796" width="872.0" height="1.02" fill="url(#d204)"/><rect x="142.5" y="1797" width="872.0" height="1.02" fill="url(#d205)"/><rect x="142.5" y="1798" width="872.0" height="1.02" fill="url(#d206)"/><rect x="142.5" y="1799" width="872.0" height="1.02" fill="url(#d207)"/><rect x="142.5" y="1800" width="872.0" height="1.02" fill="url(#d208)"/><rect x="142.5" y="1801" width="872.0" height="1.02" fill="url(#d209)"/><rect x="142.5" y="1802" width="872.0" height="1.02" fill="url(#d210)"/><rect x="142.5" y="1803" width="872.0" height="1.02" fill="url(#d211)"/><rect x="142.5" y="1804" width="872.0" height="1.02" fill="url(#d212)"/><rect x="142.5" y="1805" width="872.0" height="1.02" fill="url(#d213)"/><rect x="142.5" y="1806" width="872.0" height="1.02" fill="url(#d214)"/><rect x="142.5" y="1807" width="872.0" height="1.02" fill="url(#d215)"/><rect x="142.5" y="1808" width="872.0" height="1.02" fill="url(#d216)"/><rect x="142.5" y="1809" width="872.0" height="1.02" fill="url(#d217)"/><rect x="142.5" y="1810" width="872.0" height="1.02" fill="url(#d218)"/><rect x="142.5" y="1811" width="872.0" height="1.02" fill="url(#d219)"/><rect x="142.5" y="1812" width="872.0" height="1.02" fill="url(#d220)"/><rect x="142.5" y="1813" width="872.0" height="1.02" fill="url(#d221)"/><rect x="142.5" y="1814" width="872.0" height="1.02" fill="url(#d222)"/><rect x="142.5" y="1815" width="872.0" height="1.02" fill="url(#d223)"/><rect x="142.5" y="1816" width="872.0" height="1.02" fill="url(#d224)"/><rect x="142.5" y="1817" width="872.0" height="1.02" fill="url(#d225)"/><rect x="142.5" y="1818" width="872.0" height="1.02" fill="url(#d226)"/><rect x="142.5" y="1819" width="872.0" height="1.02" fill="url(#d227)"/><rect x="142.5" y="1820" width="872.0" height="1.02" fill="url(#d228)"/><rect x="142.5" y="1821" width="872.0" height="1.02" fill="url(#d229)"/><rect x="142.5" y="1822" width="872.0" height="1.02" fill="url(#d230)"/><rect x="142.5" y="1823" width="872.0" height="1.02" fill="url(#d231)"/><rect x="142.5" y="1824" width="872.0" height="1.02" fill="url(#d232)"/><rect x="142.5" y="1825" width="872.0" height="1.02" fill="url(#d233)"/><rect x="142.5" y="1826" width="872.0" height="1.02" fill="url(#d234)"/><rect x="142.5" y="1827" width="872.0" height="1.02" fill="url(#d235)"/><rect x="142.5" y="1828" width="872.0" height="1.02" fill="url(#d236)"/><rect x="142.5" y="1829" width="872.0" height="1.02" fill="url(#d237)"/><rect x="142.5" y="1830" width="872.0" height="1.02" fill="url(#d238)"/><rect x="142.5" y="1831" width="872.0" height="1.02" fill="url(#d239)"/><rect x="142.5" y="1832" width="872.0" height="1.02" fill="url(#d240)"/><rect x="142.5" y="1833" width="872.0" height="1.02" fill="url(#d241)"/><rect x="142.5" y="1834" width="872.0" height="1.02" fill="url(#d242)"/><rect x="142.5" y="1835" width="872.0" height="1.02" fill="url(#d243)"/><rect x="142.5" y="1836" width="872.0" height="1.02" fill="url(#d244)"/><rect x="142.5" y="1837" width="872.0" height="1.02" fill="url(#d245)"/><rect x="142.5" y="1838" width="872.0" height="1.02" fill="url(#d246)"/><rect x="142.5" y="1839" width="872.0" height="1.02" fill="url(#d247)"/><rect x="142.5" y="1840" width="872.0" height="1.02" fill="url(#d248)"/><rect x="142.5" y="1841" width="872.0" height="1.02" fill="url(#d249)"/><rect x="142.5" y="1842" width="872.0" height="1.02" fill="url(#d250)"/><rect x="142.5" y="1843" width="872.0" height="1.02" fill="url(#d251)"/><rect x="142.5" y="1844" width="872.0" height="1.02" fill="url(#d252)"/><rect x="142.5" y="1845" width="872.0" height="1.02" fill="url(#d253)"/><rect x="142.5" y="1846" width="872.0" height="1.02" fill="url(#d254)"/><rect x="142.5" y="1847" width="872.0" height="1.02" fill="url(#d255)"/><rect x="142.5" y="1848" width="872.0" height="1.02" fill="url(#d256)"/><rect x="142.5" y="1849" width="872.0" height="1.02" fill="url(#d257)"/><rect x="142.5" y="1850" width="872.0" height="1.02" fill="url(#d258)"/><rect x="142.5" y="1851" width="872.0" height="1.02" fill="url(#d259)"/><rect x="142.5" y="1852" width="872.0" height="1.02" fill="url(#d260)"/><rect x="142.5" y="1853" width="872.0" height="1.02" fill="url(#d261)"/><rect x="142.5" y="1854" width="872.0" height="1.02" fill="url(#d262)"/><rect x="142.5" y="1855" width="872.0" height="1.02" fill="url(#d263)"/><rect x="142.5" y="1856" width="872.0" height="1.02" fill="url(#d264)"/><rect x="142.5" y="1857" width="872.0" height="1.02" fill="url(#d265)"/><rect x="142.5" y="1858" width="872.0" height="1.02" fill="url(#d266)"/><rect x="142.5" y="1859" width="872.0" height="1.02" fill="url(#d267)"/><rect x="142.5" y="1860" width="872.0" height="1.02" fill="url(#d268)"/><rect x="142.5" y="1861" width="872.0" height="1.02" fill="url(#d269)"/><rect x="142.5" y="1862" width="872.0" height="1.02" fill="url(#d270)"/><rect x="142.5" y="1863" width="872.0" height="1.02" fill="url(#d271)"/><rect x="142.5" y="1864" width="872.0" height="1.02" fill="url(#d272)"/><rect x="142.5" y="1865" width="872.0" height="1.02" fill="url(#d273)"/><rect x="142.5" y="1866" width="872.0" height="1.02" fill="url(#d274)"/><rect x="142.5" y="1867" width="872.0" height="1.02" fill="url(#d275)"/><rect x="142.5" y="1868" width="872.0" height="1.02" fill="url(#d276)"/><rect x="142.5" y="1869" width="872.0" height="1.02" fill="url(#d277)"/><rect x="142.5" y="1870" width="872.0" height="1.02" fill="url(#d278)"/><rect x="142.5" y="1871" width="872.0" height="1.02" fill="url(#d279)"/><rect x="142.5" y="1872" width="872.0" height="1.02" fill="url(#d280)"/><rect x="142.5" y="1873" width="872.0" height="1.02" fill="url(#d281)"/><rect x="142.5" y="1874" width="872.0" height="1.02" fill="url(#d282)"/><rect x="142.5" y="1875" width="872.0" height="1.02" fill="url(#d283)"/><rect x="142.5" y="1876" width="872.0" height="1.02" fill="url(#d284)"/><rect x="142.5" y="1877" width="872.0" height="1.02" fill="url(#d285)"/><rect x="142.5" y="1878" width="872.0" height="1.02" fill="url(#d286)"/><rect x="142.5" y="1879" width="872.0" height="1.02" fill="url(#d287)"/><rect x="142.5" y="1880" width="872.0" height="1.02" fill="url(#d288)"/><rect x="142.5" y="1881" width="872.0" height="1.02" fill="url(#d289)"/></g>
<g clip-path="url(#clipd)">
<polyline points="142.02,1717.28 146.87,1715.61 151.71,1713.93 156.56,1712.23 161.41,1710.53 166.25,1708.82 171.1,1707.09 175.95,1705.36 180.8,1703.62 185.64,1700.84 190.49,1697.61 195.34,1694.37 200.18,1691.11 205.03,1687.82 209.88,1684.52 214.72,1681.2 219.57,1677.86 224.42,1674.5 229.27,1671.12 234.11,1667.72 238.96,1662.52 243.81,1656.65 248.65,1650.74 253.5,1644.79 258.35,1638.81 263.19,1632.79 268.04,1619.82 272.89,1602.55 275.31,1593.23" fill="none" stroke="#111" stroke-width="2.0" stroke-linejoin="round" stroke-linecap="round" />
<polyline points="142.02,1762.91 146.87,1762.09 151.71,1761.27 156.56,1760.43 161.41,1759.6 166.25,1758.76 171.1,1757.91 175.95,1757.06 180.8,1756.21 185.64,1755.35 190.49,1754.48 195.34,1753.61 200.18,1752.73 205.03,1751.85 209.88,1750.97 214.72,1750.07 219.57,1749.18 224.42,1748.27 229.27,1747.37 234.11,1746.45 238.96,1745.53 243.81,1744.61 248.65,1743.68 253.5,1742.74 258.35,1741.8 263.19,1740.85 268.04,1739.9 272.89,1738.57 277.74,1736.82 282.58,1735.06 287.43,1733.29 292.28,1731.51 297.12,1729.71 301.97,1727.91 306.82,1726.09 311.66,1724.27 316.51,1722.43 321.36,1720.58 326.21,1718.71 331.05,1716.84 335.9,1714.95 340.75,1713.05 345.59,1711.14 350.44,1709.22 355.29,1707.28 360.13,1705.33 364.98,1703.37 369.83,1699.98 374.68,1696.34 379.52,1692.69 384.37,1689 389.22,1685.3 394.06,1681.56 398.91,1677.81 403.76,1674.02 408.61,1670.21 413.45,1666.08 418.3,1659.49 423.15,1652.86 427.99,1646.18 432.84,1639.46 437.69,1632.69 442.53,1617.38 447.38,1597.93 448.59,1590.73" fill="none" stroke="#111" stroke-width="2.0" stroke-linejoin="round" stroke-linecap="round" />
<polyline points="142.02,1790.38 146.87,1789.92 151.71,1789.46 156.56,1788.99 161.41,1788.52 166.25,1788.05 171.1,1787.58 175.95,1787.1 180.8,1786.62 185.64,1786.14 190.49,1785.66 195.34,1785.17 200.18,1784.68 205.03,1784.19 209.88,1783.69 214.72,1783.19 219.57,1782.69 224.42,1782.18 229.27,1781.67 234.11,1781.16 238.96,1780.65 243.81,1780.13 248.65,1779.61 253.5,1779.08 258.35,1778.56 263.19,1778.03 268.04,1777.49 272.89,1776.95 277.74,1776.41 282.58,1775.87 287.43,1775.11 292.28,1774.25 297.12,1773.38 301.97,1772.51 306.82,1771.63 311.66,1770.75 316.51,1769.86 321.36,1768.97 326.21,1768.07 331.05,1767.16 335.9,1766.25 340.75,1765.33 345.59,1764.41 350.44,1763.48 355.29,1762.55 360.13,1761.6 364.98,1760.66 369.83,1759.7 374.68,1758.74 379.52,1757.78 384.37,1756.8 389.22,1755.82 394.06,1754.83 398.91,1753.84 403.76,1752.84 408.61,1751.83 413.45,1750.82 418.3,1749.8 423.15,1748.77 427.99,1747.74 432.84,1746.7 437.69,1745.65 442.53,1744.59 447.38,1743.53 452.23,1742.46 457.07,1741.38 461.92,1740.29 466.77,1739.03 471.62,1737.03 476.46,1735.02 481.31,1733 486.16,1730.96 491,1728.91 495.85,1726.84 500.7,1724.75 505.54,1722.65 510.39,1720.54 515.24,1718.41 520.09,1716.26 524.93,1714.1 529.78,1711.92 534.63,1709.73 539.47,1707.52 544.32,1705.29 549.17,1703.01 554.01,1698.87 558.86,1694.71 563.71,1690.51 568.56,1686.29 573.4,1682.03 578.25,1677.73 583.1,1673.41 587.94,1669.05 592.79,1663.14 597.64,1655.58 602.49,1647.97 607.33,1640.29 612.18,1632.56 617.03,1614.24 620.66,1597.56" fill="none" stroke="#111" stroke-width="2.0" stroke-linejoin="round" stroke-linecap="round" />
<polyline points="142.02,1812.84 146.87,1812.57 151.71,1812.3 156.56,1812.04 161.41,1811.65 166.25,1811.25 171.1,1810.84 175.95,1810.43 180.8,1810.02 185.64,1809.61 190.49,1809.2 195.34,1808.78 200.18,1808.36 205.03,1807.93 209.88,1807.51 214.72,1807.08 219.57,1806.65 224.42,1806.22 229.27,1805.78 234.11,1805.34 238.96,1804.9 243.81,1804.46 248.65,1804.01 253.5,1803.56 258.35,1803.11 263.19,1802.65 268.04,1802.2 272.89,1801.74 277.74,1801.27 282.58,1800.81 287.43,1800.34 292.28,1799.87 297.12,1799.39 301.97,1798.91 306.82,1798.43 311.66,1797.95 316.51,1797.46 321.36,1796.97 326.21,1796.47 331.05,1795.98 335.9,1795.48 340.75,1794.97 345.59,1794.47 350.44,1793.96 355.29,1793.44 360.13,1792.93 364.98,1792.41 369.83,1791.88 374.68,1791.36 379.52,1790.83 384.37,1790.29 389.22,1789.76 394.06,1789.21 398.91,1788.67 403.76,1788.12 408.61,1787.57 413.45,1787.01 418.3,1786.45 423.15,1785.89 427.99,1785.32 432.84,1784.75 437.69,1784.17 442.53,1783.59 447.38,1783.01 452.23,1782.42 457.07,1781.83 461.92,1781.24 466.77,1780.64 471.62,1780.03 476.46,1779.42 481.31,1778.81 486.16,1778.19 491,1777.57 495.85,1776.94 500.7,1776.31 505.54,1775.66 510.39,1774.66 515.24,1773.65 520.09,1772.64 524.93,1771.62 529.78,1770.58 534.63,1769.55 539.47,1768.5 544.32,1767.45 549.17,1766.38 554.01,1765.31 558.86,1764.24 563.71,1763.15 568.56,1762.06 573.4,1760.95 578.25,1759.84 583.1,1758.72 587.94,1757.59 592.79,1756.45 597.64,1755.31 602.49,1754.15 607.33,1752.99 612.18,1751.81 617.03,1750.63 621.87,1749.44 626.72,1748.23 631.57,1747.02 636.41,1745.8 641.26,1744.57 646.11,1743.33 650.96,1742.07 655.8,1740.81 660.65,1739.54 665.5,1737.32 670.34,1734.98 675.19,1732.62 680.04,1730.23 684.88,1727.83 689.73,1725.4 694.58,1722.96 699.42,1720.49 704.27,1718.01 709.12,1715.5 713.97,1712.97 718.81,1710.41 723.66,1707.84 728.51,1705.24 733.35,1702.23 738.2,1697.4 743.05,1692.52 747.89,1687.6 752.74,1682.64 757.59,1677.64 762.44,1672.59 767.28,1667.49 772.13,1659.2 776.98,1650.34 781.82,1641.41 786.67,1632.38 791.52,1610.05 793.94,1597.06" fill="none" stroke="#111" stroke-width="2.0" stroke-linejoin="round" stroke-linecap="round" />
<polyline points="142.02,1828.22 146.87,1827.99 151.71,1827.77 156.56,1827.55 161.41,1827.32 166.25,1827.1 171.1,1826.87 175.95,1826.64 180.8,1826.41 185.64,1826.18 190.49,1825.95 195.34,1825.71 200.18,1825.48 205.03,1825.24 209.88,1825 214.72,1824.76 219.57,1824.52 224.42,1824.28 229.27,1824.03 234.11,1823.79 238.96,1823.54 243.81,1823.29 248.65,1823.04 253.5,1822.79 258.35,1822.53 263.19,1822.28 268.04,1822.02 272.89,1821.77 277.74,1821.51 282.58,1821.24 287.43,1820.98 292.28,1820.72 297.12,1820.45 301.97,1820.18 306.82,1819.91 311.66,1819.64 316.51,1819.37 321.36,1819.09 326.21,1818.82 331.05,1818.54 335.9,1818.26 340.75,1817.97 345.59,1817.69 350.44,1817.41 355.29,1817.12 360.13,1816.83 364.98,1816.54 369.83,1816.24 374.68,1815.95 379.52,1815.65 384.37,1815.35 389.22,1815.05 394.06,1814.75 398.91,1814.44 403.76,1814.13 408.61,1813.82 413.45,1813.51 418.3,1813.2 423.15,1812.88 427.99,1812.56 432.84,1812.24 437.69,1811.88 442.53,1811.4 447.38,1810.91 452.23,1810.42 457.07,1809.93 461.92,1809.43 466.77,1808.93 471.62,1808.43 476.46,1807.92 481.31,1807.41 486.16,1806.9 491,1806.38 495.85,1805.86 500.7,1805.33 505.54,1804.8 510.39,1804.27 515.24,1803.73 520.09,1803.19 524.93,1802.64 529.78,1802.09 534.63,1801.54 539.47,1800.98 544.32,1800.42 549.17,1799.85 554.01,1799.28 558.86,1798.71 563.71,1798.13 568.56,1797.54 573.4,1796.96 578.25,1796.36 583.1,1795.76 587.94,1795.16 592.79,1794.56 597.64,1793.94 602.49,1793.33 607.33,1792.71 612.18,1792.08 617.03,1791.45 621.87,1790.81 626.72,1790.17 631.57,1789.53 636.41,1788.87 641.26,1788.22 646.11,1787.55 650.96,1786.89 655.8,1786.21 660.65,1785.53 665.5,1784.85 670.34,1784.16 675.19,1783.46 680.04,1782.76 684.88,1782.05 689.73,1781.34 694.58,1780.62 699.42,1779.89 704.27,1779.16 709.12,1778.42 713.97,1777.68 718.81,1776.93 723.66,1776.17 728.51,1775.24 733.35,1774.03 738.2,1772.81 743.05,1771.59 747.89,1770.35 752.74,1769.1 757.59,1767.84 762.44,1766.57 767.28,1765.29 772.13,1763.99 776.98,1762.68 781.82,1761.36 786.67,1760.03 791.52,1758.69 796.37,1757.33 801.21,1755.97 806.06,1754.58 810.91,1753.19 815.75,1751.78 820.6,1750.36 825.45,1748.92 830.29,1747.47 835.14,1746.01 839.99,1744.53 844.84,1743.04 849.68,1741.54 854.53,1740.01 859.38,1737.73 864.22,1734.92 869.07,1732.08 873.92,1729.21 878.76,1726.31 883.61,1723.38 888.46,1720.43 893.31,1717.44 898.15,1714.42 903,1711.37 907.85,1708.29 912.69,1705.17 917.54,1701.13 922.39,1695.32 927.23,1689.45 932.08,1683.51 936.93,1677.5 941.78,1671.43 946.62,1664.24 951.47,1653.66 956.32,1642.96 961.16,1632.14 966.01,1604.16 967.22,1596.36" fill="none" stroke="#111" stroke-width="2.0" stroke-linejoin="round" stroke-linecap="round" />
<polyline points="142.02,1843.59 146.87,1843.42 151.71,1843.24 156.56,1843.06 161.41,1842.88 166.25,1842.7 171.1,1842.52 175.95,1842.33 180.8,1842.15 185.64,1841.97 190.49,1841.78 195.34,1841.59 200.18,1841.4 205.03,1841.21 209.88,1841.02 214.72,1840.83 219.57,1840.64 224.42,1840.44 229.27,1840.25 234.11,1840.05 238.96,1839.85 243.81,1839.65 248.65,1839.45 253.5,1839.25 258.35,1839.05 263.19,1838.85 268.04,1838.64 272.89,1838.43 277.74,1838.23 282.58,1838.02 287.43,1837.81 292.28,1837.6 297.12,1837.38 301.97,1837.17 306.82,1836.95 311.66,1836.73 316.51,1836.52 321.36,1836.3 326.21,1836.07 331.05,1835.85 335.9,1835.63 340.75,1835.4 345.59,1835.17 350.44,1834.95 355.29,1834.72 360.13,1834.48 364.98,1834.25 369.83,1834.02 374.68,1833.78 379.52,1833.54 384.37,1833.3 389.22,1833.06 394.06,1832.82 398.91,1832.57 403.76,1832.33 408.61,1832.08 413.45,1831.83 418.3,1831.58 423.15,1831.33 427.99,1831.07 432.84,1830.82 437.69,1830.56 442.53,1830.3 447.38,1830.04 452.23,1829.77 457.07,1829.51 461.92,1829.24 466.77,1828.97 471.62,1828.7 476.46,1828.43 481.31,1828.15 486.16,1827.88 491,1827.6 495.85,1827.32 500.7,1827.03 505.54,1826.75 510.39,1826.46 515.24,1826.17 520.09,1825.88 524.93,1825.59 529.78,1825.29 534.63,1824.99 539.47,1824.69 544.32,1824.39 549.17,1824.09 554.01,1823.78 558.86,1823.47 563.71,1823.16 568.56,1822.84 573.4,1822.53 578.25,1822.21 583.1,1821.89 587.94,1821.56 592.79,1821.24 597.64,1820.91 602.49,1820.57 607.33,1820.24 612.18,1819.9 617.03,1819.56 621.87,1819.22 626.72,1818.88 631.57,1818.53 636.41,1818.18 641.26,1817.82 646.11,1817.47 650.96,1817.11 655.8,1816.75 660.65,1816.38 665.5,1816.01 670.34,1815.64 675.19,1815.27 680.04,1814.89 684.88,1814.51 689.73,1814.12 694.58,1813.74 699.42,1813.34 704.27,1812.95 709.12,1812.55 713.97,1812.15 718.81,1811.63 723.66,1811.02 728.51,1810.41 733.35,1809.79 738.2,1809.17 743.05,1808.54 747.89,1807.91 752.74,1807.27 757.59,1806.62 762.44,1805.97 767.28,1805.31 772.13,1804.65 776.98,1803.98 781.82,1803.31 786.67,1802.62 791.52,1801.94 796.37,1801.24 801.21,1800.54 806.06,1799.83 810.91,1799.12 815.75,1798.4 820.6,1797.67 825.45,1796.94 830.29,1796.19 835.14,1795.44 839.99,1794.69 844.84,1793.92 849.68,1793.15 854.53,1792.37 859.38,1791.59 864.22,1790.79 869.07,1789.99 873.92,1789.18 878.76,1788.36 883.61,1787.53 888.46,1786.7 893.31,1785.85 898.15,1785 903,1784.14 907.85,1783.26 912.69,1782.38 917.54,1781.49 922.39,1780.6 927.23,1779.69 932.08,1778.77 936.93,1777.84 941.78,1776.9 946.62,1775.95 951.47,1774.59 956.32,1773.08 961.16,1771.55 966.01,1770 970.86,1768.43 975.7,1766.85 980.55,1765.24 985.4,1763.62 990.25,1761.98 995.09,1760.32 999.94,1758.65 1004.79,1756.95 1009.63,1755.23 1014.48,1753.49" fill="none" stroke="#111" stroke-width="2.0" stroke-linejoin="round" stroke-linecap="round" />
<polyline points="142.02,1854.82 146.87,1854.74 151.71,1854.66 156.56,1854.58 161.41,1854.49 166.25,1854.41 171.1,1854.33 175.95,1854.24 180.8,1854.16 185.64,1854.07 190.49,1853.99 195.34,1853.9 200.18,1853.82 205.03,1853.73 209.88,1853.64 214.72,1853.55 219.57,1853.47 224.42,1853.38 229.27,1853.29 234.11,1853.2 238.96,1853.11 243.81,1853.02 248.65,1852.92 253.5,1852.83 258.35,1852.74 263.19,1852.65 268.04,1852.55 272.89,1852.46 277.74,1852.36 282.58,1852.27 287.43,1852.17 292.28,1852.07 297.12,1851.97 301.97,1851.88 306.82,1851.78 311.66,1851.68 316.51,1851.58 321.36,1851.48 326.21,1851.38 331.05,1851.27 335.9,1851.17 340.75,1851.07 345.59,1850.96 350.44,1850.86 355.29,1850.75 360.13,1850.65 364.98,1850.54 369.83,1850.43 374.68,1850.32 379.52,1850.21 384.37,1850.11 389.22,1849.99 394.06,1849.88 398.91,1849.77 403.76,1849.66 408.61,1849.55 413.45,1849.43 418.3,1849.32 423.15,1849.2 427.99,1849.08 432.84,1848.97 437.69,1848.85 442.53,1848.73 447.38,1848.61 452.23,1848.49 457.07,1848.37 461.92,1848.21 466.77,1848.01 471.62,1847.8 476.46,1847.6 481.31,1847.39 486.16,1847.18 491,1846.98 495.85,1846.76 500.7,1846.55 505.54,1846.34 510.39,1846.12 515.24,1845.91 520.09,1845.69 524.93,1845.47 529.78,1845.25 534.63,1845.02 539.47,1844.8 544.32,1844.57 549.17,1844.34 554.01,1844.11 558.86,1843.88 563.71,1843.65 568.56,1843.41 573.4,1843.17 578.25,1842.93 583.1,1842.69 587.94,1842.45 592.79,1842.2 597.64,1841.96 602.49,1841.71 607.33,1841.46 612.18,1841.2 617.03,1840.95 621.87,1840.69 626.72,1840.43 631.57,1840.17 636.41,1839.91 641.26,1839.65 646.11,1839.38 650.96,1839.11 655.8,1838.84 660.65,1838.56 665.5,1838.29 670.34,1838.01 675.19,1837.73 680.04,1837.44 684.88,1837.16 689.73,1836.87 694.58,1836.58 699.42,1836.29 704.27,1835.99 709.12,1835.69 713.97,1835.39 718.81,1835.09 723.66,1834.78 728.51,1834.47 733.35,1834.16 738.2,1833.85 743.05,1833.53 747.89,1833.21 752.74,1832.89 757.59,1832.56 762.44,1832.24 767.28,1831.9 772.13,1831.57 776.98,1831.23 781.82,1830.89 786.67,1830.55 791.52,1830.2 796.37,1829.85 801.21,1829.5 806.06,1829.14 810.91,1828.78 815.75,1828.42 820.6,1828.05 825.45,1827.68 830.29,1827.3 835.14,1826.93 839.99,1826.54 844.84,1826.16 849.68,1825.77 854.53,1825.38 859.38,1824.98 864.22,1824.58 869.07,1824.17 873.92,1823.76 878.76,1823.35 883.61,1822.93 888.46,1822.51 893.31,1822.09 898.15,1821.66 903,1821.22 907.85,1820.78 912.69,1820.34 917.54,1819.89 922.39,1819.43 927.23,1818.98 932.08,1818.51 936.93,1818.04 941.78,1817.57 946.62,1817.09 951.47,1816.61 956.32,1816.12 961.16,1815.62 966.01,1815.12 970.86,1814.62 975.7,1814.11 980.55,1813.59 985.4,1813.07 990.25,1812.54 995.09,1812 999.94,1811.19 1004.79,1810.38 1009.63,1809.56 1014.48,1808.72" fill="none" stroke="#111" stroke-width="2.0" stroke-linejoin="round" stroke-linecap="round" />
<polyline points="142.02,1864.22 146.87,1864.16 151.71,1864.11 156.56,1864.05 161.41,1864 166.25,1863.94 171.1,1863.89 175.95,1863.83 180.8,1863.78 185.64,1863.72 190.49,1863.66 195.34,1863.61 200.18,1863.55 205.03,1863.49 209.88,1863.43 214.72,1863.37 219.57,1863.31 224.42,1863.25 229.27,1863.19 234.11,1863.13 238.96,1863.07 243.81,1863.01 248.65,1862.95 253.5,1862.89 258.35,1862.83 263.19,1862.77 268.04,1862.7 272.89,1862.64 277.74,1862.58 282.58,1862.51 287.43,1862.45 292.28,1862.38 297.12,1862.32 301.97,1862.25 306.82,1862.19 311.66,1862.12 316.51,1862.05 321.36,1861.99 326.21,1861.92 331.05,1861.85 335.9,1861.78 340.75,1861.71 345.59,1861.64 350.44,1861.58 355.29,1861.5 360.13,1861.43 364.98,1861.36 369.83,1861.29 374.68,1861.22 379.52,1861.15 384.37,1861.07 389.22,1861 394.06,1860.93 398.91,1860.85 403.76,1860.78 408.61,1860.7 413.45,1860.62 418.3,1860.55 423.15,1860.47 427.99,1860.39 432.84,1860.31 437.69,1860.23 442.53,1860.16 447.38,1860.08 452.23,1860 457.07,1859.91 461.92,1859.83 466.77,1859.75 471.62,1859.67 476.46,1859.58 481.31,1859.5 486.16,1859.42 491,1859.33 495.85,1859.24 500.7,1859.16 505.54,1859.07 510.39,1858.98 515.24,1858.89 520.09,1858.81 524.93,1858.72 529.78,1858.63 534.63,1858.53 539.47,1858.44 544.32,1858.35 549.17,1858.26 554.01,1858.16 558.86,1858.07 563.71,1857.97 568.56,1857.88 573.4,1857.78 578.25,1857.68 583.1,1857.59 587.94,1857.49 592.79,1857.39 597.64,1857.29 602.49,1857.18 607.33,1857.08 612.18,1856.98 617.03,1856.88 621.87,1856.77 626.72,1856.67 631.57,1856.56 636.41,1856.45 641.26,1856.34 646.11,1856.24 650.96,1856.13 655.8,1856.02 660.65,1855.9 665.5,1855.79 670.34,1855.68 675.19,1855.56 680.04,1855.45 684.88,1855.33 689.73,1855.21 694.58,1855.1 699.42,1854.98 704.27,1854.86 709.12,1854.73 713.97,1854.61 718.81,1854.49 723.66,1854.36 728.51,1854.24 733.35,1854.11 738.2,1853.98 743.05,1853.85 747.89,1853.72 752.74,1853.59 757.59,1853.46 762.44,1853.33 767.28,1853.19 772.13,1853.06 776.98,1852.92 781.82,1852.78 786.67,1852.64 791.52,1852.5 796.37,1852.35 801.21,1852.21 806.06,1852.07 810.91,1851.92 815.75,1851.77 820.6,1851.62 825.45,1851.47 830.29,1851.32 835.14,1851.16 839.99,1851.01 844.84,1850.85 849.68,1850.69 854.53,1850.53 859.38,1850.37 864.22,1850.21 869.07,1850.04 873.92,1849.88 878.76,1849.71 883.61,1849.54 888.46,1849.37 893.31,1849.19 898.15,1849.02 903,1848.84 907.85,1848.66 912.69,1848.48 917.54,1848.3 922.39,1847.99 927.23,1847.69 932.08,1847.38 936.93,1847.07 941.78,1846.75 946.62,1846.43 951.47,1846.11 956.32,1845.78 961.16,1845.45 966.01,1845.12 970.86,1844.78 975.7,1844.44 980.55,1844.1 985.4,1843.75 990.25,1843.39 995.09,1843.04 999.94,1842.68 1004.79,1842.31 1009.63,1841.94 1014.48,1841.57" fill="none" stroke="#111" stroke-width="2.0" stroke-linejoin="round" stroke-linecap="round" />
<polyline points="142.02,1873.61 146.87,1873.59 151.71,1873.56 156.56,1873.53 161.41,1873.5 166.25,1873.48 171.1,1873.45 175.95,1873.42 180.8,1873.39 185.64,1873.36 190.49,1873.34 195.34,1873.31 200.18,1873.28 205.03,1873.25 209.88,1873.22 214.72,1873.19 219.57,1873.16 224.42,1873.13 229.27,1873.1 234.11,1873.07 238.96,1873.04 243.81,1873.01 248.65,1872.98 253.5,1872.95 258.35,1872.92 263.19,1872.89 268.04,1872.86 272.89,1872.82 277.74,1872.79 282.58,1872.76 287.43,1872.73 292.28,1872.7 297.12,1872.66 301.97,1872.63 306.82,1872.6 311.66,1872.57 316.51,1872.53 321.36,1872.5 326.21,1872.46 331.05,1872.43 335.9,1872.4 340.75,1872.36 345.59,1872.33 350.44,1872.29 355.29,1872.26 360.13,1872.22 364.98,1872.19 369.83,1872.15 374.68,1872.11 379.52,1872.08 384.37,1872.04 389.22,1872 394.06,1871.97 398.91,1871.93 403.76,1871.89 408.61,1871.85 413.45,1871.82 418.3,1871.78 423.15,1871.74 427.99,1871.7 432.84,1871.66 437.69,1871.62 442.53,1871.58 447.38,1871.54 452.23,1871.5 457.07,1871.46 461.92,1871.42 466.77,1871.38 471.62,1871.34 476.46,1871.3 481.31,1871.25 486.16,1871.21 491,1871.17 495.85,1871.13 500.7,1871.08 505.54,1871.04 510.39,1871 515.24,1870.95 520.09,1870.91 524.93,1870.86 529.78,1870.82 534.63,1870.77 539.47,1870.73 544.32,1870.68 549.17,1870.63 554.01,1870.59 558.86,1870.54 563.71,1870.49 568.56,1870.44 573.4,1870.39 578.25,1870.35 583.1,1870.3 587.94,1870.25 592.79,1870.2 597.64,1870.15 602.49,1870.1 607.33,1870.05 612.18,1869.99 617.03,1869.94 621.87,1869.89 626.72,1869.84 631.57,1869.78 636.41,1869.73 641.26,1869.68 646.11,1869.62 650.96,1869.57 655.8,1869.51 660.65,1869.46 665.5,1869.4 670.34,1869.34 675.19,1869.29 680.04,1869.23 684.88,1869.17 689.73,1869.11 694.58,1869.05 699.42,1868.99 704.27,1868.93 709.12,1868.87 713.97,1868.81 718.81,1868.75 723.66,1868.69 728.51,1868.62 733.35,1868.56 738.2,1868.5 743.05,1868.43 747.89,1868.37 752.74,1868.3 757.59,1868.23 762.44,1868.17 767.28,1868.1 772.13,1868.03 776.98,1867.96 781.82,1867.89 786.67,1867.82 791.52,1867.75 796.37,1867.68 801.21,1867.61 806.06,1867.54 810.91,1867.46 815.75,1867.39 820.6,1867.31 825.45,1867.24 830.29,1867.16 835.14,1867.09 839.99,1867.01 844.84,1866.93 849.68,1866.85 854.53,1866.77 859.38,1866.69 864.22,1866.61 869.07,1866.53 873.92,1866.44 878.76,1866.36 883.61,1866.27 888.46,1866.19 893.31,1866.1 898.15,1866.01 903,1865.92 907.85,1865.83 912.69,1865.74 917.54,1865.65 922.39,1865.56 927.23,1865.47 932.08,1865.37 936.93,1865.28 941.78,1865.18 946.62,1865.08 951.47,1864.98 956.32,1864.89 961.16,1864.78 966.01,1864.68 970.86,1864.58 975.7,1864.48 980.55,1864.37 985.4,1864.26 990.25,1864.16 995.09,1864.05 999.94,1863.94 1004.79,1863.82 1009.63,1863.71 1014.48,1863.6" fill="none" stroke="#111" stroke-width="2.0" stroke-linejoin="round" stroke-linecap="round" />
</g>
<rect x="142.5" y="1592.6" width="872" height="289.4" fill="none" stroke="#222" stroke-width="1.8"/>
<path d="M335.9 1882v-6M335.9 1592.6v6M578.25 1882v-6M578.25 1592.6v6M820.6 1882v-6M820.6 1592.6v6" stroke="#222" stroke-width="1.5" fill="none"/>
<path d="M142.02 1882v-3M190.49 1882v-3M238.96 1882v-3M287.43 1882v-3M335.9 1882v-3M384.37 1882v-3M432.84 1882v-3M481.31 1882v-3M529.78 1882v-3M578.25 1882v-3M626.72 1882v-3M675.19 1882v-3M723.66 1882v-3M772.13 1882v-3M820.6 1882v-3M869.07 1882v-3M917.54 1882v-3M966.01 1882v-3M1014.48 1882v-3" stroke="#222" stroke-width="1.5" fill="none"/>
<path d="M142.5 1812.05h17.4M142.5 1739.45h17.4M142.5 1666.85h17.4M142.5 1594.25h17.4" stroke="#222" stroke-width="1.5" fill="none"/>
<path d="M142.5 1877.39h8.7M142.5 1870.13h8.7M142.5 1862.87h8.7M142.5 1855.61h8.7M142.5 1848.35h8.7M142.5 1841.09h8.7M142.5 1833.83h8.7M142.5 1826.57h8.7M142.5 1819.31h8.7M142.5 1812.05h8.7M142.5 1804.79h8.7M142.5 1797.53h8.7M142.5 1790.27h8.7M142.5 1783.01h8.7M142.5 1775.75h8.7M142.5 1768.49h8.7M142.5 1761.23h8.7M142.5 1753.97h8.7M142.5 1746.71h8.7M142.5 1739.45h8.7M142.5 1732.19h8.7M142.5 1724.93h8.7M142.5 1717.67h8.7M142.5 1710.41h8.7M142.5 1703.15h8.7M142.5 1695.89h8.7M142.5 1688.63h8.7M142.5 1681.37h8.7M142.5 1674.11h8.7M142.5 1666.85h8.7M142.5 1659.59h8.7M142.5 1652.33h8.7M142.5 1645.07h8.7M142.5 1637.81h8.7M142.5 1630.55h8.7M142.5 1623.29h8.7M142.5 1616.03h8.7M142.5 1608.77h8.7M142.5 1601.51h8.7M142.5 1594.25h8.7" stroke="#222" stroke-width="1.5" fill="none"/>
<path d="M1014.5 1848.35h-17.4M1014.5 1812.05h-17.4M1014.5 1775.75h-17.4M1014.5 1739.45h-17.4M1014.5 1703.15h-17.4" stroke="#222" stroke-width="1.5" fill="none"/>
<text x="133.5" y="1612.3" font-size="25" text-anchor="end" >8</text>
<text x="133.5" y="1678.1" font-size="25" text-anchor="end" >7</text>
<text x="133.5" y="1750.9" font-size="25" text-anchor="end" >6</text>
<text x="133.5" y="1823.6" font-size="25" text-anchor="end" >5</text>
<text x="335.9" y="1925" font-size="25" text-anchor="middle" >-50</text>
<text x="578.25" y="1925" font-size="25" text-anchor="middle" >0</text>
<text x="820.6" y="1925" font-size="25" text-anchor="middle" >50</text>
<text x="578" y="1960.7" font-size="24.6" text-anchor="middle" >Latitude <tspan font-weight="normal">(</tspan>deg<tspan font-weight="normal">)</tspan></text>
<text transform="translate(95.3,1737.9) rotate(-90)" font-size="24.9" text-anchor="middle">Height <tspan font-weight="normal">(</tspan>Rs<tspan font-weight="normal">)</tspan></text>
</g>
</svg></body></html>
